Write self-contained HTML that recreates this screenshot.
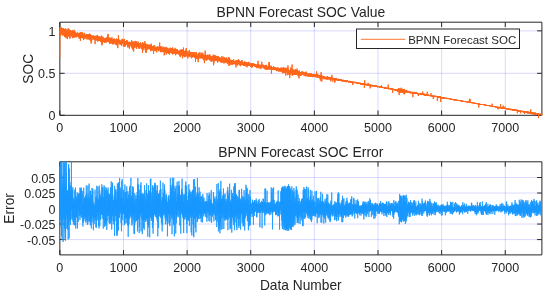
<!DOCTYPE html>
<html><head><meta charset="utf-8"><title>BPNN Forecast SOC</title>
<style>html,body{margin:0;padding:0;background:#fff;width:550px;height:296px;overflow:hidden}svg{display:block}</style>
</head><body>
<svg width="550" height="296" viewBox="0 0 550 296" font-family="'Liberation Sans', Arial, Helvetica, sans-serif" fill="#262626">
<rect width="550" height="296" fill="#fff"/>
<text x="300.8" y="16.8" text-anchor="middle" font-size="13.9">BPNN Forecast SOC Value</text>
<text x="300.8" y="156.8" text-anchor="middle" font-size="13.9">BPNN Forecast SOC Error</text>
<path d="M123.48 22.20V115.30M187.11 22.20V115.30M250.74 22.20V115.30M314.36 22.20V115.30M377.99 22.20V115.30M441.62 22.20V115.30M505.25 22.20V115.30" stroke="#0000ff" stroke-opacity="0.15" stroke-width="1.0" fill="none"/>
<path d="M59.85 73.30H541.90M59.85 30.85H541.90" stroke="#0000ff" stroke-opacity="0.15" stroke-width="1.0" fill="none"/>
<path d="M59.85 22.20H541.90V115.30H59.85ZM59.85 115.30v-4.8M59.85 22.20v4.8M123.48 115.30v-4.8M123.48 22.20v4.8M187.11 115.30v-4.8M187.11 22.20v4.8M250.74 115.30v-4.8M250.74 22.20v4.8M314.36 115.30v-4.8M314.36 22.20v4.8M377.99 115.30v-4.8M377.99 22.20v4.8M441.62 115.30v-4.8M441.62 22.20v4.8M505.25 115.30v-4.8M505.25 22.20v4.8M59.85 115.30h4.8M541.90 115.30h-4.8M59.85 73.30h4.8M541.90 73.30h-4.8M59.85 30.85h4.8M541.90 30.85h-4.8" stroke="#262626" stroke-width="1" fill="none"/>
<text x="59.85" y="131.70" text-anchor="middle" font-size="12.5">0</text>
<text x="123.48" y="131.70" text-anchor="middle" font-size="12.5">1000</text>
<text x="187.11" y="131.70" text-anchor="middle" font-size="12.5">2000</text>
<text x="250.74" y="131.70" text-anchor="middle" font-size="12.5">3000</text>
<text x="314.36" y="131.70" text-anchor="middle" font-size="12.5">4000</text>
<text x="377.99" y="131.70" text-anchor="middle" font-size="12.5">5000</text>
<text x="441.62" y="131.70" text-anchor="middle" font-size="12.5">6000</text>
<text x="505.25" y="131.70" text-anchor="middle" font-size="12.5">7000</text>
<text x="55.50" y="120.30" text-anchor="end" font-size="12.5">0</text>
<text x="55.50" y="78.30" text-anchor="end" font-size="12.5">0.5</text>
<text x="55.50" y="35.85" text-anchor="end" font-size="12.5">1</text>
<path d="M59.85 57.84l.06 -22.58 .07 -.32 .06 -4.32 .06 .54 .07 -.56 .06 2.74 .07 -1.54 .06 2.01 .06 -6.44 .07 8.49 .06 -4.12 .06 1.94 .07 -2.02 .06 -.59 .06 2.10 .07 .91 .06 -2.54 .07 .14 .06 2.09 .06 -3.85 .07 -1.58 .06 4.74 .06 -2.63 .07 -3.07 .06 2.74 .06 .87 .07 -1.78 .06 -.73 .07 3.79 .06 2.13 .06 -2.78 .07 -1.24 .06 2.79 .06 .83 .07 -2.50 .06 2.09 .06 1.24 .07 -3.06 .06 -1.48 .07 2.86 .06 -.23 .06 2.10 .07 -5.84 .06 1.54 .06 -.42 .07 -2.19 .06 4.57 .06 1.00 .07 -3.09 .06 5.21 .07 -1.37 .06 -.47 .06 -.54 .07 1.37 .06 -5.58 .06 4.76 .07 -.01 .06 -5.78 .06 5.17 .07 -1.44 .06 2.52 .06 -2.96 .07 1.04 .06 .89 .07 -2.96 .06 3.60 .06 -1.70 .07 1.46 .06 -2.45 .06 3.91 .07 -1.15 .06 -1.89 .06 1.97 .07 1.54 .06 1.29 .07 -8.14 .06 5.96 .06 -1.00 .07 -1.34 .06 -2.20 .06 5.49 .07 -6.08 .06 4.43 .06 1.78 .07 -6.99 .06 3.14 .07 -2.42 .06 3.76 .06 3.08 .07 1.23 .06 -9.15 .06 2.91 .07 3.09 .06 2.12 .06 -2.78 .07 -2.79 .06 2.52 .07 -.75 .06 -.44 .06 -1.26 .07 2.71 .06 -.18 .06 -.95 .07 -.30 .06 -2.54 .06 1.93 .07 4.06 .06 -3.33 .07 -2.98 .06 6.65 .06 -1.92 .07 3.78 .06 -4.87 .06 -1.24 .07 -2.35 .06 6.63 .06 2.81 .07 -7.90 .06 .42 .07 2.97 .06 -3.38 .06 1.34 .07 -.18 .06 1.30 .06 2.16 .07 -2.54 .06 2.14 .06 -3.16 .07 1.78 .06 -5.84 .07 1.65 .06 5.33 .06 -3.27 .07 2.78 .06 -.08 .06 1.86 .07 -1.20 .06 .50 .06 -2.66 .07 -1.38 .06 -.06 .07 .58 .06 -1.50 .06 1.39 .07 1.08 .06 .82 .06 -1.38 .07 -3.72 .06 4.37 .06 .71 .07 2.03 .06 -1.18 .07 -2.86 .06 -.17 .06 6.43 .07 -2.94 .06 2.54 .06 .71 .07 -6.91 .06 2.84 .06 .18 .07 .24 .06 -.03 .07 -.78 .06 -.06 .06 -3.91 .07 3.14 .06 -1.35 .06 2.06 .07 -1.38 .06 2.55 .06 .47 .07 -1.18 .06 .03 .06 -.51 .07 -1.25 .06 .68 .07 -.76 .06 2.06 .06 -.86 .07 1.33 .06 -4.42 .06 5.16 .07 -3.83 .06 .08 .06 1.26 .07 -.84 .06 1.99 .07 -1.99 .06 -1.14 .06 .53 .07 5.01 .06 -2.92 .06 -2.79 .07 2.73 .06 -3.61 .06 7.74 .07 -7.64 .06 4.63 .07 .16 .06 -4.58 .06 4.04 .07 1.62 .06 -1.21 .06 -.46 .07 1.59 .06 -1.80 .06 .40 .07 -1.04 .06 1.71 .07 -3.48 .06 3.83 .06 -2.82 .07 -1.24 .06 3.13 .06 2.81 .07 -1.55 .06 -3.07 .06 2.51 .07 -2.34 .06 .68 .07 .44 .06 -4.73 .06 4.95 .07 -2.35 .06 .66 .06 -1.44 .07 -.04 .06 1.10 .06 3.27 .07 1.52 .06 -3.05 .07 1.98 .06 -2.38 .06 -2.83 .07 3.57 .06 .51 .06 -1.46 .07 1.23 .06 .44 .06 -2.31 .07 -.94 .06 2.00 .07 .04 .06 -.21 .06 2.04 .07 1.09 .06 -3.17 .06 1.64 .07 .34 .06 -.33 .06 .46 .07 -1.97 .06 1.54 .07 1.75 .06 -1.64 .06 -1.91 .07 1.67 .06 .89 .06 -1.19 .07 -1.25 .06 2.85 .06 -3.76 .07 2.38 .06 -.69 .07 -1.58 .06 3.27 .06 -1.16 .07 -2.04 .06 2.40 .06 -1.39 .07 -1.97 .06 1.65 .06 1.30 .07 .51 .06 -.62 .07 -.16 .06 .59 .06 -.91 .07 1.89 .06 -1.38 .06 .21 .07 .34 .06 -2.15 .06 .48 .07 3.04 .06 -1.60 .07 -.83 .06 .86 .06 -1.11 .07 1.04 .06 -1.26 .06 1.28 .07 -2.50 .06 3.95 .06 -2.48 .07 -1.44 .06 1.85 .06 -.19 .07 .72 .06 -1.74 .07 2.10 .06 2.86 .06 -5.11 .07 2.20 .06 -.87 .06 .69 .07 -2.70 .06 .90 .06 2.20 .07 -.67 .06 2.28 .07 -3.16 .06 1.21 .06 3.16 .07 -4.42 .06 -.17 .06 1.19 .07 -.01 .06 1.22 .06 -.96 .07 -1.19 .06 6.55 .07 -2.11 .06 -1.66 .06 -5.10 .07 3.21 .06 -.99 .06 2.05 .07 -1.07 .06 2.87 .06 -1.35 .07 -.04 .06 -.95 .07 -.30 .06 .53 .06 1.31 .07 -1.02 .06 -1.19 .06 2.22 .07 -1.46 .06 -.36 .06 -.96 .07 .32 .06 -.09 .07 -2.52 .06 4.79 .06 -.60 .07 -1.05 .06 1.72 .06 -.81 .07 -.08 .06 -3.86 .06 3.06 .07 1.05 .06 1.48 .07 .32 .06 -.55 .06 -3.51 .07 -1.40 .06 3.78 .06 -.73 .07 1.28 .06 -1.46 .06 .48 .07 -2.33 .06 2.66 .07 -1.20 .06 1.09 .06 .16 .07 -.78 .06 .61 .06 -.44 .07 1.06 .06 3.03 .06 -4.79 .07 -.04 .06 3.18 .07 -2.50 .06 1.50 .06 -.80 .07 -1.29 .06 -.25 .06 1.20 .07 .20 .06 .49 .06 -2.55 .07 .93 .06 .69 .07 2.32 .06 -5.38 .06 3.82 .07 -1.32 .06 1.33 .06 -1.24 .07 1.17 .06 1.65 .06 -1.64 .07 .12 .06 -.07 .07 -1.52 .06 1.77 .06 -1.01 .07 -.81 .06 1.06 .06 -.24 .07 1.35 .06 -1.08 .06 -.65 .07 2.72 .06 -.63 .06 .40 .07 -.90 .06 -.97 .07 -.41 .06 .20 .06 1.69 .07 -1.13 .06 -2.17 .06 1.99 .07 -1.87 .06 2.17 .06 -1.86 .07 -.07 .06 1.90 .07 -.26 .06 -2.15 .06 3.30 .07 1.94 .06 -4.96 .06 4.52 .07 -3.42 .06 .28 .06 .44 .07 -1.72 .06 3.76 .07 -1.09 .06 -1.69 .06 .66 .07 -1.68 .06 1.60 .06 1.77 .07 -3.61 .06 1.76 .06 .80 .07 1.25 .06 .42 .07 -2.46 .06 -.38 .06 1.64 .07 -1.10 .06 .09 .06 1.91 .07 .85 .06 -1.94 .06 -.62 .07 1.06 .06 -3.36 .07 2.57 .06 -1.41 .06 4.73 .07 -2.27 .06 -.79 .06 -.44 .07 -3.15 .06 4.41 .06 1.27 .07 -3.22 .06 1.94 .07 .07 .06 -3.10 .06 3.41 .07 .59 .06 -1.54 .06 -.38 .07 1.17 .06 -3.18 .06 2.25 .07 1.33 .06 -3.14 .07 3.08 .06 -1.92 .06 -2.27 .07 2.72 .06 4.09 .06 -3.49 .07 -2.03 .06 3.06 .06 -2.45 .07 1.52 .06 -1.30 .07 7.10 .06 -4.62 .06 -1.33 .07 -.83 .06 -1.17 .06 3.33 .07 -.58 .06 3.33 .06 -3.98 .07 -1.74 .06 .03 .07 .27 .06 1.64 .06 -.07 .07 -1.42 .06 2.05 .06 .07 .07 -.83 .06 1.20 .06 -1.81 .07 .25 .06 .82 .07 -.69 .06 1.15 .06 -2.80 .07 3.69 .06 -3.02 .06 .86 .07 -1.66 .06 2.73 .06 .94 .07 -.27 .06 -.31 .06 -3.28 .07 1.08 .06 .45 .07 -.64 .06 2.84 .06 -1.28 .07 -.28 .06 .72 .06 -1.97 .07 .07 .06 .05 .06 1.91 .07 -.21 .06 .34 .07 .70 .06 -3.34 .06 1.10 .07 .99 .06 -2.05 .06 1.14 .07 2.14 .06 .13 .06 -.03 .07 -1.41 .06 -.34 .07 1.79 .06 -1.99 .06 .99 .07 1.37 .06 4.31 .06 -6.95 .07 .84 .06 .85 .06 -.15 .07 -.44 .06 .56 .07 -2.96 .06 1.03 .06 1.42 .07 -1.49 .06 -.56 .06 .19 .07 .41 .06 1.03 .06 -1.15 .07 1.75 .06 2.02 .07 -2.53 .06 1.97 .06 -1.35 .07 -1.93 .06 1.20 .06 -.99 .07 2.43 .06 -2.64 .06 3.43 .07 -1.02 .06 -3.58 .07 3.89 .06 1.07 .06 -3.22 .07 2.46 .06 -3.83 .06 2.84 .07 -2.63 .06 2.97 .06 -3.13 .07 -.97 .06 4.01 .07 2.63 .06 -3.98 .06 1.98 .07 -.98 .06 -.59 .06 1.31 .07 1.43 .06 -3.97 .06 2.50 .07 -.29 .06 -2.43 .07 4.21 .06 .47 .06 -4.00 .07 3.73 .06 -2.31 .06 -.29 .07 2.31 .06 -1.75 .06 .14 .07 1.66 .06 -.30 .07 -.54 .06 -3.16 .06 -.23 .07 3.75 .06 -2.83 .06 1.50 .07 -1.68 .06 1.24 .06 -1.51 .07 4.04 .06 -3.65 .07 1.25 .06 -.08 .06 1.94 .07 -3.63 .06 1.93 .06 -.23 .07 1.04 .06 -.07 .06 -1.29 .07 .99 .06 -.84 .07 1.18 .06 -.78 .06 -.76 .07 .88 .06 .56 .06 2.64 .07 -3.81 .06 1.12 .06 1.61 .07 -4.90 .06 .48 .06 .78 .07 1.50 .06 3.55 .07 -2.83 .06 1.15 .06 -1.98 .07 -3.09 .06 .21 .06 4.64 .07 -1.15 .06 -2.04 .06 8.06 .07 -8.38 .06 3.73 .07 .45 .06 -3.07 .06 -.47 .07 2.73 .06 -2.69 .06 2.73 .07 -2.84 .06 6.66 .06 -4.85 .07 -.72 .06 -.63 .07 1.58 .06 -2.95 .06 2.26 .07 -.16 .06 1.51 .06 -2.68 .07 4.14 .06 -2.80 .06 -1.14 .07 3.52 .06 .39 .07 -2.56 .06 -.97 .06 1.28 .07 -.97 .06 .53 .06 2.61 .07 -1.61 .06 -.33 .06 .29 .07 -.55 .06 1.26 .07 .07 .06 -1.73 .06 .67 .07 3.22 .06 -2.76 .06 -.83 .07 3.12 .06 -2.83 .06 -1.53 .07 2.48 .06 -2.18 .07 .57 .06 1.16 .06 -.62 .07 -.88 .06 .31 .06 -.05 .07 2.46 .06 -2.61 .06 .21 .07 3.65 .06 -3.60 .07 2.86 .06 -.23 .06 -2.04 .07 -1.75 .06 2.62 .06 .32 .07 .42 .06 -1.24 .06 1.59 .07 .27 .06 -3.40 .07 3.48 .06 -1.74 .06 -1.02 .07 .35 .06 3.08 .06 -1.24 .07 -3.86 .06 2.63 .06 -.30 .07 -.04 .06 -.46 .07 -1.31 .06 3.25 .06 -2.50 .07 .80 .06 -.31 .06 -.17 .07 2.07 .06 -.49 .06 -1.47 .07 -.37 .06 .68 .07 2.02 .06 -6.27 .06 5.26 .07 -.77 .06 .11 .06 .67 .07 -2.86 .06 -3.75 .06 5.24 .07 .32 .06 2.68 .06 -1.55 .07 -.24 .06 -.87 .07 -1.35 .06 2.45 .06 1.42 .07 -2.92 .06 3.18 .06 -3.47 .07 .56 .06 1.74 .06 -.69 .07 .97 .06 -1.99 .07 -.39 .06 -1.16 .06 .94 .07 .19 .06 -.48 .06 2.44 .07 -1.35 .06 -1.85 .06 6.27 .07 -4.63 .06 -.58 .07 3.51 .06 -.10 .06 -3.23 .07 -.44 .06 .67 .06 3.00 .07 -2.01 .06 -.69 .06 1.11 .07 1.74 .06 -3.64 .07 1.43 .06 -1.40 .06 5.02 .07 -.48 .06 -1.21 .06 -1.52 .07 1.13 .06 -3.90 .06 3.38 .07 -2.27 .06 .02 .07 .89 .06 .51 .06 1.33 .07 .19 .06 -.61 .06 -1.71 .07 2.32 .06 -1.13 .06 1.87 .07 -2.98 .06 -2.25 .07 2.90 .06 3.76 .06 -2.39 .07 -.93 .06 1.55 .06 -.53 .07 -.05 .06 -1.39 .06 .86 .07 .19 .06 -1.20 .07 -.68 .06 1.82 .06 1.21 .07 -.45 .06 -.21 .06 .02 .07 2.89 .06 -3.22 .06 1.14 .07 1.34 .06 -2.74 .07 .31 .06 1.14 .06 .95 .07 -1.98 .06 .08 .06 -.38 .07 -1.87 .06 3.38 .06 -1.98 .07 -2.12 .06 2.30 .07 -2.29 .06 1.06 .06 1.50 .07 -1.35 .06 2.91 .06 -3.69 .07 2.54 .06 .44 .06 1.34 .07 -.78 .06 -1.00 .07 -.21 .06 -.19 .06 1.77 .07 -2.62 .06 1.73 .06 -.89 .07 .51 .06 -.73 .06 3.54 .07 -4.10 .06 1.35 .06 .05 .07 .50 .06 -.22 .07 -.03 .06 .83 .06 -3.66 .07 2.25 .06 -1.83 .06 2.18 .07 -2.08 .06 .34 .06 1.34 .07 2.18 .06 -1.21 .07 -.40 .06 1.65 .06 -3.48 .07 -1.69 .06 2.49 .06 .23 .07 2.26 .06 1.36 .06 -5.16 .07 5.69 .06 -1.35 .07 -1.07 .06 -.69 .06 3.09 .07 -3.50 .06 -.82 .06 .93 .07 -2.25 .06 2.77 .06 -.86 .07 .67 .06 .06 .07 5.76 .06 -4.30 .06 -3.50 .07 2.88 .06 -3.73 .06 2.97 .07 -1.78 .06 1.31 .06 -1.04 .07 -2.30 .06 -3.32 .07 6.74 .06 .86 .06 -3.16 .07 -.99 .06 1.91 .06 1.02 .07 -.63 .06 -.26 .06 2.53 .07 .19 .06 -.33 .07 -2.55 .06 1.56 .06 -.40 .07 -1.87 .06 3.53 .06 -1.20 .07 -.86 .06 2.92 .06 -.99 .07 .15 .06 .54 .07 -.73 .06 -3.03 .06 1.36 .07 2.14 .06 -2.70 .06 1.24 .07 .57 .06 1.62 .06 -.21 .07 -.61 .06 -1.66 .07 1.71 .06 -.58 .06 -1.06 .07 2.36 .06 -1.32 .06 -1.92 .07 3.13 .06 -2.34 .06 1.33 .07 -3.27 .06 2.34 .07 -1.43 .06 -.03 .06 -1.45 .07 6.31 .06 -3.55 .06 .61 .07 1.37 .06 -1.91 .06 1.00 .07 -2.90 .06 2.43 .07 -.94 .06 1.44 .06 -.49 .07 -2.44 .06 -.72 .06 1.32 .07 2.75 .06 -.47 .06 -.03 .07 -3.78 .06 -.76 .07 2.96 .06 .47 .06 -.41 .07 1.51 .06 -.81 .06 -1.59 .07 .49 .06 1.62 .06 -.10 .07 -.22 .06 3.71 .06 -3.99 .07 .62 .06 -1.76 .07 1.02 .06 1.41 .06 .08 .07 -1.14 .06 .89 .06 -.53 .07 -3.06 .06 -.98 .06 7.65 .07 -2.34 .06 -1.40 .07 -2.66 .06 .75 .06 4.20 .07 -6.14 .06 3.48 .06 1.91 .07 -1.14 .06 .99 .06 -1.41 .07 4.05 .06 -5.46 .07 -.52 .06 2.63 .06 1.85 .07 -2.36 .06 1.78 .06 -2.52 .07 -1.03 .06 4.14 .06 .28 .07 -.04 .06 -3.15 .07 -1.13 .06 -.01 .06 1.52 .07 1.30 .06 -.11 .06 -3.09 .07 2.61 .06 -.27 .06 .13 .07 -.17 .06 -.28 .07 1.28 .06 -.73 .06 .17 .07 -1.45 .06 1.74 .06 -.81 .07 -3.18 .06 4.17 .06 -1.19 .07 1.91 .06 -1.72 .07 .11 .06 .51 .06 -.35 .07 -.68 .06 -2.14 .06 5.81 .07 -5.45 .06 1.99 .06 1.60 .07 -.43 .06 .31 .07 .33 .06 .80 .06 -1.53 .07 3.53 .06 -5.60 .06 1.99 .07 -.92 .06 -.29 .06 1.34 .07 1.88 .06 -3.45 .07 .01 .06 2.30 .06 -.27 .07 2.26 .06 -1.47 .06 -1.26 .07 -.88 .06 .88 .06 -.61 .07 -1.89 .06 2.20 .07 -.28 .06 -.08 .06 -.30 .07 5.55 .06 -3.74 .06 .40 .07 -2.45 .06 -.66 .06 1.19 .07 .86 .06 -.93 .07 .26 .06 1.84 .06 -1.04 .07 -2.04 .06 .90 .06 -.35 .07 1.34 .06 -2.13 .06 1.58 .07 1.40 .06 -1.05 .06 -1.49 .07 .49 .06 1.19 .07 .58 .06 .58 .06 -1.56 .07 -1.85 .06 4.37 .06 -1.78 .07 .18 .06 -.15 .06 -2.12 .07 1.15 .06 .93 .07 1.25 .06 -1.54 .06 -4.06 .07 3.60 .06 .96 .06 1.51 .07 -.92 .06 2.84 .06 -1.68 .07 -.12 .06 -.63 .07 -3.69 .06 3.56 .06 -.38 .07 -1.78 .06 1.78 .06 -.26 .07 -1.39 .06 .55 .06 -.21 .07 .80 .06 4.73 .07 -4.21 .06 -3.90 .06 2.61 .07 -2.22 .06 1.92 .06 1.60 .07 5.19 .06 -6.17 .06 .30 .07 2.40 .06 -4.24 .07 3.17 .06 5.60 .06 -7.73 .07 1.02 .06 -1.61 .06 1.69 .07 .85 .06 -3.05 .06 1.79 .07 -.47 .06 -2.47 .07 2.80 .06 -.96 .06 3.40 .07 -3.50 .06 4.10 .06 -3.54 .07 3.94 .06 -2.21 .06 -.13 .07 .57 .06 .17 .07 .80 .06 .53 .06 -3.28 .07 -1.43 .06 -1.97 .06 3.37 .07 1.83 .06 -.60 .06 -.40 .07 -.73 .06 -.45 .07 .58 .06 1.07 .06 -3.40 .07 3.96 .06 -3.45 .06 2.07 .07 -.74 .06 .43 .06 -1.07 .07 -.16 .06 1.47 .07 -1.34 .06 5.63 .06 -4.55 .07 -.37 .06 .18 .06 -.82 .07 -2.18 .06 3.50 .06 .90 .07 -2.86 .06 2.40 .07 -1.91 .06 1.87 .06 .64 .07 .21 .06 -.07 .06 -1.80 .07 2.52 .06 -2.09 .06 1.28 .07 .57 .06 -1.59 .06 -1.54 .07 3.02 .06 -2.73 .07 .37 .06 -.33 .06 3.09 .07 -1.58 .06 -3.29 .06 4.73 .07 2.13 .06 -.42 .06 -3.74 .07 1.04 .06 .69 .07 .62 .06 -1.35 .06 -1.77 .07 2.93 .06 -.21 .06 -3.07 .07 1.54 .06 1.02 .06 -.42 .07 .84 .06 .44 .07 -.39 .06 -1.03 .06 -1.94 .07 3.12 .06 1.25 .06 .92 .07 -3.17 .06 .01 .06 2.35 .07 0 .06 -1.72 .07 .60 .06 -2.32 .06 2.13 .07 -2.21 .06 1.08 .06 .05 .07 -.54 .06 -2.58 .06 2.04 .07 1.84 .06 -.61 .07 -.51 .06 1.31 .06 .42 .07 .26 .06 -2.60 .06 1.32 .07 -.55 .06 -.85 .06 -.97 .07 2.22 .06 -1.21 .07 4.78 .06 -3.54 .06 -.19 .07 -.26 .06 3.60 .06 -4.44 .07 1.25 .06 -.95 .06 1.03 .07 .15 .06 1.80 .07 -3.96 .06 2.21 .06 2.60 .07 -3.35 .06 .54 .06 7.26 .07 -10.87 .06 3.76 .06 2.03 .07 -2.58 .06 -2.17 .07 3.35 .06 -.29 .06 1.46 .07 -.13 .06 -1.85 .06 1.07 .07 -3.45 .06 4.60 .06 -1.45 .07 1.42 .06 -.02 .07 -2.12 .06 .23 .06 -1.13 .07 -1.87 .06 7.28 .06 -3.76 .07 -1.94 .06 2.84 .06 -.95 .07 .57 .06 -1.92 .07 -1.55 .06 4.01 .06 -.25 .07 -1.12 .06 -.48 .06 .24 .07 .23 .06 -.58 .06 -2.35 .07 4.41 .06 -6.58 .07 4.84 .06 .06 .06 .90 .07 -2.94 .06 4.45 .06 -.85 .07 .19 .06 .79 .06 -3.24 .07 7.05 .06 -5.24 .06 1.55 .07 -.22 .06 -2.66 .07 .71 .06 .60 .06 -3.27 .07 1.80 .06 .06 .06 7.11 .07 -7.11 .06 3.50 .06 -2.43 .07 -2.64 .06 6.13 .07 -5.00 .06 2.51 .06 1.72 .07 -3.51 .06 -1.08 .06 3.58 .07 -1.52 .06 -2.02 .06 .24 .07 1.09 .06 2.14 .07 -1.95 .06 1.49 .06 1.58 .07 -.60 .06 .28 .06 -.31 .07 -4.45 .06 4.45 .06 -1.39 .07 -.70 .06 -1.49 .07 -.78 .06 .76 .06 1.72 .07 -1.80 .06 .57 .06 .33 .07 2.02 .06 -1.50 .06 .25 .07 2.32 .06 -2.58 .07 1.46 .06 -2.59 .06 2.19 .07 -.32 .06 .10 .06 -1.00 .07 -.87 .06 1.16 .06 -.26 .07 2.37 .06 -.19 .07 -3.29 .06 2.87 .06 -1.72 .07 1.48 .06 -1.46 .06 -1.54 .07 3.91 .06 -.87 .06 -2.62 .07 -1.03 .06 2.13 .07 -1.00 .06 1.29 .06 1.55 .07 1.34 .06 -2.84 .06 2.72 .07 -.32 .06 -2.49 .06 -1.92 .07 3.96 .06 -.37 .07 2.74 .06 -1.44 .06 -1.00 .07 1.43 .06 -4.27 .06 1.95 .07 -.72 .06 3.17 .06 -1.83 .07 -4.79 .06 6.07 .07 -3.55 .06 2.65 .06 -1.95 .07 1.14 .06 .63 .06 -.68 .07 -1.79 .06 3.70 .06 -1.56 .07 -.63 .06 1.14 .07 -1.93 .06 3.80 .06 -2.59 .07 .23 .06 -.02 .06 -1.95 .07 -.40 .06 2.19 .06 .22 .07 1.56 .06 -1.38 .06 -2.40 .07 2.54 .06 .48 .07 .28 .06 -1.03 .06 -2.42 .07 3.73 .06 -2.94 .06 2.05 .07 -3.35 .06 3.67 .06 4.66 .07 -4.15 .06 1.08 .07 -.92 .06 -3.64 .06 .36 .07 .13 .06 2.40 .06 -.48 .07 -.28 .06 .24 .06 .43 .07 .13 .06 1.63 .07 -2.72 .06 .42 .06 -3.20 .07 .84 .06 .99 .06 -.76 .07 2.21 .06 1.29 .06 -2.30 .07 -.07 .06 -.03 .07 1.01 .06 -1.04 .06 1.53 .07 -.19 .06 .08 .06 .66 .07 -1.13 .06 .18 .06 2.53 .07 -2.80 .06 1.32 .07 -1.15 .06 -.78 .06 .01 .07 -.56 .06 1.31 .06 -.95 .07 .29 .06 2.57 .06 -2.10 .07 2.00 .06 -1.35 .07 .94 .06 -2.29 .06 1.20 .07 3.67 .06 -2.59 .06 .28 .07 -1.19 .06 .98 .06 -3.13 .07 .49 .06 2.01 .07 .62 .06 -1.91 .06 .36 .07 -.26 .06 .28 .06 -1.57 .07 -.35 .06 2.11 .06 -2.56 .07 1.19 .06 .50 .07 -.60 .06 2.02 .06 -1.06 .07 .58 .06 -1.44 .06 .43 .07 1.96 .06 -.22 .06 -1.28 .07 1.30 .06 -.27 .07 -.03 .06 2.24 .06 -3.09 .07 1.28 .06 .01 .06 -1.00 .07 -1.44 .06 2.89 .06 -.65 .07 -.33 .06 -.03 .07 .01 .06 -1.41 .06 1.85 .07 -3.25 .06 2.77 .06 -6.33 .07 5.84 .06 1.67 .06 -1.50 .07 -.34 .06 1.55 .06 -1.20 .07 -.21 .06 .03 .07 2.97 .06 -1.30 .06 -.28 .07 -2.58 .06 2.81 .06 -2.95 .07 2.76 .06 -2.47 .06 4.77 .07 -5.63 .06 4.52 .07 -.64 .06 -3.99 .06 2.39 .07 2.62 .06 -.46 .06 -4.33 .07 1.78 .06 -1.01 .06 .25 .07 .60 .06 3.86 .07 -2.64 .06 -.54 .06 -.16 .07 1.56 .06 .05 .06 -2.49 .07 3.72 .06 -3.95 .06 1.26 .07 1.14 .06 1.96 .07 -3.17 .06 .99 .06 1.58 .07 -1.04 .06 .79 .06 -.12 .07 -1.20 .06 .59 .06 .45 .07 -1.45 .06 2.53 .07 -5.54 .06 1.66 .06 3.67 .07 -1.56 .06 -1.65 .06 1.59 .07 1.11 .06 -2.53 .06 2.06 .07 -1.37 .06 .03 .07 .08 .06 1.84 .06 -3.45 .07 1.18 .06 1.61 .06 -2.91 .07 -.54 .06 8.11 .06 -5.64 .07 -.22 .06 .46 .07 -1.72 .06 5.48 .06 -5.47 .07 .86 .06 -1.52 .06 1.57 .07 3.01 .06 -2.32 .06 .91 .07 -1.66 .06 3.56 .07 -2.54 .06 -2.17 .06 3.13 .07 -1.75 .06 1.52 .06 -.71 .07 .20 .06 -.18 .06 -1.60 .07 -.92 .06 3.85 .07 -1.71 .06 .66 .06 -1.15 .07 -2.40 .06 1.17 .06 4.14 .07 -3.36 .06 5.69 .06 -6.72 .07 1.46 .06 .25 .07 .24 .06 .24 .06 -.85 .07 .10 .06 .88 .06 .53 .07 -.71 .06 2.92 .06 -2.36 .07 -.06 .06 -1.25 .07 2.61 .06 -3.16 .06 -.90 .07 1.00 .06 2.47 .06 -2.71 .07 3.77 .06 -2.02 .06 -2.29 .07 1.99 .06 3.12 .06 -4.07 .07 -.68 .06 2.82 .07 1.24 .06 -.44 .06 -2.06 .07 .80 .06 .23 .06 1.32 .07 1.51 .06 -3.47 .06 2.18 .07 -2.52 .06 1.45 .07 -2.34 .06 .27 .06 1.83 .07 -2.01 .06 2.76 .06 -2.20 .07 .98 .06 -.24 .06 -.38 .07 .73 .06 1.47 .07 2.31 .06 -5.78 .06 2.31 .07 -.73 .06 -1.12 .06 1.86 .07 -1.79 .06 1.25 .06 2.04 .07 -5.01 .06 3.50 .07 .32 .06 -2.15 .06 2.29 .07 -.25 .06 -1.07 .06 2.41 .07 -3.86 .06 3.01 .06 -1.34 .07 -1.25 .06 1.36 .07 -.25 .06 1.80 .06 -3.55 .07 2.02 .06 -.39 .06 3.13 .07 -4.13 .06 3.36 .06 -4.32 .07 3.24 .06 -.73 .07 .80 .06 -1.65 .06 -1.91 .07 .63 .06 4.40 .06 -1.68 .07 -1.64 .06 2.72 .06 -2.52 .07 .02 .06 -.72 .07 3.68 .06 1.22 .06 -4.49 .07 1.94 .06 1.07 .06 1.75 .07 -6.92 .06 3.91 .06 .78 .07 -3.25 .06 2.91 .07 -.31 .06 .81 .06 -1.99 .07 1.55 .06 -1.57 .06 1.88 .07 -.68 .06 -.81 .06 -1.59 .07 4.72 .06 -.82 .07 -.34 .06 -2.36 .06 .49 .07 3.11 .06 -1.41 .06 -2.43 .07 1.39 .06 .15 .06 -.51 .07 -1.13 .06 3.39 .07 -1.01 .06 -1.20 .06 -2.10 .07 1.53 .06 .91 .06 1.35 .07 -1.89 .06 2.28 .06 -1.47 .07 -1.35 .06 -2.55 .06 1.92 .07 -.48 .06 2.07 .07 .75 .06 1.64 .06 -2.14 .07 -1.74 .06 5.39 .06 -3.12 .07 -.87 .06 .02 .06 -1.66 .07 3.06 .06 -.39 .07 1.87 .06 -.73 .06 -.35 .07 .61 .06 -2.35 .06 -.23 .07 .61 .06 -1.81 .06 1.70 .07 -.28 .06 1.54 .07 -1.03 .06 -2.89 .06 2.98 .07 2.14 .06 -4.97 .06 1.66 .07 1.20 .06 -2.04 .06 1.20 .07 .94 .06 -2.09 .07 2.48 .06 .19 .06 -2.56 .07 2.00 .06 1.62 .06 -1.91 .07 .95 .06 .33 .06 -1.33 .07 1.87 .06 -.90 .07 -2.09 .06 2.33 .06 .53 .07 -.08 .06 -2.20 .06 1.70 .07 1.41 .06 -1.74 .06 1.48 .07 .19 .06 -2.04 .07 1.08 .06 -1.44 .06 2.09 .07 -1.76 .06 -.69 .06 .81 .07 -.06 .06 .71 .06 .14 .07 -2.48 .06 .80 .07 1.55 .06 .20 .06 -.59 .07 3.73 .06 -2.13 .06 -1.81 .07 1.24 .06 .95 .06 -1.47 .07 -3.21 .06 2.82 .07 -.06 .06 3.20 .06 -6.05 .07 5.18 .06 2.11 .06 -3.03 .07 -1.85 .06 .73 .06 1.47 .07 -1.59 .06 1.50 .07 -1.72 .06 -.49 .06 .30 .07 -.42 .06 .60 .06 2.27 .07 -3.85 .06 -.74 .06 2.52 .07 2.61 .06 -.96 .07 .43 .06 -.10 .06 -3.00 .07 1.30 .06 -4.00 .06 2.92 .07 1.86 .06 -3.28 .06 -.76 .07 1.17 .06 2.33 .06 1.46 .07 2.00 .06 -1.57 .07 -4.48 .06 7.60 .06 -5.03 .07 1.39 .06 -4.06 .06 1.68 .07 .13 .06 .75 .06 -.31 .07 1.07 .06 .84 .07 -1.49 .06 1.05 .06 1.91 .07 -4.58 .06 -.03 .06 -4.09 .07 8.54 .06 -2.56 .06 1.43 .07 -2.12 .06 1.87 .07 -2.33 .06 1.99 .06 -.41 .07 .02 .06 1.50 .06 -.45 .07 -2.52 .06 2.27 .06 -3.92 .07 4.11 .06 2.17 .07 -2.84 .06 -.02 .06 -.66 .07 1.18 .06 -1.94 .06 1.73 .07 -1.42 .06 -.22 .06 .85 .07 -.27 .06 -2.53 .07 5.81 .06 -2.93 .06 -2.78 .07 4.23 .06 -1.67 .06 .36 .07 .78 .06 -2.43 .06 -2.61 .07 3.84 .06 .54 .07 1.16 .06 -2.66 .06 .76 .07 1.02 .06 -6.37 .06 5.40 .07 .78 .06 -1.89 .06 3.93 .07 -3.79 .06 1.46 .07 -.54 .06 -.57 .06 1.90 .07 .73 .06 .69 .06 -1.32 .07 -1.55 .06 2.00 .06 -3.49 .07 2.28 .06 .72 .07 .08 .06 -2.60 .06 -.51 .07 4.80 .06 -3.29 .06 -1.71 .07 .62 .06 6.23 .06 -2.54 .07 -1.79 .06 1.84 .07 -1.47 .06 .38 .06 .78 .07 -2.05 .06 1.03 .06 -1.03 .07 -.37 .06 1.97 .06 -2.23 .07 1.37 .06 -1.31 .07 1.07 .06 -.65 .06 2.46 .07 -1.52 .06 0 .06 2.39 .07 -6.39 .06 2.21 .06 -2.19 .07 3.88 .06 .68 .07 .32 .06 -.56 .06 -1.72 .07 3.98 .06 -2.18 .06 -.85 .07 -1.29 .06 2.34 .06 -1.37 .07 .07 .06 1.00 .06 .03 .07 -1.57 .06 3.15 .07 -3.40 .06 -.17 .06 2.17 .07 -.27 .06 -.07 .06 -.72 .07 .69 .06 -.90 .06 -1.64 .07 3.62 .06 -2.63 .07 1.19 .06 1.46 .06 -1.06 .07 3.73 .06 -5.86 .06 1.00 .07 1.27 .06 1.93 .06 -2.42 .07 -1.77 .06 3.90 .07 -3.11 .06 1.10 .06 1.64 .07 -2.33 .06 .34 .06 1.43 .07 -1.04 .06 .75 .06 -1.85 .07 1.26 .06 -1.46 .07 -.69 .06 5.01 .06 -1.96 .07 .71 .06 -2.83 .06 1.43 .07 -.26 .06 -1.82 .06 2.98 .07 -1.91 .06 .80 .07 -1.98 .06 3.80 .06 -.34 .07 -.54 .06 -1.96 .06 .57 .07 2.67 .06 -2.25 .06 .83 .07 -.18 .06 -1.89 .07 4.00 .06 -5.28 .06 3.34 .07 -.46 .06 -2.29 .06 2.95 .07 .29 .06 -.69 .06 -1.32 .07 1.94 .06 1.01 .07 -1.33 .06 2.27 .06 -1.29 .07 -.12 .06 .94 .06 -3.08 .07 .22 .06 1.58 .06 .01 .07 1.51 .06 -.54 .07 -1.45 .06 .08 .06 -.73 .07 7.03 .06 -7.27 .06 2.05 .07 -2.06 .06 .19 .06 .79 .07 -1.00 .06 .44 .07 -2.93 .06 3.86 .06 -1.01 .07 .77 .06 .28 .06 -3.33 .07 6.42 .06 -3.35 .06 .05 .07 -2.93 .06 3.65 .07 -.29 .06 -1.14 .06 .94 .07 1.58 .06 -2.41 .06 -.83 .07 3.38 .06 -1.58 .06 -.65 .07 3.74 .06 -3.20 .06 -.49 .07 .67 .06 -.99 .07 .93 .06 -.08 .06 -1.20 .07 .60 .06 .86 .06 .12 .07 .31 .06 .31 .06 -.79 .07 5.93 .06 -6.86 .07 .19 .06 1.96 .06 -4.52 .07 3.53 .06 3.02 .06 -6.35 .07 5.04 .06 -4.89 .06 3.19 .07 1.89 .06 -.20 .07 -3.59 .06 -.59 .06 -.20 .07 3.24 .06 -1.66 .06 .60 .07 .39 .06 .23 .06 .20 .07 -.61 .06 -2.59 .07 4.60 .06 -6.00 .06 5.69 .07 -2.75 .06 .62 .06 -.48 .07 .24 .06 .53 .06 -.38 .07 -1.21 .06 2.93 .07 -2.14 .06 2.89 .06 -2.23 .07 -.81 .06 1.72 .06 .68 .07 -2.70 .06 .97 .06 2.57 .07 -3.61 .06 .23 .07 1.53 .06 -2.05 .06 -1.86 .07 1.20 .06 3.06 .06 .43 .07 -.08 .06 -.29 .06 -2.41 .07 2.86 .06 .72 .07 -2.75 .06 2.46 .06 -1.94 .07 .84 .06 .27 .06 -2.75 .07 4.41 .06 -3.44 .06 1.13 .07 -.57 .06 1.42 .07 -.02 .06 -.60 .06 2.08 .07 -1.67 .06 -1.00 .06 -3.17 .07 3.36 .06 0 .06 -.85 .07 .03 .06 2.17 .07 .68 .06 1.27 .06 -1.11 .07 -2.73 .06 1.44 .06 -2.39 .07 3.11 .06 -.54 .06 -1.42 .07 .76 .06 -.20 .07 -.56 .06 2.90 .06 1.70 .07 -2.41 .06 .36 .06 -1.32 .07 -.74 .06 3.77 .06 3.11 .07 -5.75 .06 -.75 .06 1.06 .07 -.93 .06 .96 .07 -2.74 .06 1.73 .06 2.19 .07 -3.54 .06 .55 .06 3.02 .07 -8.34 .06 7.91 .06 -4.86 .07 3.52 .06 -2.08 .07 -.16 .06 2.67 .06 1.15 .07 -3.94 .06 .58 .06 .78 .07 .69 .06 -1.76 .06 5.29 .07 -2.45 .06 -1.38 .07 -.23 .06 4.19 .06 -.11 .07 -4.00 .06 1.24 .06 1.35 .07 -3.59 .06 .89 .06 2.86 .07 -2.99 .06 .39 .07 -1.34 .06 .88 .06 2.13 .07 -2.21 .06 -.70 .06 1.01 .07 3.53 .06 -2.33 .06 -1.08 .07 1.06 .06 .44 .07 -.46 .06 -2.83 .06 3.11 .07 -.75 .06 1.56 .06 -3.21 .07 3.53 .06 -2.25 .06 -1.77 .07 4.47 .06 -2.70 .07 1.31 .06 -.77 .06 1.85 .07 .02 .06 .03 .06 -.58 .07 -3.40 .06 -.09 .06 2.77 .07 -1.68 .06 2.09 .07 -.43 .06 -2.31 .06 .57 .07 -.14 .06 .38 .06 1.00 .07 1.31 .06 .98 .06 -3.37 .07 .60 .06 3.11 .07 -.95 .06 -.96 .06 -3.76 .07 1.97 .06 1.71 .06 -1.08 .07 3.78 .06 -2.76 .06 .29 .07 -2.01 .06 .09 .07 .57 .06 .07 .06 .58 .07 .90 .06 -.19 .06 1.12 .07 -3.42 .06 2.29 .06 .06 .07 1.97 .06 -2.62 .07 .80 .06 3.36 .06 -3.19 .07 -.03 .06 -1.48 .06 .28 .07 .61 .06 .90 .06 -2.51 .07 2.97 .06 -1.76 .07 3.26 .06 -.63 .06 -2.70 .07 -.31 .06 4.50 .06 -2.65 .07 -.08 .06 -1.43 .06 .44 .07 1.37 .06 -.27 .06 -2.08 .07 3.02 .06 -1.35 .07 -1.82 .06 2.84 .06 -1.69 .07 1.40 .06 -1.92 .06 1.33 .07 -2.86 .06 2.90 .06 -2.73 .07 2.45 .06 -3.80 .07 3.49 .06 1.15 .06 -.33 .07 6.25 .06 -8.48 .06 3.82 .07 .07 .06 -4.04 .06 6.73 .07 -5.80 .06 .80 .07 .31 .06 -3.81 .06 4.42 .07 -1.21 .06 -1.09 .06 2.85 .07 -1.86 .06 2.15 .06 -.86 .07 -1.22 .06 2.16 .07 -.52 .06 -1.87 .06 -1.58 .07 1.54 .06 1.68 .06 -1.21 .07 2.88 .06 -2.15 .06 -.08 .07 .31 .06 -1.83 .07 1.10 .06 -.76 .06 -2.41 .07 .83 .06 3.61 .06 -1.68 .07 .47 .06 -1.93 .06 1.29 .07 1.97 .06 -.97 .07 -.87 .06 2.94 .06 -2.26 .07 -.40 .06 2.14 .06 -4.10 .07 3.27 .06 -2.36 .06 .48 .07 .16 .06 1.17 .07 -.02 .06 .29 .06 -.13 .07 1.71 .06 .42 .06 -1.38 .07 .08 .06 -1.60 .06 -1.02 .07 2.41 .06 -.78 .07 1.18 .06 -3.80 .06 6.14 .07 -5.33 .06 1.87 .06 1.37 .07 -3.36 .06 1.19 .06 -2.07 .07 .85 .06 -.71 .07 2.90 .06 .28 .06 -.85 .07 2.25 .06 .19 .06 -1.97 .07 -.29 .06 -.06 .06 -.24 .07 2.49 .06 -1.50 .07 -.79 .06 .16 .06 1.10 .07 -1.32 .06 1.02 .06 -.48 .07 1.97 .06 -.27 .06 -3.62 .07 1.78 .06 1.25 .06 -1.63 .07 1.79 .06 -.66 .07 .37 .06 -.91 .06 .53 .07 .32 .06 -2.80 .06 .79 .07 -.13 .06 3.81 .06 -1.93 .07 .11 .06 -.27 .07 -.96 .06 -.31 .06 2.25 .07 -1.70 .06 2.75 .06 -1.93 .07 -.13 .06 -.43 .06 .22 .07 .16 .06 2.09 .07 1.15 .06 -4.87 .06 1.98 .07 .65 .06 -2.24 .06 .39 .07 .25 .06 -2.71 .06 4.28 .07 -.96 .06 -.05 .07 .25 .06 .25 .06 2.88 .07 -2.96 .06 .92 .06 -1.87 .07 1.23 .06 -.92 .06 .24 .07 -1.04 .06 .14 .07 1.78 .06 .41 .06 -.39 .07 -1.56 .06 1.39 .06 -3.90 .07 4.79 .06 -1.35 .06 .44 .07 1.25 .06 -2.19 .07 1.93 .06 -1.93 .06 1.38 .07 -1.31 .06 1.00 .06 1.60 .07 -2.90 .06 .07 .06 .40 .07 .88 .06 3.01 .07 -4.20 .06 -2.01 .06 1.93 .07 -1.27 .06 1.43 .06 .80 .07 -1.33 .06 .39 .06 -1.62 .07 2.84 .06 -1.27 .07 2.53 .06 -.03 .06 -2.63 .07 .69 .06 .60 .06 .98 .07 -3.33 .06 2.21 .06 2.67 .07 -2.67 .06 .44 .07 -.29 .06 -1.63 .06 2.96 .07 -.93 .06 -.13 .06 .78 .07 .10 .06 -3.67 .06 3.27 .07 -1.44 .06 1.03 .07 -1.19 .06 -.20 .06 2.51 .07 -1.31 .06 -.36 .06 .01 .07 .51 .06 -.12 .06 -3.20 .07 2.06 .06 .88 .06 1.35 .07 .86 .06 -3.13 .07 3.94 .06 -2.50 .06 .55 .07 -1.38 .06 -.09 .06 2.80 .07 -2.24 .06 .17 .06 1.73 .07 .78 .06 -4.38 .07 1.80 .06 .26 .06 2.49 .07 .83 .06 -3.34 .06 .59 .07 .68 .06 .40 .06 -1.98 .07 1.61 .06 -2.10 .07 -2.55 .06 1.65 .06 2.18 .07 .78 .06 -4.11 .06 .63 .07 7.02 .06 -8.07 .06 4.29 .07 .66 .06 -4.91 .07 4.58 .06 -1.29 .06 2.19 .07 -1.52 .06 -.69 .06 .50 .07 1.12 .06 3.18 .06 -4.37 .07 -1.99 .06 2.61 .07 -.59 .06 2.45 .06 -2.49 .07 -.09 .06 -.71 .06 1.83 .07 -1.24 .06 -.66 .06 3.12 .07 .25 .06 -2.99 .07 -.76 .06 2.91 .06 -2.63 .07 4.29 .06 -3.33 .06 1.49 .07 -3.03 .06 1.71 .06 1.53 .07 -.86 .06 -1.31 .07 3.88 .06 -2.14 .06 -1.29 .07 -.49 .06 .46 .06 2.19 .07 -2.84 .06 1.09 .06 -1.13 .07 2.79 .06 -1.89 .07 1.39 .06 -.39 .06 -1.53 .07 1.73 .06 .34 .06 -2.79 .07 2.49 .06 2.20 .06 -3.52 .07 1.27 .06 -2.64 .07 2.42 .06 -1.39 .06 1.82 .07 -1.08 .06 -1.50 .06 3.06 .07 -1.75 .06 -1.06 .06 1.46 .07 -1.37 .06 1.83 .07 -.60 .06 -.40 .06 1.40 .07 -2.59 .06 3.02 .06 -3.97 .07 4.84 .06 -1.90 .06 -.58 .07 -.62 .06 1.73 .07 -.94 .06 -.01 .06 1.63 .07 -1.95 .06 .27 .06 .90 .07 .87 .06 -1.62 .06 .43 .07 -.15 .06 .95 .06 1.00 .07 -3.22 .06 1.08 .07 .12 .06 .87 .06 1.22 .07 -2.01 .06 .31 .06 1.24 .07 -3.16 .06 .65 .06 .43 .07 .60 .06 .33 .07 -.99 .06 3.04 .06 -3.27 .07 .69 .06 1.72 .06 -.40 .07 3.99 .06 -4.50 .06 .60 .07 -1.10 .06 .89 .07 -2.07 .06 1.32 .06 -2.27 .07 1.01 .06 -.32 .06 3.19 .07 -2.27 .06 1.02 .06 -1.61 .07 .96 .06 -.09 .07 -.75 .06 2.28 .06 -3.34 .07 3.05 .06 2.28 .06 -4.18 .07 1.14 .06 -2.10 .06 2.04 .07 -2.26 .06 3.14 .07 -1.48 .06 -1.79 .06 .74 .07 -.38 .06 1.73 .06 1.52 .07 -1.65 .06 -1.03 .06 .46 .07 1.27 .06 -3.38 .07 4.01 .06 -.23 .06 -3.79 .07 4.83 .06 -3.73 .06 1.89 .07 1.86 .06 -3.73 .06 -.27 .07 .98 .06 .05 .07 1.26 .06 -.50 .06 .05 .07 .03 .06 .40 .06 -.87 .07 1.56 .06 -.42 .06 -1.32 .07 3.73 .06 -4.04 .07 2.64 .06 -1.93 .06 1.46 .07 .22 .06 .46 .06 .74 .07 -2.93 .06 4.22 .06 -2.58 .07 -1.56 .06 -.69 .07 4.80 .06 -.89 .06 -2.13 .07 1.01 .06 .73 .06 -1.56 .07 -.65 .06 .51 .06 1.13 .07 -1.04 .06 -1.58 .07 2.54 .06 -3.15 .06 1.26 .07 2.54 .06 -1.26 .06 0 .07 -.15 .06 1.18 .06 -1.36 .07 -2.39 .06 2.79 .06 -3.48 .07 .61 .06 4.58 .07 -.67 .06 -1.88 .06 .50 .07 .21 .06 1.16 .06 -2.21 .07 -.13 .06 .33 .06 .97 .07 .16 .06 -.80 .07 1.44 .06 -2.20 .06 1.18 .07 -.75 .06 -.37 .06 2.76 .07 -1.89 .06 -.84 .06 1.30 .07 -1.27 .06 1.97 .07 .33 .06 .22 .06 -2.54 .07 1.13 .06 2.44 .06 -2.50 .07 1.81 .06 .32 .06 -3.51 .07 3.15 .06 -.54 .07 .16 .06 .99 .06 -1.48 .07 -.44 .06 .65 .06 -1.14 .07 1.02 .06 -2.99 .06 4.48 .07 -2.69 .06 1.29 .07 -.26 .06 -.24 .06 .02 .07 -.04 .06 -2.01 .06 1.30 .07 2.07 .06 -2.60 .06 -.03 .07 3.74 .06 -1.06 .07 .43 .06 -1.84 .06 .34 .07 .59 .06 -.23 .06 -.75 .07 -1.59 .06 .86 .06 -.89 .07 3.59 .06 -2.28 .07 .26 .06 .55 .06 -.30 .07 .60 .06 -1.32 .06 -1.02 .07 3.77 .06 -2.82 .06 .28 .07 -.35 .06 .29 .07 .66 .06 3.19 .06 -4.39 .07 1.53 .06 -1.08 .06 2.13 .07 -2.74 .06 1.51 .06 .70 .07 -2.32 .06 1.66 .07 .05 .06 -1.04 .06 .66 .07 1.35 .06 -.82 .06 -.72 .07 .24 .06 .73 .06 .92 .07 -.51 .06 -.07 .07 .93 .06 -3.41 .06 .14 .07 -.91 .06 3.41 .06 -3.40 .07 2.46 .06 .88 .06 -2.33 .07 .81 .06 .44 .06 1.09 .07 -2.42 .06 1.99 .07 .42 .06 -.59 .06 .03 .07 1.17 .06 -1.08 .06 -.25 .07 -.33 .06 1.06 .06 -.99 .07 1.01 .06 -.57 .07 1.10 .06 -2.02 .06 .92 .07 .30 .06 .08 .06 .77 .07 -.77 .06 .55 .06 1.12 .07 -1.16 .06 -1.99 .07 -.38 .06 2.22 .06 -1.09 .07 .71 .06 -.48 .06 1.57 .07 -.10 .06 -2.44 .06 1.49 .07 -.60 .06 -1.04 .07 2.06 .06 -.82 .06 .63 .07 2.14 .06 -1.19 .06 -.23 .07 -1.57 .06 -.80 .06 2.55 .07 -1.61 .06 .38 .07 -.43 .06 .51 .06 2.42 .07 -2.84 .06 .05 .06 .52 .07 .09 .06 -1.54 .06 -.59 .07 1.26 .06 .39 .07 -.59 .06 -.21 .06 .07 .07 .58 .06 .29 .06 -1.56 .07 1.14 .06 .95 .06 -.49 .07 -1.28 .06 1.05 .07 .36 .06 .83 .06 -2.47 .07 2.41 .06 -1.18 .06 .70 .07 .50 .06 -1.60 .06 .08 .07 .73 .06 .88 .07 -1.31 .06 -.89 .06 .76 .07 1.12 .06 .82 .06 -1.72 .07 .20 .06 .16 .06 .06 .07 -.83 .06 .53 .07 .69 .06 -.11 .06 -.07 .07 -1.05 .06 .48 .06 -.15 .07 1.82 .06 .43 .06 -1.14 .07 1.30 .06 -1.93 .07 .02 .06 -1.02 .06 1.58 .07 -.70 .06 .58 .06 .41 .07 -.73 .06 -.89 .06 1.11 .07 -.01 .06 .11 .07 .67 .06 -.89 .06 -.05 .07 2.06 .06 -.66 .06 -1.18 .07 -.85 .06 .51 .06 .86 .07 .48 .06 1.60 .06 -2.68 .07 .42 .06 -.51 .07 .46 .06 -.46 .06 -.69 .07 2.14 .06 -.89 .06 1.18 .07 -1.80 .06 .79 .06 .41 .07 -2.56 .06 .58 .07 2.11 .06 -5.90 .06 3.31 .07 1.12 .06 -.30 .06 .58 .07 2.07 .06 -2.13 .06 2.64 .07 -2.29 .06 -.48 .07 2.34 .06 -.61 .06 .44 .07 .59 .06 -.88 .06 .17 .07 -2.95 .06 .91 .06 1.29 .07 -.22 .06 .53 .07 -1.19 .06 1.61 .06 .93 .07 -1.44 .06 .27 .06 -.32 .07 .44 .06 -.71 .06 -.71 .07 .72 .06 -.08 .07 -1.63 .06 1.78 .06 -.20 .07 .20 .06 -.75 .06 1.04 .07 .16 .06 -1.33 .06 1.05 .07 .47 .06 -.03 .07 -1.66 .06 -.10 .06 1.06 .07 -1.06 .06 3.56 .06 -3.31 .07 .02 .06 1.45 .06 -1.11 .07 -1.87 .06 2.21 .07 -.83 .06 .47 .06 -1.09 .07 .72 .06 .74 .06 .10 .07 -4.64 .06 4.01 .06 -.13 .07 1.00 .06 -.28 .07 -1.09 .06 1.90 .06 -1.33 .07 1.09 .06 -1.29 .06 1.22 .07 -.41 .06 .18 .06 .46 .07 -.05 .06 -.27 .07 .01 .06 -1.41 .06 1.20 .07 -2.10 .06 -.04 .06 1.93 .07 .10 .06 1.72 .06 -.81 .07 .45 .06 -1.40 .07 .76 .06 .73 .06 -.62 .07 -.16 .06 -.23 .06 -1.00 .07 .03 .06 -.52 .06 1.84 .07 -.66 .06 -.39 .06 1.04 .07 -.91 .06 1.61 .07 .87 .06 -1.43 .06 -1.12 .07 -.78 .06 3.48 .06 -1.53 .07 -1.60 .06 2.24 .06 -2.70 .07 1.22 .06 .21 .07 -.11 .06 -.76 .06 3.51 .07 -2.75 .06 .78 .06 -.33 .07 -1.60 .06 1.05 .06 .76 .07 .72 .06 -1.25 .07 .72 .06 -.69 .06 .93 .07 -3.02 .06 3.05 .06 -1.19 .07 .05 .06 -1.89 .06 1.43 .07 1.67 .06 1.69 .07 -2.97 .06 .06 .06 1.15 .07 -.19 .06 -.86 .06 .43 .07 -.20 .06 1.00 .06 .19 .07 .96 .06 -.82 .07 -.23 .06 -.50 .06 .78 .07 -1.88 .06 3.11 .06 -1.84 .07 1.13 .06 -2.17 .06 1.82 .07 -.61 .06 -.57 .07 -.47 .06 -.20 .06 2.66 .07 -.56 .06 -1.08 .06 .09 .07 -.90 .06 -1.08 .06 .06 .07 1.17 .06 .46 .07 -.99 .06 1.95 .06 -.27 .07 -.33 .06 -5.71 .06 5.36 .07 .19 .06 -1.20 .06 -.90 .07 4.05 .06 -1.26 .07 -.98 .06 1.96 .06 -7.44 .07 6.33 .06 -.21 .06 .56 .07 .68 .06 -1.36 .06 -.28 .07 .81 .06 -3.03 .07 2.56 .06 -.47 .06 .39 .07 -.15 .06 .52 .06 -.22 .07 -.02 .06 -.19 .06 .59 .07 -.94 .06 1.48 .07 -2.61 .06 1.87 .06 .25 .07 -1.68 .06 .84 .06 1.73 .07 -1.42 .06 -.72 .06 -1.58 .07 2.80 .06 -.22 .06 5.19 .07 -3.26 .06 -2.01 .07 .15 .06 -.79 .06 .62 .07 .04 .06 .78 .06 -.18 .07 -1.28 .06 .29 .06 1.83 .07 -2.28 .06 1.68 .07 .87 .06 -.94 .06 -.38 .07 1.10 .06 -.98 .06 -.34 .07 -.18 .06 1.33 .06 -.43 .07 .84 .06 -1.83 .07 .04 .06 -.11 .06 .71 .07 -.94 .06 1.59 .06 -.56 .07 -1.28 .06 -1.47 .06 .67 .07 3.19 .06 -1.45 .07 .21 .06 -.54 .06 .81 .07 -2.25 .06 -.06 .06 .36 .07 1.67 .06 .63 .06 -.21 .07 -.58 .06 -1.11 .07 2.03 .06 -1.03 .06 .26 .07 -.04 .06 -.37 .06 -.24 .07 .14 .06 -.67 .06 1.51 .07 -.40 .06 1.16 .07 -2.73 .06 2.90 .06 -1.19 .07 -.08 .06 -.61 .06 0 .07 -.64 .06 2.32 .06 -1.06 .07 .91 .06 .12 .07 -1.27 .06 .26 .06 -.09 .07 1.33 .06 -.85 .06 .05 .07 .54 .06 -.76 .06 2.06 .07 -2.86 .06 2.12 .07 .16 .06 -2.45 .06 1.94 .07 -.55 .06 .58 .06 -1.98 .07 1.40 .06 -1.16 .06 .63 .07 1.70 .06 -1.49 .07 -2.02 .06 .83 .06 .26 .07 2.08 .06 -1.63 .06 -.82 .07 2.58 .06 -.82 .06 .10 .07 -1.09 .06 2.15 .07 -1.47 .06 -1.77 .06 .81 .07 .30 .06 .66 .06 .90 .07 -1.42 .06 .13 .06 2.70 .07 -2.02 .06 -.57 .07 .55 .06 -1.22 .06 1.72 .07 .42 .06 -1.47 .06 1.53 .07 -1.23 .06 .57 .06 -.98 .07 -.04 .06 -.66 .06 1.65 .07 -.47 .06 .04 .07 -.82 .06 -.03 .06 .53 .07 1.06 .06 -.15 .06 -.93 .07 .94 .06 1.41 .06 -1.56 .07 1.83 .06 -1.50 .07 .87 .06 -1.76 .06 1.63 .07 -2.24 .06 1.37 .06 -.54 .07 -1.57 .06 .62 .06 2.38 .07 -.60 .06 .78 .07 -1.04 .06 -2.55 .06 2.63 .07 -.79 .06 .06 .06 .06 .07 -.34 .06 -.21 .06 2.41 .07 -.85 .06 -1.25 .07 .27 .06 1.67 .06 -.69 .07 -.21 .06 -1.79 .06 1.01 .07 -.93 .06 -1.06 .06 3.80 .07 -1.67 .06 -.11 .07 -.79 .06 2.49 .06 2.01 .07 -2.21 .06 .55 .06 -3.34 .07 2.22 .06 .08 .06 2.09 .07 -2.40 .06 -1.59 .07 1.48 .06 -.61 .06 3.21 .07 -1.32 .06 -.54 .06 -.27 .07 1.14 .06 -2.25 .06 -.72 .07 -1.63 .06 5.23 .07 -1.15 .06 .24 .06 -1.01 .07 2.77 .06 -4.49 .06 3.73 .07 -3.47 .06 .67 .06 -1.29 .07 2.24 .06 -.64 .07 1.24 .06 -1.72 .06 -1.37 .07 3.35 .06 1.23 .06 -.93 .07 -1.33 .06 .79 .06 -3.56 .07 2.32 .06 2.56 .07 -1.18 .06 -2.23 .06 2.92 .07 -1.67 .06 1.48 .06 -3.63 .07 1.51 .06 1.46 .06 4.28 .07 -3.87 .06 -.95 .07 -.30 .06 1.14 .06 .68 .07 -4.03 .06 2.04 .06 .21 .07 .63 .06 1.46 .06 -3.96 .07 3.17 .06 -3.84 .06 1.67 .07 .41 .06 .44 .07 -.57 .06 .18 .06 .30 .07 .13 .06 -2.66 .06 .77 .07 1.64 .06 1.65 .06 .82 .07 2.59 .06 -4.09 .07 -1.50 .06 1.64 .06 .86 .07 -.90 .06 -2.02 .06 1.63 .07 .12 .06 -2.31 .06 .35 .07 -3.58 .06 1.88 .07 4.07 .06 -.72 .06 2.80 .07 -1.30 .06 -2.49 .06 3.61 .07 -3.07 .06 4.33 .06 -.56 .07 -2.92 .06 1.45 .07 -.98 .06 -1.83 .06 3.34 .07 -1.07 .06 .73 .06 .38 .07 .60 .06 -.63 .06 -1.89 .07 .31 .06 .57 .07 -.89 .06 -.19 .06 3.56 .07 3.14 .06 .47 .06 -8.02 .07 1.24 .06 -.65 .06 .09 .07 .18 .06 .29 .07 -.51 .06 3.78 .06 -1.89 .07 -2.38 .06 .35 .06 2.18 .07 -.32 .06 -1.94 .06 2.60 .07 -3.96 .06 1.63 .07 3.71 .06 -7.14 .06 3.91 .07 2.02 .06 -1.90 .06 -1.05 .07 -.18 .06 -1.99 .06 1.28 .07 2.36 .06 -1.06 .07 .94 .06 -.21 .06 .74 .07 -3.27 .06 2.29 .06 -.04 .07 .06 .06 -.96 .06 -5.83 .07 8.41 .06 .32 .07 2.63 .06 -2.75 .06 1.54 .07 -1.75 .06 -1.63 .06 1.49 .07 -2.79 .06 2.38 .06 -.58 .07 -1.58 .06 3.84 .07 -.16 .06 -1.09 .06 .60 .07 1.41 .06 -2.98 .06 -2.04 .07 .68 .06 2.79 .06 -.77 .07 -2.88 .06 4.74 .06 -1.85 .07 2.36 .06 -.80 .07 -2.62 .06 .90 .06 -1.38 .07 -.17 .06 .93 .06 1.35 .07 1.48 .06 -3.80 .06 2.70 .07 -1.10 .06 -.43 .07 2.29 .06 -2.49 .06 2.94 .07 -2.87 .06 -.98 .06 2.86 .07 -3.74 .06 .47 .06 1.70 .07 .33 .06 -.45 .07 -2.86 .06 1.09 .06 3.13 .07 .05 .06 -2.60 .06 2.17 .07 -.09 .06 1.38 .06 -2.94 .07 3.71 .06 -2.97 .07 2.97 .06 -.87 .06 -3.26 .07 1.20 .06 1.02 .06 1.24 .07 -4.04 .06 1.50 .06 1.91 .07 -.23 .06 -2.58 .07 .27 .06 2.26 .06 -2.45 .07 2.14 .06 1.17 .06 -1.52 .07 -4.29 .06 6.25 .06 -.05 .07 .44 .06 -.92 .07 -4.11 .06 5.00 .06 -1.71 .07 .95 .06 -1.73 .06 -.12 .07 .03 .06 2.82 .06 -2.02 .07 -.71 .06 -1.59 .07 2.61 .06 -.67 .06 .23 .07 1.20 .06 2.23 .06 -3.62 .07 .30 .06 -.16 .06 .87 .07 -.03 .06 -.75 .07 -1.32 .06 2.27 .06 .08 .07 -2.57 .06 6.79 .06 -5.87 .07 -2.26 .06 2.72 .06 1.24 .07 -2.06 .06 .05 .07 2.09 .06 -2.53 .06 .21 .07 .75 .06 1.10 .06 0 .07 -1.29 .06 .26 .06 .45 .07 -.51 .06 -.51 .07 -.24 .06 1.98 .06 -1.01 .07 2.97 .06 -2.02 .06 -1.50 .07 .84 .06 .38 .06 .07 .07 .07 .06 .02 .07 -.64 .06 .87 .06 1.69 .07 -2.86 .06 .08 .06 1.20 .07 .59 .06 -.45 .06 .44 .07 -1.36 .06 -.19 .06 .97 .07 .03 .06 1.10 .07 -.12 .06 -3.65 .06 2.83 .07 -1.56 .06 -1.54 .06 2.71 .07 -.60 .06 -.18 .06 -1.00 .07 .30 .06 .88 .07 -1.38 .06 1.51 .06 .25 .07 -.28 .06 .50 .06 -.38 .07 -1.17 .06 .15 .06 1.26 .07 .91 .06 -.87 .07 -.69 .06 .73 .06 -2.11 .07 .88 .06 .68 .06 .34 .07 -.27 .06 .07 .06 -.97 .07 .67 .06 .89 .07 -2.23 .06 .70 .06 .92 .07 1.97 .06 -.85 .06 .96 .07 -.23 .06 -1.90 .06 .42 .07 -1.17 .06 2.52 .07 -.47 .06 -.14 .06 .09 .07 -.20 .06 -.26 .06 .08 .07 1.01 .06 -2.12 .06 -.26 .07 1.13 .06 1.24 .07 -.97 .06 -.46 .06 1.11 .07 -.75 .06 -2.12 .06 .95 .07 -1.13 .06 1.99 .06 -.23 .07 .95 .06 1.78 .07 -2.85 .06 .65 .06 -.40 .07 -2.24 .06 1.86 .06 .06 .07 1.05 .06 -1.16 .06 -.46 .07 1.99 .06 -.68 .07 -.86 .06 .15 .06 .50 .07 1.18 .06 .65 .06 -2.86 .07 2.61 .06 -1.15 .06 .33 .07 .65 .06 -2.02 .07 1.92 .06 -2.25 .06 .89 .07 -.39 .06 2.66 .06 -.04 .07 -.91 .06 -.24 .06 -1.08 .07 2.38 .06 -.35 .07 -.51 .06 -1.04 .06 -.23 .07 .28 .06 1.49 .06 -2.36 .07 1.12 .06 1.59 .06 -.77 .07 .90 .06 -1.36 .06 .03 .07 .99 .06 -.74 .07 -.31 .06 -.87 .06 -.99 .07 3.08 .06 -1.95 .06 -.33 .07 1.68 .06 -1.80 .06 -.46 .07 .81 .06 .54 .07 .35 .06 .26 .06 .48 .07 -1.10 .06 .50 .06 -.47 .07 -.53 .06 1.08 .06 -.04 .07 1.54 .06 -1.27 .07 -1.31 .06 1.33 .06 -.85 .07 1.87 .06 -3.33 .06 1.07 .07 .01 .06 .81 .06 -.24 .07 -1.48 .06 -.26 .07 2.09 .06 1.31 .06 0 .07 -1.87 .06 .88 .06 -1.33 .07 -.57 .06 2.71 .06 -.55 .07 -1.00 .06 -.03 .07 1.31 .06 -.59 .06 -.65 .07 .63 .06 -.28 .06 -.39 .07 -.30 .06 1.66 .06 -1.39 .07 -.70 .06 3.01 .07 -.55 .06 -.72 .06 -.58 .07 .28 .06 -1.64 .06 1.44 .07 .31 .06 -.47 .06 .65 .07 -1.19 .06 .95 .07 -1.73 .06 1.55 .06 -.58 .07 -.70 .06 .94 .06 .42 .07 -.60 .06 1.52 .06 -1.60 .07 1.63 .06 -.20 .07 -1.31 .06 2.03 .06 -2.75 .07 1.88 .06 -.45 .06 .70 .07 -2.29 .06 .38 .06 .36 .07 .85 .06 .07 .07 -.05 .06 -.27 .06 -.43 .07 -.64 .06 .93 .06 .95 .07 .49 .06 -1.48 .06 1.56 .07 -2.37 .06 2.09 .07 -1.80 .06 1.30 .06 -1.15 .07 0 .06 .42 .06 1.91 .07 -2.00 .06 1.25 .06 -.44 .07 .15 .06 .02 .06 .32 .07 -1.74 .06 1.20 .07 .30 .06 -.88 .06 .91 .07 -1.30 .06 1.67 .06 -1.34 .07 -4.05 .06 5.48 .06 .28 .07 -1.54 .06 -.05 .07 1.54 .06 -3.33 .06 3.67 .07 -.03 .06 -2.19 .06 2.11 .07 -.76 .06 .10 .06 -2.56 .07 1.70 .06 .29 .07 -.19 .06 .03 .06 .11 .07 -2.09 .06 2.19 .06 -.44 .07 .56 .06 -.36 .06 .46 .07 .27 .06 1.37 .07 -2.35 .06 2.29 .06 -1.74 .07 -.58 .06 -.49 .06 2.10 .07 -2.14 .06 2.20 .06 -.50 .07 -.81 .06 -.08 .07 1.05 .06 -.29 .06 .53 .07 -.65 .06 -.44 .06 .94 .07 -1.52 .06 1.82 .06 -.69 .07 -1.03 .06 .10 .07 .62 .06 -1.30 .06 2.83 .07 -.36 .06 -1.79 .06 .87 .07 1.58 .06 -1.11 .06 2.14 .07 -4.35 .06 .47 .07 2.46 .06 2.96 .06 -5.10 .07 1.75 .06 -.91 .06 -.25 .07 .14 .06 .06 .06 1.84 .07 -2.23 .06 .47 .07 1.50 .06 -5.71 .06 3.75 .07 2.61 .06 -.81 .06 -2.19 .07 2.81 .06 -2.78 .06 1.84 .07 -1.53 .06 -.52 .07 2.23 .06 3.98 .06 -4.75 .07 .24 .06 -.23 .06 -.12 .07 -.67 .06 1.39 .06 -.45 .07 -.21 .06 -.26 .07 .25 .06 -1.01 .06 1.01 .07 -.55 .06 1.88 .06 -1.83 .07 .43 .06 .39 .06 .65 .07 -.26 .06 -.36 .06 1.76 .07 -1.76 .06 .29 .07 1.79 .06 -2.75 .06 1.50 .07 -.40 .06 -1.41 .06 .57 .07 1.18 .06 -1.82 .06 1.02 .07 .91 .06 -.92 .07 .41 .06 -.73 .06 .04 .07 .02 .06 .22 .06 .79 .07 -.43 .06 1.50 .06 -1.11 .07 -.20 .06 1.55 .07 -1.83 .06 -.53 .06 .76 .07 -.96 .06 1.26 .06 .66 .07 -.55 .06 -.79 .06 .21 .07 .49 .06 .55 .07 -1.20 .06 0 .06 1.16 .07 -.65 .06 .10 .06 .12 .07 -.94 .06 .48 .06 .92 .07 -.90 .06 -.02 .07 .38 .06 .08 .06 1.60 .07 -2.47 .06 .72 .06 1.40 .07 -1.46 .06 .27 .06 -1.35 .07 1.81 .06 -.07 .07 -.03 .06 -.72 .06 .41 .07 -.31 .06 .68 .06 -.61 .07 .59 .06 -1.53 .06 .74 .07 -1.57 .06 1.72 .07 .68 .06 -.73 .06 1.88 .07 -2.38 .06 .47 .06 -.40 .07 .31 .06 .04 .06 -.70 .07 .36 .06 2.13 .07 -1.60 .06 .83 .06 -1.52 .07 .82 .06 .47 .06 -.48 .07 -.23 .06 .24 .06 .16 .07 .57 .06 .26 .07 -1.73 .06 -.49 .06 1.29 .07 .15 .06 .49 .06 .25 .07 -1.17 .06 1.87 .06 -1.22 .07 -1.36 .06 1.86 .07 -.45 .06 .01 .06 -1.25 .07 .88 .06 .32 .06 -.20 .07 .57 .06 .39 .06 .19 .07 -.17 .06 -.92 .07 1.25 .06 -.96 .06 .41 .07 -.72 .06 -.74 .06 -.56 .07 1.62 .06 -.56 .06 3.36 .07 -2.31 .06 -1.57 .06 -.14 .07 1.33 .06 .08 .07 -.40 .06 -.15 .06 -.68 .07 .98 .06 -.41 .06 .77 .07 .34 .06 -.96 .06 .64 .07 -.14 .06 -4.00 .07 4.88 .06 -.54 .06 .04 .07 .06 .06 -.76 .06 .27 .07 .24 .06 .57 .06 .05 .07 .62 .06 -2.10 .07 .67 .06 -1.05 .06 .76 .07 -.68 .06 3.81 .06 -2.29 .07 -1.13 .06 .89 .06 .26 .07 .63 .06 -.55 .07 -.43 .06 -.12 .06 .45 .07 -.18 .06 -.47 .06 -.45 .07 1.41 .06 -1.08 .06 .29 .07 .66 .06 -.51 .07 .73 .06 -1.35 .06 1.15 .07 -1.25 .06 -.10 .06 .29 .07 .71 .06 -.46 .06 -.41 .07 1.55 .06 -1.28 .07 4.13 .06 -3.38 .06 -.42 .07 .50 .06 2.09 .06 -2.34 .07 .69 .06 -.96 .06 -.26 .07 .75 .06 -.67 .07 .80 .06 -.27 .06 -.21 .07 .63 .06 -.02 .06 -1.76 .07 1.29 .06 .27 .06 .22 .07 -.59 .06 -.34 .07 .75 .06 .33 .06 -1.57 .07 .34 .06 .53 .06 -1.09 .07 1.11 .06 .82 .06 -1.06 .07 .69 .06 -.57 .07 .76 .06 .13 .06 .38 .07 -.68 .06 .56 .06 -.35 .07 -.49 .06 1.11 .06 -1.15 .07 .44 .06 1.28 .07 -.87 .06 -.93 .06 .63 .07 -.46 .06 .24 .06 -.74 .07 .96 .06 -.96 .06 1.07 .07 .01 .06 .27 .06 .77 .07 -2.12 .06 .27 .07 .11 .06 .25 .06 .80 .07 -.65 .06 -.12 .06 -.29 .07 .28 .06 .12 .06 .19 .07 -.70 .06 .74 .07 .35 .06 -.10 .06 -.84 .07 1.11 .06 0 .06 -.26 .07 -.80 .06 -.11 .06 .81 .07 -.55 .06 -.16 .07 1.19 .06 .02 .06 -.13 .07 .36 .06 -.21 .06 -1.06 .07 1.21 .06 -.52 .06 .18 .07 .59 .06 -.57 .07 .59 .06 -.77 .06 -.21 .07 -.16 .06 .30 .06 -.77 .07 .83 .06 -.01 .06 -.20 .07 -.85 .06 .05 .07 1.46 .06 -.83 .06 1.18 .07 -1.04 .06 .55 .06 -.89 .07 .42 .06 .22 .06 .41 .07 .56 .06 -.35 .07 -1.19 .06 .74 .06 -.08 .07 -.22 .06 .61 .06 .50 .07 -.99 .06 .78 .06 .15 .07 -1.19 .06 1.39 .07 -.03 .06 -.66 .06 .69 .07 -.69 .06 .44 .06 -.23 .07 -.72 .06 .55 .06 -.19 .07 -.14 .06 -.31 .07 .19 .06 -.20 .06 1.13 .07 -1.45 .06 .97 .06 -.31 .07 -.29 .06 .94 .06 -.70 .07 .94 .06 -.63 .07 .25 .06 -.21 .06 .38 .07 .14 .06 -.63 .06 .21 .07 .83 .06 -1.06 .06 1.10 .07 -1.00 .06 -.06 .07 -.50 .06 .39 .06 -.39 .07 .54 .06 .58 .06 -.33 .07 -.23 .06 -.18 .06 .16 .07 -.33 .06 .09 .06 1.46 .07 -.76 .06 -.51 .07 .73 .06 .38 .06 -.95 .07 .25 .06 -.50 .06 -.14 .07 1.34 .06 .51 .06 -1.44 .07 -.38 .06 1.37 .07 -.15 .06 -.25 .06 .46 .07 -.80 .06 .28 .06 .25 .07 -.49 .06 .37 .06 -.31 .07 .32 .06 -.12 .07 -.95 .06 .94 .06 -.67 .07 .27 .06 -.35 .06 1.11 .07 -.49 .06 -.02 .06 .74 .07 -.23 .06 -.40 .07 -.82 .06 1.23 .06 -.40 .07 -.03 .06 .50 .06 -.60 .07 .26 .06 .44 .06 -.13 .07 -.52 .06 .93 .07 -.12 .06 .34 .06 -.85 .07 .13 .06 .38 .06 -.26 .07 -.12 .06 -.10 .06 -.08 .07 -.14 .06 .01 .07 .48 .06 -.30 .06 -.48 .07 .66 .06 .72 .06 -.13 .07 -1.47 .06 .52 .06 .73 .07 -.30 .06 .01 .07 -.08 .06 .10 .06 -.46 .07 .97 .06 -.96 .06 .40 .07 .75 .06 -.19 .06 -.46 .07 .01 .06 -.25 .07 .05 .06 .13 .06 .70 .07 -.76 .06 .44 .06 -.04 .07 0 .06 -.29 .06 .45 .07 -.24 .06 -.01 .07 -.24 .06 -.72 .06 1.27 .07 .02 .06 -.54 .06 .16 .07 .21 .06 -.54 .06 .75 .07 .01 .06 .07 .07 .04 .06 -1.21 .06 1.06 .07 -.41 .06 .69 .06 -.01 .07 -.10 .06 -.38 .06 1.13 .07 -1.09 .06 -.42 .07 .88 .06 -1.03 .06 3.34 .07 -2.25 .06 .14 .06 -.11 .07 -.26 .06 -.73 .06 .32 .07 .51 .06 -.32 .06 .26 .07 -.44 .06 -.04 .07 .48 .06 .20 .06 -.30 .07 -.41 .06 -.29 .06 1.60 .07 -1.35 .06 .13 .06 .07 .07 .70 .06 -.69 .07 .56 .06 -.09 .06 -.61 .07 .57 .06 -.58 .06 .46 .07 .40 .06 -.41 .06 -.27 .07 .22 .06 .11 .07 .23 .06 -1.11 .06 .20 .07 1.00 .06 -.25 .06 .07 .07 .10 .06 -.15 .06 -.12 .07 .25 .06 .25 .07 -.13 .06 -.12 .06 -.44 .07 .55 .06 -.58 .06 .21 .07 .36 .06 0 .06 .42 .07 -.07 .06 -.16 .07 -.33 .06 .14 .06 -.09 .07 .85 .06 -.53 .06 -.45 .07 -.08 .06 .90 .06 -.88 .07 .53 .06 -.07 .07 .39 .06 -.81 .06 .57 .07 -.09 .06 .26 .06 .24 .07 -.51 .06 -.13 .06 .47 .07 -.94 .06 .68 .07 -.48 .06 -.09 .06 -.14 .07 -.02 .06 1.05 .06 .03 .07 -.31 .06 .40 .06 -.41 .07 -.21 .06 -.23 .07 .78 .06 .03 .06 .20 .07 -.85 .06 .23 .06 -.44 .07 1.06 .06 -.17 .06 -.07 .07 -.21 .06 -.05 .07 -.08 .06 .62 .06 -.71 .07 .65 .06 -.24 .06 -.53 .07 -.17 .06 .29 .06 .32 .07 -.51 .06 .81 .07 .22 .06 -.24 .06 -.91 .07 -.26 .06 1.34 .06 .27 .07 -.77 .06 .39 .06 -.32 .07 -.14 .06 .69 .06 -.63 .07 .59 .06 .37 .07 -.75 .06 .84 .06 -1.31 .07 .93 .06 -.36 .06 1.04 .07 -1.01 .06 -.33 .06 1.01 .07 -1.29 .06 .82 .07 -.48 .06 .89 .06 -.60 .07 .41 .06 -.36 .06 -.43 .07 -.42 .06 1.63 .06 -.63 .07 -.55 .06 .35 .07 .55 .06 -1.01 .06 1.56 .07 -1.03 .06 -.04 .06 .69 .07 -.43 .06 -.48 .06 .79 .07 -.18 .06 .29 .07 -.83 .06 -.07 .06 .73 .07 -.43 .06 -.69 .06 .65 .07 .51 .06 -.54 .06 .83 .07 -.72 .06 .18 .07 -.62 .06 .35 .06 .26 .07 .32 .06 -.14 .06 .36 .07 -1.31 .06 .91 .06 -.06 .07 -.35 .06 .42 .07 -.28 .06 .49 .06 -.30 .07 3.70 .06 -3.91 .06 .89 .07 -.34 .06 .58 .06 -.77 .07 -3.89 .06 4.02 .07 -.23 .06 -.22 .06 .43 .07 -.02 .06 -.22 .06 .12 .07 -.23 .06 .46 .06 -.59 .07 1.24 .06 -.66 .07 .38 .06 -.86 .06 .64 .07 -.18 .06 .46 .06 -.04 .07 -1.00 .06 1.14 .06 -1.06 .07 1.15 .06 -.55 .07 -.44 .06 .77 .06 -.26 .07 -.40 .06 .11 .06 .50 .07 -.73 .06 .22 .06 1.10 .07 -1.04 .06 .46 .07 .05 .06 .21 .06 -.02 .07 -1.34 .06 .82 .06 .68 .07 -.78 .06 1.05 .06 -.62 .07 -.57 .06 .72 .06 .56 .07 -1.03 .06 .50 .07 -.56 .06 .13 .06 .29 .07 .17 .06 -2.26 .06 2.16 .07 .88 .06 -1.37 .06 -.30 .07 .97 .06 -.13 .07 -.64 .06 1.27 .06 -.95 .07 -.27 .06 .73 .06 .10 .07 .69 .06 -1.53 .06 .12 .07 .40 .06 -.05 .07 .15 .06 -.24 .06 -.32 .07 .45 .06 .47 .06 .04 .07 -.56 .06 .48 .06 -.04 .07 -.34 .06 .07 .07 .16 .06 .97 .06 -.90 .07 -.40 .06 3.42 .06 -3.27 .07 .68 .06 -1.29 .06 .43 .07 .77 .06 -.15 .07 -.14 .06 .28 .06 -.79 .07 .67 .06 -.58 .06 -.04 .07 .71 .06 -.50 .06 .18 .07 .40 .06 -.64 .07 .65 .06 .65 .06 -.94 .07 .46 .06 -.06 .06 -.78 .07 -.03 .06 .55 .06 -.82 .07 .85 .06 .10 .07 .09 .06 0 .06 .36 .07 -.64 .06 .67 .06 -.31 .07 .01 .06 -.25 .06 .44 .07 -.65 .06 .58 .07 .16 .06 -.68 .06 -.09 .07 .08 .06 .29 .06 .17 .07 .21 .06 .40 .06 -.10 .07 -.50 .06 -.25 .07 -.30 .06 .79 .06 -.11 .07 -.29 .06 .05 .06 .03 .07 -.90 .06 .95 .06 .16 .07 -.17 .06 -.34 .07 .43 .06 .18 .06 .51 .07 -.27 .06 -.17 .06 -.23 .07 -.48 .06 .34 .06 -.33 .07 .49 .06 .46 .07 0 .06 -.04 .06 -.33 .07 .38 .06 -.47 .06 -.62 .07 .80 .06 -.02 .06 -.67 .07 .47 .06 -.71 .06 .75 .07 .65 .06 -.69 .07 .75 .06 -.40 .06 -.35 .07 -.38 .06 .96 .06 -.02 .07 -.80 .06 .41 .06 .59 .07 -.68 .06 .43 .07 -.86 .06 .39 .06 .63 .07 -.70 .06 -.09 .06 .03 .07 .39 .06 -.44 .06 .56 .07 .26 .06 .38 .07 -.71 .06 .76 .06 -.38 .07 -.28 .06 .29 .06 .38 .07 0 .06 -.26 .06 -.31 .07 .36 .06 -.22 .07 -.01 .06 .05 .06 .58 .07 -1.10 .06 .42 .06 -.36 .07 .73 .06 .11 .06 .10 .07 -.62 .06 .16 .07 .27 .06 -.20 .06 .05 .07 -.02 .06 .03 .06 -.13 .07 .22 .06 -.69 .06 .39 .07 -.32 .06 .47 .07 -.23 .06 .48 .06 .27 .07 -.90 .06 .18 .06 .42 .07 .41 .06 -.23 .06 -.11 .07 -.17 .06 -.13 .07 .31 .06 .06 .06 -.12 .07 -.26 .06 -.36 .06 .29 .07 .18 .06 -.27 .06 .55 .07 -.63 .06 .42 .07 .25 .06 .18 .06 -.20 .07 .36 .06 -.64 .06 -.06 .07 .69 .06 -.70 .06 .27 .07 -.56 .06 1.05 .07 -.14 .06 -.52 .06 -.35 .07 -1.43 .06 2.18 .06 .34 .07 .26 .06 -.58 .06 -.15 .07 0 .06 -.01 .07 -.38 .06 .19 .06 .30 .07 -.55 .06 .13 .06 .93 .07 -.68 .06 .55 .06 .12 .07 -.39 .06 .31 .06 -.35 .07 -.24 .06 .28 .07 .08 .06 .03 .06 -.01 .07 -.16 .06 .54 .06 -.44 .07 -.07 .06 .50 .06 -.69 .07 .37 .06 .55 .07 -.50 .06 .50 .06 -.59 .07 -.08 .06 .13 .06 -.13 .07 .09 .06 -.02 .06 .46 .07 -.14 .06 -.21 .07 -.18 .06 1.17 .06 -.95 .07 .59 .06 -.92 .06 .17 .07 .72 .06 -.83 .06 .02 .07 .38 .06 -.23 .07 .17 .06 .17 .06 .27 .07 -.24 .06 .05 .06 .39 .07 .04 .06 -.63 .06 -.53 .07 .32 .06 .76 .07 -.55 .06 -.07 .06 .10 .07 .75 .06 -.54 .06 -.15 .07 -.10 .06 -.14 .06 1.30 .07 -.89 .06 .08 .07 -.16 .06 .51 .06 -.74 .07 -.32 .06 .50 .06 .34 .07 .71 .06 -.84 .06 -.27 .07 .24 .06 -.19 .07 .01 .06 .33 .06 .08 .07 -.33 .06 .65 .06 -.42 .07 .08 .06 -.21 .06 .33 .07 .02 .06 .11 .07 -.53 .06 .54 .06 -.43 .07 .26 .06 .24 .06 -4.10 .07 3.69 .06 -.23 .06 .47 .07 .40 .06 -.55 .07 1.01 .06 -1.55 .06 1.24 .07 -.11 .06 -.01 .06 -.70 .07 .81 .06 -.06 .06 .04 .07 -.52 .06 0 .07 .57 .06 -.33 .06 -.25 .07 -.16 .06 .41 .06 -.58 .07 .72 .06 -.15 .06 -.60 .07 .73 .06 .29 .06 -.34 .07 -.56 .06 .27 .07 .54 .06 -.77 .06 .35 .07 .56 .06 -.51 .06 -.09 .07 .51 .06 .30 .06 -.43 .07 -.61 .06 -.09 .07 .50 .06 -.55 .06 .63 .07 .38 .06 -1.24 .06 .86 .07 .20 .06 -.31 .06 .35 .07 .05 .06 .21 .07 .51 .06 -.75 .06 -.43 .07 -.04 .06 -.06 .06 .72 .07 -.13 .06 .06 .06 -.09 .07 .52 .06 -.17 .07 -.02 .06 -.60 .06 .14 .07 -.35 .06 .25 .06 .28 .07 -.47 .06 3.95 .06 -2.75 .07 -.79 .06 -.46 .07 .10 .06 .43 .06 .35 .07 -.33 .06 .36 .06 -.19 .07 -.51 .06 .79 .06 -.52 .07 .86 .06 -.89 .07 .17 .06 -.13 .06 .11 .07 .27 .06 -.22 .06 .51 .07 -.27 .06 .44 .06 -.54 .07 .45 .06 -.02 .07 -.48 .06 .95 .06 -.32 .07 -.34 .06 -.26 .06 .05 .07 -.02 .06 .18 .06 -.50 .07 .44 .06 -.23 .07 .84 .06 -.32 .06 .34 .07 .27 .06 -.68 .06 .57 .07 -.58 .06 .10 .06 -.56 .07 .38 .06 .50 .07 -.32 .06 -.31 .06 .15 .07 -.26 .06 .04 .06 -.29 .07 .99 .06 .02 .06 -.48 .07 -.52 .06 .49 .07 1.04 .06 -1.55 .06 .40 .07 .02 .06 .67 .06 -1.08 .07 .83 .06 -.59 .06 .27 .07 -.50 .06 1.04 .07 -.61 .06 -.05 .06 1.09 .07 -.47 .06 1.37 .06 -1.28 .07 -.22 .06 .04 .06 1.68 .07 -.81 .06 -1.13 .06 .47 .07 -.64 .06 .95 .07 -.92 .06 -.04 .06 .82 .07 .76 .06 -.40 .06 -.07 .07 -.57 .06 -2.02 .06 1.87 .07 -.02 .06 .63 .07 1.03 .06 -.82 .06 -2.10 .07 1.50 .06 -.21 .06 2.52 .07 -2.35 .06 4.82 .06 -5.53 .07 .52 .06 -1.49 .07 1.68 .06 -.14 .06 1.20 .07 -1.03 .06 -.44 .06 .45 .07 .14 .06 .86 .06 -1.71 .07 -1.15 .06 4.19 .07 -1.47 .06 -.64 .06 2.17 .07 -3.22 .06 .32 .06 .33 .07 .86 .06 -.86 .06 1.16 .07 -1.04 .06 1.55 .07 -.77 .06 -1.97 .06 1.53 .07 -1.03 .06 .95 .06 .14 .07 -2.93 .06 2.73 .06 -1.31 .07 1.65 .06 -1.21 .07 2.90 .06 -1.07 .06 .85 .07 -1.91 .06 -.62 .06 1.32 .07 -1.63 .06 .41 .06 .21 .07 .62 .06 -1.36 .07 -.53 .06 3.50 .06 -1.97 .07 .37 .06 .80 .06 -.14 .07 -1.10 .06 .22 .06 2.11 .07 -.34 .06 -.51 .07 .96 .06 -3.65 .06 2.10 .07 -.42 .06 -1.70 .06 2.37 .07 .34 .06 -.40 .06 -2.16 .07 1.69 .06 .46 .07 -.46 .06 .56 .06 .25 .07 1.00 .06 -1.26 .06 2.34 .07 -2.33 .06 .09 .06 2.87 .07 -3.24 .06 -.26 .07 1.72 .06 -3.69 .06 .41 .07 4.25 .06 -1.46 .06 -.21 .07 -.25 .06 -.01 .06 -1.35 .07 .74 .06 -.81 .06 2.44 .07 -.58 .06 -.43 .07 .16 .06 -.53 .06 -1.01 .07 2.84 .06 -1.04 .06 -.78 .07 .72 .06 .61 .06 -.10 .07 -.46 .06 .14 .07 -.87 .06 1.27 .06 -.33 .07 -.01 .06 -1.66 .06 1.42 .07 .01 .06 .08 .06 -2.16 .07 .48 .06 1.34 .07 -.71 .06 .78 .06 -.26 .07 .51 .06 -.72 .06 -.22 .07 .75 .06 -.35 .06 -.41 .07 -.36 .06 2.02 .07 -1.25 .06 .06 .06 -.78 .07 .45 .06 .40 .06 .24 .07 .22 .06 -.70 .06 .58 .07 .32 .06 -.75 .07 .21 .06 -.79 .06 .47 .07 -.25 .06 .95 .06 -.38 .07 .83 .06 -.64 .06 .29 .07 -.11 .06 -.14 .07 -.57 .06 1.26 .06 -.79 .07 -.79 .06 .59 .06 -.23 .07 1.06 .06 -.05 .06 .23 .07 .31 .06 -1.29 .07 -.55 .06 .44 .06 .63 .07 -1.30 .06 .86 .06 .67 .07 -.76 .06 .34 .06 -.35 .07 1.23 .06 .10 .07 -1.34 .06 .09 .06 .46 .07 .27 .06 -.11 .06 .12 .07 .17 .06 .11 .06 .33 .07 -.76 .06 -.29 .07 .20 .06 1.07 .06 -.63 .07 -.04 .06 .30 .06 -.04 .07 .48 .06 -1.38 .06 .47 .07 .26 .06 .04 .07 -.54 .06 -.55 .06 .62 .07 -.18 .06 .28 .06 .56 .07 -.18 .06 -.82 .06 .18 .07 .44 .06 .44 .06 -.53 .07 .13 .06 -.77 .07 .47 .06 -.13 .06 .46 .07 -.20 .06 -.27 .06 -.09 .07 .60 .06 4.47 .06 -4.03 .07 -.44 .06 -.18 .07 .54 .06 -.94 .06 .96 .07 -.72 .06 .66 .06 -.63 .07 -.11 .06 -.39 .06 .86 .07 .21 .06 -.84 .07 1.44 .06 -.80 .06 -.49 .07 1.40 .06 -1.05 .06 .85 .07 -1.75 .06 2.08 .06 -.87 .07 -.08 .06 .16 .07 -.65 .06 .94 .06 -.21 .07 -.04 .06 -.39 .06 -.25 .07 .69 .06 .21 .06 -.29 .07 -.14 .06 -.13 .07 .56 .06 .34 .06 -.70 .07 -.30 .06 1.44 .06 -1.73 .07 .81 .06 -.15 .06 .64 .07 -.63 .06 -.66 .07 .24 .06 .56 .06 -.05 .07 -.27 .06 .06 .06 -.43 .07 .04 .06 .39 .06 -.01 .07 .25 .06 -.45 .07 1.22 .06 -1.45 .06 1.17 .07 -.13 .06 .46 .06 -.07 .07 -1.17 .06 .74 .06 .19 .07 .09 .06 -.17 .07 -.47 .06 .83 .06 -.60 .07 -.15 .06 .30 .06 -.26 .07 -.09 .06 .36 .06 .99 .07 -.88 .06 -.10 .07 -.22 .06 .36 .06 -.65 .07 .73 .06 -.08 .06 2.31 .07 -2.20 .06 -.28 .06 .39 .07 -.05 .06 .02 .07 -.23 .06 .39 .06 -.45 .07 .65 .06 -.59 .06 .61 .07 -.43 .06 -.11 .06 -.41 .07 .71 .06 -.10 .07 -.13 .06 .17 .06 -.11 .07 -.44 .06 -.10 .06 .79 .07 -.18 .06 .58 .06 .22 .07 -.49 .06 -.07 .06 -.02 .07 -.19 .06 -.31 .07 -.79 .06 1.42 .06 -.07 .07 -.22 .06 .05 .06 .37 .07 -.01 .06 -.30 .06 -.18 .07 .37 .06 .10 .07 .61 .06 -1.32 .06 .61 .07 -.57 .06 .19 .06 1.20 .07 -1.16 .06 .13 .06 -.18 .07 .62 .06 -.53 .07 -.52 .06 .78 .06 .30 .07 -.35 .06 .09 .06 -.36 .07 -.09 .06 .41 .06 -.47 .07 .31 .06 -.23 .07 .33 .06 .45 .06 -.34 .07 .51 .06 -3.19 .06 2.67 .07 -.32 .06 .44 .06 -.53 .07 .83 .06 -.88 .07 -.01 .06 .24 .06 -.34 .07 .76 .06 -.36 .06 .15 .07 .46 .06 -1.18 .06 .84 .07 .26 .06 .30 .07 -.37 .06 -.33 .06 .69 .07 .01 .06 .55 .06 -.01 .07 -.99 .06 .68 .06 -.48 .07 -.50 .06 .73 .07 .27 .06 -1.53 .06 1.56 .07 -.90 .06 1.04 .06 -.57 .07 -.02 .06 .53 .06 -.72 .07 1.03 .06 -1.27 .07 .16 .06 -.19 .06 .69 .07 -.24 .06 .37 .06 .14 .07 -.12 .06 .13 .06 .02 .07 -.49 .06 -.26 .07 -.09 .06 .73 .06 -.52 .07 -.17 .06 .06 .06 .27 .07 .20 .06 -.19 .06 -.32 .07 .67 .06 -1.15 .07 .80 .06 .58 .06 -.31 .07 .39 .06 -.44 .06 .21 .07 -.21 .06 -.19 .06 .35 .07 .25 .06 -3.69 .06 2.97 .07 -.52 .06 .49 .07 -.14 .06 .35 .06 .08 .07 .53 .06 .12 .06 -.83 .07 .14 .06 .47 .06 -.51 .07 .11 .06 -.59 .07 1.08 .06 -.19 .06 -.49 .07 -.14 .06 .12 .06 .63 .07 -.37 .06 -.29 .06 .38 .07 .50 .06 .17 .07 .05 .06 -.49 .06 .07 .07 .03 .06 .16 .06 -.02 .07 -.62 .06 .11 .06 .15 .07 .46 .06 -.49 .07 -.09 .06 .74 .06 .19 .07 -.96 .06 .33 .06 .54 .07 -.63 .06 .55 .06 -.94 .07 .50 .06 .37 .07 .36 .06 -.22 .06 -1.03 .07 .04 .06 .28 .06 .70 .07 -.03 .06 .16 .06 -.15 .07 -.50 .06 .09 .07 -2.46 .06 2.97 .06 -.84 .07 .55 .06 .08 .06 .41 .07 -.79 .06 .48 .06 -.56 .07 .83 .06 -.55 .07 .04 .06 -.25 .06 .15 .07 -.01 .06 .03 .06 .72 .07 -.85 .06 .51 .06 .25 .07 -.79 .06 -.39 .07 1.06 .06 -.84 .06 .36 .07 .29 .06 .16 .06 -.21 .07 -.16 .06 .69 .06 -.30 .07 .69 .06 -1.12 .07 .34 .06 .03 .06 .24 .07 2.65 .06 -2.83 .06 .78 .07 -.83 .06 .25 .06 -.09 .07 -.31 .06 .55 .07 -1.03 .06 1.21 .06 -1.06 .07 .50 .06 .18 .06 -.23 .07 0 .06 .70 .06 .48 .07 -.52 .06 -.34 .06 -.30 .07 -.05 .06 .80 .07 -.12 .06 .18 .06 -.11 .07 .14 .06 -.75 .06 -.07 .07 -.08 .06 .40 .06 -.05 .07 .13 .06 -.51 .07 .56 .06 .26 .06 -.28 .07 -.98 .06 .96 .06 -.12 .07 .51 .06 -.41 .06 .32 .07 -.39 .06 .30 .07 .26 .06 -.48 .06 .24 .07 -.05 .06 .19 .06 -.27 .07 .24 .06 -.89 .06 .64 .07 .42 .06 -.05 .07 -.63 .06 .08 .06 .47 .07 0 .06 .05 .06 -.14 .07 .03 .06 .37 .06 -.76 .07 4.49 .06 -3.71 .07 -.68 .06 .58 .06 -.52 .07 -.16 .06 1.04 .06 -.61 .07 -.51 .06 .47 .06 .03 .07 -.01 .06 .16 .07 -.50 .06 .35 .06 .29 .07 .08 .06 -.20 .06 -.33 .07 -.44 .06 1.33 .06 -.98 .07 .27 .06 .19 .07 .18 .06 -.17 .06 -.30 .07 .31 .06 .82 .06 .18 .07 -1.03 .06 .34 .06 -.91 .07 .77 .06 .20 .07 -.38 .06 .82 .06 -.35 .07 -.08 .06 -1.16 .06 .71 .07 .52 .06 -.45 .06 -.47 .07 .46 .06 .81 .07 -.31 .06 .08 .06 -.24 .07 .55 .06 -1.53 .06 .48 .07 1.19 .06 3.83 .06 -4.44 .07 -.21 .06 -.54 .07 .53 .06 .12 .06 -.28 .07 .87 .06 -.12 .06 -.48 .07 .46 .06 -.34 .06 .12 .07 -.27 .06 1.12 .07 -1.47 .06 .51 .06 .45 .07 .01 .06 -.97 .06 .26 .07 .33 .06 -.25 .06 .06 .07 .16 .06 .05 .06 .47 .07 -1.02 .06 1.03 .07 -.46 .06 .31 .06 -.34 .07 1.00 .06 -1.51 .06 1.11 .07 -.59 .06 .09 .06 .62 .07 -.58 .06 .41 .07 .21 .06 -.73 .06 .96 .07 -.27 .06 -.52 .06 .17 .07 -.33 .06 .38 .06 .22 .07 .06 .06 -.27 .07 -.26 .06 -.03 .06 -.11 .07 .26 .06 .33 .06 -.42 .07 -.02 .06 -.13 .06 .60 .07 -.29 .06 -.47 .07 .98 .06 -.01 .06 -.35 .07 -.13 .06 .13 .06 -.31 .07 .70 .06 .14 .06 -.11 .07 -.27 .06 .01 .07 .11 .06 .43 .06 -.87 .07 .28 .06 -.22 .06 -.17 .07 .55 .06 .29 .06 -.76 .07 .73 .06 -.10 .07 -.06 .06 .32 .06 -.69 .07 .80 .06 -.67 .06 .32 .07 -.71 .06 .88 .06 -.32 .07 -.19 .06 -.15 .07 .44 .06 .39 .06 -.26 .07 -.29 .06 -.13 .06 -.09 .07 .26 .06 -.43 .06 .43 .07 .52 .06 -.39 .07 -.02 .06 -.14 .06 .46 .07 -.02 .06 .28 .06 -.71 .07 -.13 .06 .18 .06 -.20 .07 .41 .06 -.11 .07 -.14 .06 .29 .06 .36 .07 -.09 .06 -.44 .06 .24 .07 .10 .06 .13 .06 -.33 .07 -.30 .06 .55 .07 -.42 .06 .21 .06 .04 .07 .41 .06 -.45 .06 .22 .07 -.11 .06 -.10 .06 .48 .07 -.43 .06 .32 .06 -.06 .07 -.69 .06 .08 .07 -.25 .06 .91 .06 0 .07 -.24 .06 .01 .06 .07 .07 -.09 .06 .21 .06 .01 .07 -.27 .06 .77 .07 -.13 .06 -.45 .06 .85 .07 .10 .06 -.38 .06 0 .07 -.57 .06 .10 .06 -.39 .07 .38 .06 .46 .07 -.43 .06 -.40 .06 1.06 .07 .13 .06 -.14 .06 -.95 .07 .76 .06 -.52 .06 .23 .07 .28 .06 .27 .07 -.67 .06 .10 .06 -.28 .07 .42 .06 -.30 .06 .16 .07 .41 .06 -.24 .06 .06 .07 .06 .06 .17 .07 .20 .06 -.79 .06 -.13 .07 .68 .06 .06 .06 .23 .07 -.18 .06 .31 .06 -.37 .07 -.35 .06 .52 .07 -.57 .06 .07 .06 .35 .07 -.19 .06 .37 .06 -.39 .07 .69 .06 -.87 .06 .55 .07 -.35 .06 .59 .07 -.60 .06 .42 .06 -.98 .07 .54 .06 .74 .06 -.43 .07 -.02 .06 .25 .06 .48 .07 -1.06 .06 .32 .07 -.10 .06 .36 .06 -.41 .07 -.25 .06 .02 .06 .67 .07 -.12 .06 .20 .06 -.73 .07 .23 .06 .11 .07 .43 .06 -.11 .06 -.17 .07 -.24 .06 .37 .06 -.19 .07 .42 .06 .26 .06 -.47 .07 -.35 .06 1.04 .07 -.50 .06 -.02 .06 -.11 .07 .02 .06 -.01 .06 .06 .07 -.50 .06 .24 .06 .19 .07 .08 .06 .03 .06 .08 .07 -.65 .06 .26 .07 .10 .06 .25 .06 -.09 .07 .64 .06 -.67 .06 .05 .07 -.37 .06 .99 .06 -.49 .07 -.05 .06 -.14 .07 .22 .06 -.11 .06 .46 .07 -.57 .06 .12 .06 -.02 .07 .33 .06 -.06 .06 .19 .07 -.11 .06 .02 .07 -.14 .06 .26 .06 -.11 .07 -.03 .06 -.54 .06 .33 .07 -.05 .06 -.31 .06 .89 .07 .05 .06 -.09 .07 -.13 .06 .26 .06 -.87 .07 .84 .06 -.91 .06 .62 .07 0 .06 .12 .06 .05 .07 .02 .06 -.38 .07 .02 .06 -.03 .06 .27 .07 -.12 .06 -.33 .06 .71 .07 -.56 .06 .19 .06 -.06 .07 .01 .06 .37 .07 -.33 .06 -.19 .06 .22 .07 -.09 .06 -.13 .06 .68 .07 .07 .06 -.69 .06 .82 .07 .09 .06 -.86 .07 .50 .06 -.18 .06 .31 .07 -.88 .06 .84 .06 -.25 .07 .24 .06 .12 .06 -.85 .07 .62 .06 .02 .07 .17 .06 .16 .06 -.09 .07 -.39 .06 .40 .06 -.38 .07 .41 .06 -.23 .06 .01 .07 .09 .06 -.44 .07 .34 .06 -.21 .06 .56 .07 .10 .06 -.69 .06 -.20 .07 .65 .06 -.19 .06 -.09 .07 .84 .06 -.68 .07 -.15 .06 .21 .06 .15 .07 .34 .06 -.31 .06 -.39 .07 .21 .06 .60 .06 -.90 .07 .44 .06 .32 .07 -.21 .06 -.12 .06 -.15 .07 .27 .06 .10 .06 -.06 .07 .21 .06 -.19 .06 .28 .07 -.28 .06 .21 .06 -.30 .07 .52 .06 -.11 .07 -.13 .06 -.40 .06 .30 .07 -.65 .06 .54 .06 .14 .07 -.24 .06 .26 .06 .13 .07 .30 .06 -.43 .07 -.38 .06 -.18 .06 .55 .07 .27 .06 .06 .06 -.24 .07 -.17 .06 0 .06 .15 .07 .07 .06 .13 .07 -.10 .06 .46 .06 -.43 .07 .09 .06 .14 .06 -.01 .07 -.37 .06 -.22 .06 .09 .07 .40 .06 .07 .07 -.05 .06 .12 .06 .13 .07 -.48 .06 .77 .06 .01 .07 -.39 .06 -.20 .06 .11 .07 -.38 .06 .35 .07 -.19 .06 .18 .06 -.04 .07 .56 .06 -.66 .06 .28 .07 -.16 .06 .47 .06 -.11 .07 -.58 .06 .13 .07 .31 .06 -.20 .06 .26 .07 -.08 .06 -.25 .06 .19 .07 .19 .06 -.12 .06 .06 .07 .06 .06 -1.65 .07 1.90 .06 -.58 .06 .40 .07 -.21 .06 .22 .06 .11 .07 -.04 .06 .02 .06 -3.79 .07 3.78 .06 -.16 .07 .23 .06 .06 .06 -.01 .07 -.12 .06 .01 .06 -3.47 .07 3.25 .06 .14 .06 .28 .07 .06 .06 -.23 .07 -.27 .06 .37 .06 .12 .07 -.04 .06 -.31 .06 -.07 .07 .05 .06 -.03 .06 .47 .07 -.14 .06 .42 .07 -.10 .06 -.13 .06 -.37 .07 .31 .06 -.03 .06 -.41 .07 .04 .06 .13 .06 .46 .07 -.36 .06 -.21 .06 .34 .07 .13 .06 -.40 .07 .71 .06 -.58 .06 .41 .07 -.07 .06 -.31 .06 .15 .07 .04 .06 -.07 .06 .26 .07 -.15 .06 -.39 .07 .42 .06 -.27 .06 .22 .07 .12 .06 -.07 .06 .27 .07 -.24 .06 -.09 .06 .50 .07 -.19 .06 -.19 .07 .04 .06 -.08 .06 .12 .07 -.22 .06 .63 .06 -.11 .07 -.78 .06 .30 .06 .22 .07 -.13 .06 -.32 .07 .65 .06 -.42 .06 .44 .07 -.04 .06 .25 .06 -.54 .07 .63 .06 -.68 .06 .63 .07 -.09 .06 -.13 .07 -.34 .06 .63 .06 -.17 .07 -.56 .06 -.17 .06 .43 .07 -.04 .06 .37 .06 -.12 .07 .05 .06 -.18 .07 .35 .06 -.34 .06 -.20 .07 -.20 .06 .69 .06 -.25 .07 -.25 .06 .21 .06 .12 .07 .26 .06 -.64 .07 .41 .06 .28 .06 -.05 .07 .09 .06 .28 .06 -.65 .07 .07 .06 .40 .06 .14 .07 -.28 .06 -.14 .07 -.19 .06 .43 .06 -.05 .07 -.32 .06 .14 .06 -.10 .07 .38 .06 -.16 .06 .33 .07 .04 .06 -.23 .07 .21 .06 -.02 .06 .12 .07 -.45 .06 .27 .06 .30 .07 -.27 .06 -.24 .06 .17 .07 .49 .06 -.62 .07 -.04 .06 .37 .06 -.29 .07 -.27 .06 .01 .06 .38 .07 -.14 .06 3.70 .06 -3.67 .07 -.17 .06 .15 .06 -.10 .07 .58 .06 -.45 .07 .56 .06 -.22 .06 .36 .07 -.49 .06 .23 .06 -.68 .07 .39 .06 -.05 .06 .46 .07 -.29 .06 .20 .07 -.32 .06 -.12 .06 .29 .07 .35 .06 -.32 .06 .40 .07 -.44 .06 0 .06 .02 .07 .03 .06 -.09 .07 .12 .06 -.13 .06 -.04 .07 .62 .06 -.14 .06 -.27 .07 -.07 .06 -.22 .06 .53 .07 -.29 .06 .64 .07 -.87 .06 .51 .06 .22 .07 -.41 .06 .63 .06 -.24 .07 .01 .06 -.44 .06 .47 .07 .01 .06 -.20 .07 .41 .06 -.34 .06 -.62 .07 .64 .06 .36 .06 -.56 .07 .34 .06 -.33 .06 .17 .07 -.62 .06 .20 .07 .38 .06 -.06 .06 -.30 .07 .63 .06 -.07 .06 -.29 .07 -.28 .06 .65 .06 -.25 .07 .31 .06 .11 .07 -.35 .06 .04 .06 .25 .07 -.24 .06 -.41 .06 .64 .07 -.06 .06 -.21 .06 .28 .07 -.21 .06 0 .07 .31 .06 -.53 .06 -.05 .07 .37 .06 -.27 .06 .54 .07 -.38 .06 -.24 .06 .34 .07 -.44 .06 .90 .07 -.33 .06 .18 .06 -.03 .07 -.06 .06 -.30 .06 .46 .07 -.26 .06 -.10 .06 -.30 .07 .83 .06 -.36 .07 -.04 .06 -.36 .06 .72 .07 -.25 .06 .29 .06 -.25 .07 -.19 .06 .36 .06 -.52 .07 .02 .06 .38 .07 .21 .06 .10 .06 -.29 .07 .01 .06 .09 .06 -.09 .07 -.06 .06 .26 .06 -.24 .07 .08 .06 .36 .06 -.23 .07 -.17 .06 .31 .07 -.20 .06 .22 .06 -.37 .07 .03 .06 -.15 .06 .64 .07 .08 .06 -.04 .06 -.20 .07 -.02 .06 -.10 .07 .21 .06 -.18 .06 -.19 .07 .51 .06 -.01 .06 -.09 .07 -.13 .06 -.07 .06 .13 .07 .04 .06 -.34 .07 .19 .06 -.14 .06 .56 .07 -.61 .06 .05 .06 .09 .07 .27 .06 -.26 .06 .68 .07 -.24 .06 -.78 .07 .67 .06 .04 .06 -.39 .07 .31 .06 .05 .06 -.17 .07 .14 .06 .13 .06 -.21 .07 .13 .06 -.28 .07 .47 .06 -.31 .06 .48 .07 .23 .06 -.09 .06 -.53 .07 .24 .06 -.17 .06 .20 .07 -.32 .06 -.04 .07 .26 .06 -.18 .06 .53 .07 -.12 .06 -.09 .06 -.11 .07 .01 .06 .30 .06 -.22 .07 0 .06 .49 .07 -.44 .06 -.09 .06 .02 .07 .40 .06 -.45 .06 .02 .07 .42 .06 .03 .06 .07 .07 -.58 .06 .35 .07 -.25 .06 -2.39 .06 2.14 .07 .38 .06 .35 .06 -.22 .07 -.68 .06 .91 .06 -.16 .07 -.16 .06 .09 .07 -.08 .06 .41 .06 -.31 .07 -.41 .06 .21 .06 .68 .07 -.12 .06 -.08 .06 -.42 .07 .37 .06 .15 .07 -.24 .06 .18 .06 .12 .07 -.01 .06 -.15 .06 .01 .07 -.45 .06 .27 .06 .32 .07 .25 .06 -.41 .06 .26 .07 -.28 .06 -.26 .07 .40 .06 .01 .06 -.36 .07 .02 .06 .26 .06 -.14 .07 .29 .06 -.50 .06 .61 .07 -.39 .06 .29 .07 -.53 .06 .71 .06 -.19 .07 .54 .06 -1.04 .06 -.04 .07 .73 .06 .06 .06 -.75 .07 .67 .06 .12 .07 .15 .06 -.35 .06 -.47 .07 -.10 .06 1.16 .06 -.47 .07 .18 .06 -.37 .06 .04 .07 .02 .06 -.20 .07 .20 .06 -.23 .06 .21 .07 .45 .06 -.30 .06 -.19 .07 .71 .06 -.12 .06 -.35 .07 -.51 .06 .90 .07 .01 .06 -.54 .06 .60 .07 -.65 .06 .18 .06 -.05 .07 .20 .06 -.08 .06 .47 .07 -.51 .06 .24 .07 1.57 .06 -1.60 .06 -.31 .07 .24 .06 .44 .06 -.16 .07 -.58 .06 .24 .06 2.03 .07 -2.10 .06 .03 .07 -.16 .06 .51 .06 .15 .07 -.22 .06 -.18 .06 .21 .07 -.27 .06 .55 .06 .41 .07 -1.46 .06 .89 .07 -.09 .06 .05 .06 -.13 .07 -.36 .06 .44 .06 -.08 .07 .08 .06 .05 .06 -.13 .07 .86 .06 -1.07 .07 .27 .06 -.26 .06 .36 .07 .53 .06 -.48 .06 -.23 .07 -.14 .06 .59 .06 -.38 .07 .42 .06 -.39 .07 -3.25 .06 3.46 .06 -.47 .07 .89 .06 -.72 .06 .41 .07 .11 .06 .60 .06 -.57 .07 .12 .06 -.41 .06 .13 .07 .05 .06 .35 .07 -.64 .06 .45 .06 .67 .07 -1.08 .06 -.26 .06 .43 .07 .13 .06 .58 .06 -.36 .07 .22 .06 -.58 .07 .23 .06 .11 .06 -.35 .07 .37 .06 -.17 .06 .18 .07 -.51 .06 -.20 .06 1.11 .07 -.42 .06 -.03 .07 .83 .06 -.45 .06 -.17 .07 -.35 .06 -2.41 .06 2.73 .07 -.15 .06 .56 .06 -.21 .07 -.05 .06 -.44 .07 .06 .06 .60 .06 -.28 .07 -.24 .06 .29 .06 -.08 .07 -.14 .06 .09 .06 .32 .07 -.13 .06 -.38 .07 .05 .06 .35 .06 -.43 .07 .40 .06 -.07 .06 -.38 .07 -.35 .06 .52 .06 .29 .07 .01 .06 .43 .07 -2.36 .06 1.94 .06 .16 .07 -.26 .06 .73 .06 -.76 .07 -.08 .06 .13 .06 .58 .07 -.59 .06 -.05 .07 .46 .06 .21 .06 -.52 .07 .38 .06 -.44 .06 .70 .07 -.82 .06 .28 .06 -.05 .07 -.15 .06 .29 .07 .27 .06 -.50 .06 .94 .07 -.55 .06 .04 .06 -.37 .07 .25 .06 .34 .06 -.64 .07 .12 .06 -.04 .07 -.15 .06 .68 .06 -.49 .07 .86 .06 -.99 .06 .32 .07 .15 .06 -.35 .06 -.39 .07 .53 .06 .23 .07 -.31 .06 .43 .06 -.73 .07 .76 .06 .64 .06 -.38 .07 .02 .06 -.46 .06 -.02 .07 .56 .06 -.50 .07 .35 .06 -.56 .06 .49 .07 -.06 .06 -.83 .06 .75 .07 .25 .06 0 .06 -.04 .07 .33 .06 -.47 .06 -.24 .07 .61 .06 .45 .07 -.87 .06 .67 .06 -.59 .07 -.46 .06 .22 .06 .03 .07 .73 .06 -.37 .06 -.22 .07 .25 .06 .47 .07 -.52 .06 -.22 .06 .40 .07 -.42 .06 .50 .06 .18 .07 -.28 .06 -.21 .06 .21 .07 -.55 .06 1.10 .07 .31 .06 -.85 .06 -.76 .07 .52 .06 -.27 .06 -.15 .07 .65 .06 .01 .06 -.17 .07 .66 .06 -.39 .07 -.36 .06 .53 .06 -.62 .07 .35 .06 -.17 .06 .44 .07 -.21 .06 -.10 .06 .33 .07 .09 .06 -.08 .07 .34 .06 -.80 .06 .55 .07 .50 .06 -.62 .06 -.83 .07 1.22 .06 -.44 .06 .33 .07 -.13 .06 .15 .07 .24 .06 -.41 .06 .26 .07 -.78 .06 .16 .06 .31 .07 .66 .06 -.91 .06 .19 .07 .41 .06 -.45 .07 -.29 .06 -.25 .06 1.08 .07 -.73 .06 .58 .06 .08 .07 -.58 .06 .57 .06 -1.00 .07 .81 .06 -.36 .07 .51 .06 0 .06 0 .07 .19 .06 -.49 .06 -.30 .07 .09 .06 .89 .06 -.79 .07 .28 .06 .29 .07 -.19 .06 -.32 .06 -.44 .07 1.23 .06 -.60 .06 -.40 .07 .40 .06 .29 .06 -.80 .07 .85 .06 -.04 .07 .19 .06 -.16 .06 -.40 .07 -.24 .06 .58 .06 -.12 .07 .84 .06 -.72 .06 .29 .07 -.13 .06 -.72 .06 1.02 .07 -.48 .06 -.39 .07 .77 .06 .34 .06 -.54 .07 -.05 .06 -.14 .06 .10 .07 .64 .06 -.41 .06 .15 .07 .07 .06 -1.24 .07 1.10 .06 2.52 .06 -2.48 .07 -.69 .06 .30 .06 .61 .07 -.10 .06 .03 .06 -.65 .07 .60 .06 .50 .07 -.58 .06 .56 .06 -.19 .07 -.01 .06 -.61 .06 .02 .07 0 .06 .77 .06 .06 .07 -.95 .06 -.09 .07 .60 .06 .51 .06 -.43 .07 .17 .06 -.06 .06 .05 .07 -.28 .06 .27 .06 .09 .07 -.32 .06 .77 .07 -1.15 .06 .29 .06 -.18 .07 .82 .06 .02 .06 -.77 .07 .36 .06 -.21 .06 -.38 .07 .25 .06 .50 .07 .11 .06 -.55 .06 .33 .07 .36 .06 .25 .06 -.43 .07 -.49 .06 -.32 .06 2.83 .07 -2.26 .06 -.11 .07 -.03 .06 .07 .06 .32 .07 .23 .06 -.63 .06 1.17 .07 -.18 .06 -.71 .06 .25 .07 .54 .06 -1.05 .07 .14 .06 .02 .06 -.17 .07 .77 .06 -.40 .06 .15 .07 0 .06 -.11 .06 .77 .07 -.73 .06 -.29 .07 -.22 .06 .31 .06 .40 .07 0 .06 .06 .06 -.30 .07 .39 .06 .02 .06 -.72 .07 .72 .06 .02 .07 -.30 .06 .63 .06 -.46 .07 -.35 .06 .77 .06 .39 .07 -1.30 .06 .49 .06 .44 .07 -.11 .06 .20 .06 .14 .07 -1.39 .06 1.13 .07 -1.03 .06 .31 .06 -.05 .07 .72 .06 -.96 .06 .81 .07 -.72 .06 1.61 .06 -1.14 .07 .24 .06 -.52 .07 2.72 .06 -1.56 .06 -.48 .07 -.63 .06 .31 .06 .17 .07 .89 .06 -.85 .06 .27 .07 .30 .06 .62 .07 -.79 .06 -.78 .06 .04 .07 1.26 .06 -.59 .06 -1.07 .07 .67 .06 .03 .06 .07 .07 .47 .06 .02 .07 .33 .06 -1.51 .06 1.04 .07 -.22 .06 -.40 .06 .91 .07 -1.01 .06 -.02 .06 1.43 .07 -.56 .06 .21 .07 .25 .06 -1.22 .06 1.27 .07 -.59 .06 .21 .06 .14 .07 -.07 .06 -.47 .06 .19 .07 .09 .06 .44 .07 -1.55 .06 1.75 .06 -1.12 .07 1.51 .06 -.81 .06 .63 .07 -.95 .06 .96 .06 -.62 .07 .01 .06 .03 .07 -1.42 .06 .50 .06 -.06 .07 .84 .06 -.14 .06 .53 .07 -.22 .06 .44 .06 -.94 .07 .53 .06 -.41 .07 -.31 .06 -.29 .06 .83 .07 -.40 .06 .21 .06 -.21 .07 -.05 .06 1.79 .06 -1.21 .07 -.66 .06 .56 .07 .12 .06 -.73 .06 1.27 .07 -.98 .06 .73 .06 -.48 .07 -.17 .06 1.68 .06 -1.56 .07 -.45 .06 .52 .07 -.23 .06 1.06 .06 -.32 .07 -.81 .06 1.50 .06 -1.00 .07 -.53 .06 1.22 .06 -.21 .07 -.83 .06 -.05 .07 -2.95 .06 3.21 .06 .62 .07 -.12 .06 -.73 .06 .06 .07 .43 .06 .80 .06 -.97 .07 .63 .06 -.61 .06 .55 .07 -.50 .06 .52 .07 -.66 .06 .09 .06 1.36 .07 -.50 .06 -1.09 .06 1.24 .07 -.67 .06 .78 .06 -1.35 .07 .64 .06 -.16 .07 -.13 .06 -.22 .06 1.59 .07 -.98 .06 -.15 .06 -.66 .07 1.42 .06 .01 .06 -.64 .07 -.60 .06 .99 .07 -.27 .06 -.73 .06 1.81 .07 -.68 .06 -.86 .06 .10 .07 .82 .06 .22 .06 -.29 .07 -.02 .06 -.44 .07 1.25 .06 -1.18 .06 .27 .07 .09 .06 -.32 .06 .55 .07 .40 .06 -1.90 .06 1.03 .07 .76 .06 .09 .07 -.94 .06 .59 .06 -.24 .07 -.01 .06 -.38 .06 .84 .07 .11 .06 .21 .06 -.66 .07 -.05 .06 .51 .07 .68 .06 -1.34 .06 .08 .07 .95 .06 -1.46 .06 -.67 .07 1.77 .06 .22 .06 -.02 .07 -.15 .06 .06 .07 -.90 .06 .89 .06 -1.02 .07 -.28 .06 .69 .06 -.53 .07 .11 .06 .24 .06 .12 .07 .30 .06 -.58 .07 .22 .06 .24 .06 .17 .07 .17 .06 .16 .06 -.27 .07 .13 .06 .12 .06 -.34 .07 .12 .06 -.55 .07 .59 .06 .39 .06 -.82 .07 1.01 .06 -.91 .06 .81 .07 .32 .06 -.72 .06 -.31 .07 .44 .06 -.42 .07 -.24 .06 .99 .06 -1.48 .07 1.44 .06 -.85 .06 .88 .07 -.72 .06 1.20 .06 -1.17 .07 4.15 .06 -2.63 .06 -1.22 .07 -.07 .06 .07 .07 -.15 .06 .33 .06 -.53 .07 1.50 .06 -1.45 .06 .70 .07 .36 .06 -.78 .06 .56 .07 -.70 .06 -.22 .07 .11 .06 .97 .06 -.01 .07 -.98 .06 .98 .06 -.96 .07 .56 .06 .27 .06 -1.38 .07 1.37 .06 -.46 .07 -.59 .06 1.11 .06 -.19 .07 .04 .06 -.31 .06 -.19 .07 -.32 .06 .56 .06 -.40 .07 .32 .06 .44 .07 .21 .06 -.18 .06 -.06 .07 -.27 .06 .63 .06 .12 .07 -.83 .06 .04 .06 -.27 .07 .36 .06 -.06 .07 1.22 .06 -.29 .06 -1.36 .07 1.09" stroke="#ff661a" stroke-width="1.0" fill="none" stroke-linejoin="round"/>
<text transform="translate(32.5 68.75) rotate(-90)" text-anchor="middle" font-size="13.75">SOC</text>
<rect x="356.5" y="29.0" width="163.0" height="19.5" fill="#fff" stroke="#262626" stroke-width="1"/>
<path d="M360.8 39.3H405.4" stroke="#ff661a" stroke-width="0.9"/>
<text x="408.2" y="43.8" font-size="11.5">BPNN Forecast SOC</text>
<path d="M123.48 161.80V254.90M187.11 161.80V254.90M250.74 161.80V254.90M314.36 161.80V254.90M377.99 161.80V254.90M441.62 161.80V254.90M505.25 161.80V254.90" stroke="#0000ff" stroke-opacity="0.15" stroke-width="1.0" fill="none"/>
<path d="M59.85 239.58H541.90M59.85 224.06H541.90M59.85 208.55H541.90M59.85 193.04H541.90M59.85 177.53H541.90" stroke="#0000ff" stroke-opacity="0.15" stroke-width="1.0" fill="none"/>
<path d="M59.85 161.80H541.90V254.90H59.85ZM59.85 254.90v-4.8M59.85 161.80v4.8M123.48 254.90v-4.8M123.48 161.80v4.8M187.11 254.90v-4.8M187.11 161.80v4.8M250.74 254.90v-4.8M250.74 161.80v4.8M314.36 254.90v-4.8M314.36 161.80v4.8M377.99 254.90v-4.8M377.99 161.80v4.8M441.62 254.90v-4.8M441.62 161.80v4.8M505.25 254.90v-4.8M505.25 161.80v4.8M59.85 239.58h4.8M541.90 239.58h-4.8M59.85 224.06h4.8M541.90 224.06h-4.8M59.85 208.55h4.8M541.90 208.55h-4.8M59.85 193.04h4.8M541.90 193.04h-4.8M59.85 177.53h4.8M541.90 177.53h-4.8" stroke="#262626" stroke-width="1" fill="none"/>
<text x="59.85" y="272.00" text-anchor="middle" font-size="12.5">0</text>
<text x="123.48" y="272.00" text-anchor="middle" font-size="12.5">1000</text>
<text x="187.11" y="272.00" text-anchor="middle" font-size="12.5">2000</text>
<text x="250.74" y="272.00" text-anchor="middle" font-size="12.5">3000</text>
<text x="314.36" y="272.00" text-anchor="middle" font-size="12.5">4000</text>
<text x="377.99" y="272.00" text-anchor="middle" font-size="12.5">5000</text>
<text x="441.62" y="272.00" text-anchor="middle" font-size="12.5">6000</text>
<text x="505.25" y="272.00" text-anchor="middle" font-size="12.5">7000</text>
<text x="55.50" y="244.58" text-anchor="end" font-size="12.5">-0.05</text>
<text x="55.50" y="229.06" text-anchor="end" font-size="12.5">-0.025</text>
<text x="55.50" y="213.55" text-anchor="end" font-size="12.5">0</text>
<text x="55.50" y="198.04" text-anchor="end" font-size="12.5">0.025</text>
<text x="55.50" y="182.53" text-anchor="end" font-size="12.5">0.05</text>
<clipPath id="c2"><rect x="59.35" y="161.8" width="482.55" height="93.10"/></clipPath><path clip-path="url(#c2)" d="M59.85 84.45l.06 113.25 .07 7.80 .06 8.39 .06 -5.92 .07 7.29 .06 -14.28 .07 -17.36 .06 24.87 .06 1.74 .07 -15.04 .06 1.81 .06 3.41 .07 -35.49 .06 37.33 .06 -9.79 .07 27.57 .06 -11.98 .07 -48.58 .06 59.81 .06 7.44 .07 -21.65 .06 13.91 .06 -20.72 .07 1.55 .06 4.63 .06 31.33 .07 -26.59 .06 -6.58 .07 -2.17 .06 22.06 .06 -65.77 .07 58.37 .06 -2.28 .06 -25.03 .07 51.97 .06 -37.32 .06 -12.25 .07 19.63 .06 -6.30 .07 -2.96 .06 .63 .06 17.20 .07 -17.35 .06 -17.09 .06 38.72 .07 -32.04 .06 9.86 .06 10.13 .07 -35.12 .06 16.47 .07 50.00 .06 -40.85 .06 -6.65 .07 -41.01 .06 39.62 .06 9.94 .07 -9.71 .06 -10.19 .06 27.98 .07 -11.62 .06 8.81 .06 -7.79 .07 17.36 .06 -8.03 .07 -5.04 .06 -40.91 .06 23.24 .07 32.53 .06 -6.97 .06 -18.96 .07 34.71 .06 -20.10 .06 -4.80 .07 -17.77 .06 -28.18 .07 48.98 .06 .55 .06 -1.55 .07 -23.22 .06 25.56 .06 30.82 .07 -41.02 .06 6.20 .06 1.00 .07 11.97 .06 16.03 .07 -24.77 .06 -20.98 .06 6.70 .07 46.86 .06 -47.04 .06 13.13 .07 -51.99 .06 47.65 .06 -7.64 .07 24.34 .06 -21.25 .07 26.40 .06 4.50 .06 -22.44 .07 -44.09 .06 38.04 .06 -26.91 .07 39.80 .06 -2.68 .06 -10.72 .07 -3.70 .06 8.65 .07 .38 .06 -11.70 .06 2.36 .07 20.02 .06 -12.29 .06 -1.46 .07 14.02 .06 -16.90 .06 14.37 .07 -23.49 .06 10.01 .07 1.33 .06 8.73 .06 -6.05 .07 24.07 .06 -11.09 .06 -19.12 .07 31.87 .06 -38.03 .06 33.13 .07 -31.96 .06 20.45 .07 26.13 .06 -38.57 .06 21.25 .07 -35.47 .06 -2.44 .06 -19.98 .07 41.82 .06 -1.44 .06 -40.24 .07 24.28 .06 20.84 .07 -6.24 .06 9.42 .06 -2.12 .07 8.25 .06 19.48 .06 -33.69 .07 -14.16 .06 12.05 .06 -33.91 .07 38.22 .06 2.95 .07 -7.16 .06 4.83 .06 -.94 .07 13.58 .06 -7.19 .06 -30.95 .07 29.24 .06 4.82 .06 -17.48 .07 -13.41 .06 35.90 .07 -15.62 .06 5.32 .06 14.14 .07 -31.25 .06 9.50 .06 -1.18 .07 10.30 .06 -15.07 .06 12.41 .07 -4.94 .06 12.05 .06 1.34 .07 -31.79 .06 22.96 .07 -9.94 .06 4.06 .06 5.07 .07 .83 .06 -50.03 .06 47.48 .07 -1.78 .06 -2.01 .06 -13.77 .07 6.17 .06 3.72 .07 11.19 .06 9.48 .06 -26.63 .07 .05 .06 12.58 .06 -7.42 .07 -2.42 .06 -.31 .06 -.74 .07 14.69 .06 -20.37 .07 28.59 .06 -21.36 .06 3.90 .07 -3.56 .06 -9.55 .06 4.15 .07 25.21 .06 5.05 .06 -23.18 .07 16.87 .06 -9.00 .07 -7.40 .06 21.83 .06 3.91 .07 -20.16 .06 1.88 .06 2.43 .07 -2.38 .06 7.53 .06 5.47 .07 -11.29 .06 6.75 .07 5.63 .06 -18.01 .06 4.75 .07 -3.92 .06 11.70 .06 -2.78 .07 2.86 .06 -.94 .06 -9.07 .07 19.64 .06 .64 .07 -21.49 .06 -14.12 .06 28.64 .07 -19.11 .06 8.19 .06 -.63 .07 12.02 .06 -8.29 .06 -10.08 .07 6.92 .06 -1.37 .07 3.11 .06 -12.10 .06 -9.39 .07 37.49 .06 -12.63 .06 10.69 .07 5.29 .06 -17.34 .06 -15.61 .07 10.77 .06 10.22 .07 -1.94 .06 -17.35 .06 8.15 .07 .92 .06 .85 .06 -.77 .07 -6.43 .06 2.12 .06 2.82 .07 10.54 .06 -13.01 .07 10.01 .06 -14.89 .06 19.81 .07 -9.50 .06 -1.09 .06 11.03 .07 -25.52 .06 2.20 .06 16.11 .07 -10.35 .06 3.30 .07 24.95 .06 -23.88 .06 2.61 .07 -1.21 .06 9.72 .06 -6.77 .07 -.76 .06 -11.44 .06 7.15 .07 2.85 .06 -12.86 .07 17.46 .06 -1.39 .06 11.96 .07 -28.37 .06 5.07 .06 .40 .07 2.08 .06 4.68 .06 -.89 .07 3.92 .06 -.41 .06 -2.16 .07 -12.21 .06 8.01 .07 5.15 .06 4.36 .06 .47 .07 -18.75 .06 9.18 .06 3.68 .07 3.47 .06 6.39 .06 -8.73 .07 -7.88 .06 10.61 .07 -1.39 .06 -.05 .06 -2.77 .07 14.26 .06 -32.41 .06 26.23 .07 -14.57 .06 13.86 .06 -11.29 .07 -7.93 .06 -5.19 .07 23.00 .06 -6.65 .06 1.63 .07 8.30 .06 -12.18 .06 -13.02 .07 19.04 .06 -.46 .06 7.05 .07 -11.42 .06 13.11 .07 -1.17 .06 -19.99 .06 -8.46 .07 10.12 .06 -3.71 .06 10.60 .07 -2.47 .06 -11.72 .06 18.01 .07 3.32 .06 6.36 .07 -11.68 .06 -12.04 .06 4.35 .07 15.93 .06 -.73 .06 -2.94 .07 -6.67 .06 4.17 .06 -3.52 .07 -.69 .06 4.99 .07 -2.16 .06 -2.07 .06 2.43 .07 -4.92 .06 -11.45 .06 35.48 .07 -20.28 .06 14.59 .06 -17.37 .07 19.56 .06 -4.51 .07 -18.96 .06 1.24 .06 7.17 .07 13.07 .06 -11.21 .06 2.57 .07 -11.02 .06 -13.57 .06 17.09 .07 8.35 .06 3.27 .07 -9.33 .06 1.01 .06 8.16 .07 -10.62 .06 10.62 .06 -18.96 .07 .42 .06 -.19 .06 13.06 .07 -8.28 .06 5.41 .07 2.16 .06 -.42 .06 8.05 .07 1.20 .06 -18.75 .06 8.26 .07 -3.41 .06 -6.58 .06 22.91 .07 -7.95 .06 -8.04 .07 -1.82 .06 6.45 .06 -11.78 .07 6.86 .06 11.92 .06 -2.36 .07 -14.55 .06 2.86 .06 19.80 .07 -27.20 .06 6.28 .06 -6.24 .07 14.46 .06 -.73 .07 6.95 .06 -30.68 .06 22.72 .07 -14.77 .06 18.72 .06 -6.79 .07 15.37 .06 -10.79 .06 -11.45 .07 18.72 .06 -19.46 .07 6.15 .06 11.57 .06 -4.54 .07 -.36 .06 -3.43 .06 4.08 .07 13.68 .06 -15.62 .06 6.05 .07 2.20 .06 -10.40 .07 -7.80 .06 20.21 .06 -12.84 .07 17.73 .06 -38.75 .06 13.90 .07 11.49 .06 -16.89 .06 19.08 .07 -9.77 .06 5.14 .07 4.41 .06 -11.23 .06 6.22 .07 -6.35 .06 5.44 .06 8.70 .07 -8.24 .06 -1.29 .06 -7.59 .07 15.62 .06 -7.26 .07 14.09 .06 -37.53 .06 32.17 .07 6.07 .06 -14.64 .06 -9.75 .07 22.03 .06 -3.66 .06 -2.89 .07 3.24 .06 -12.64 .07 9.94 .06 -.72 .06 -10.93 .07 11.22 .06 -9.96 .06 11.77 .07 2.01 .06 5.22 .06 -30.96 .07 34.27 .06 -20.72 .07 2.30 .06 -1.60 .06 .92 .07 -15.57 .06 24.69 .06 4.34 .07 -4.56 .06 2.70 .06 -17.44 .07 -.61 .06 14.92 .07 3.60 .06 -8.68 .06 -14.62 .07 33.43 .06 -26.19 .06 13.42 .07 -17.73 .06 17.75 .06 -6.64 .07 10.23 .06 -4.44 .07 -19.79 .06 4.73 .06 10.24 .07 -22.06 .06 34.56 .06 -12.56 .07 -3.04 .06 .44 .06 .08 .07 8.62 .06 -8.85 .07 -.23 .06 -11.13 .06 -4.83 .07 16.79 .06 -19.29 .06 18.68 .07 4.55 .06 1.13 .06 -5.73 .07 8.25 .06 -13.82 .06 5.95 .07 -2.97 .06 25.63 .07 -17.44 .06 1.85 .06 -5.95 .07 2.61 .06 -6.56 .06 2.00 .07 11.37 .06 -11.97 .06 11.81 .07 -6.09 .06 -2.70 .07 14.92 .06 -18.15 .06 -.50 .07 2.59 .06 2.23 .06 -.42 .07 5.05 .06 -5.92 .06 2.37 .07 -5.40 .06 10.86 .07 -12.06 .06 .77 .06 2.38 .07 2.50 .06 -20.70 .06 30.96 .07 -17.80 .06 1.82 .06 -.34 .07 -.83 .06 8.68 .07 -3.30 .06 -7.51 .06 1.73 .07 1.88 .06 14.41 .06 -17.19 .07 -5.29 .06 30.42 .06 -22.58 .07 15.01 .06 -20.95 .07 9.13 .06 19.98 .06 -24.37 .07 15.66 .06 -1.64 .06 -5.54 .07 -15.98 .06 13.76 .06 -24.02 .07 6.28 .06 1.29 .07 14.21 .06 1.16 .06 8.54 .07 -4.74 .06 -9.38 .06 .24 .07 2.40 .06 -7.41 .06 14.80 .07 -6.00 .06 -6.60 .07 1.24 .06 -4.08 .06 5.64 .07 5.92 .06 -22.51 .06 28.32 .07 5.33 .06 -18.60 .06 5.33 .07 -3.04 .06 16.80 .07 -11.16 .06 1.96 .06 2.22 .07 11.65 .06 -16.09 .06 -10.32 .07 4.33 .06 8.22 .06 -4.91 .07 -6.46 .06 28.12 .07 -20.74 .06 -5.59 .06 -1.17 .07 -15.39 .06 11.60 .06 6.89 .07 .09 .06 -4.06 .06 11.11 .07 -4.18 .06 -7.93 .07 -8.81 .06 35.97 .06 -19.17 .07 -2.06 .06 -9.59 .06 11.50 .07 -12.56 .06 20.41 .06 -6.54 .07 .10 .06 -8.25 .07 -2.17 .06 21.40 .06 -4.98 .07 -10.48 .06 8.34 .06 7.23 .07 -21.45 .06 4.56 .06 .01 .07 8.11 .06 -12.60 .06 10.63 .07 -11.20 .06 16.83 .07 -.49 .06 -8.87 .06 7.60 .07 -11.54 .06 3.48 .06 9.91 .07 -8.34 .06 3.55 .06 -25.30 .07 27.66 .06 -1.62 .07 -13.83 .06 -8.60 .06 2.00 .07 16.22 .06 -1.30 .06 -11.02 .07 13.89 .06 7.14 .06 -9.16 .07 -2.80 .06 10.72 .07 -26.40 .06 31.49 .06 -17.61 .07 11.93 .06 -5.17 .06 -2.96 .07 -3.41 .06 7.99 .06 -6.98 .07 26.06 .06 -18.85 .07 5.55 .06 -18.06 .06 9.71 .07 5.96 .06 -3.24 .06 -1.09 .07 -7.73 .06 19.23 .06 -4.67 .07 -5.52 .06 -24.38 .07 13.20 .06 8.94 .06 -6.90 .07 -11.27 .06 19.20 .06 1.11 .07 16.95 .06 -24.16 .06 -1.49 .07 9.89 .06 -20.38 .07 1.80 .06 9.58 .06 -.99 .07 22.71 .06 -36.86 .06 21.50 .07 -5.26 .06 -2.08 .06 8.58 .07 11.30 .06 -17.24 .07 9.29 .06 -3.45 .06 2.30 .07 -2.20 .06 16.48 .06 -29.54 .07 8.08 .06 -7.19 .06 -7.28 .07 16.40 .06 15.29 .07 -7.61 .06 2.62 .06 -5.91 .07 -4.87 .06 17.44 .06 -19.64 .07 -16.06 .06 16.44 .06 3.41 .07 22.34 .06 -22.65 .07 3.91 .06 .61 .06 8.96 .07 -13.84 .06 -15.71 .06 -1.13 .07 5.52 .06 5.16 .06 11.58 .07 -17.76 .06 12.56 .07 .11 .06 1.86 .06 -3.21 .07 4.41 .06 -2.94 .06 8.38 .07 -5.95 .06 -22.24 .06 19.69 .07 1.42 .06 -6.46 .06 -1.47 .07 15.26 .06 -7.60 .07 -9.42 .06 5.43 .06 1.24 .07 -12.00 .06 18.70 .06 -6.37 .07 5.04 .06 -16.84 .06 28.84 .07 -10.74 .06 -1.18 .07 -9.99 .06 .48 .06 -6.61 .07 24.87 .06 -19.47 .06 8.75 .07 3.11 .06 -10.09 .06 12.23 .07 9.69 .06 -14.30 .07 9.44 .06 -7.11 .06 -8.54 .07 .49 .06 -10.67 .06 14.96 .07 11.17 .06 -6.51 .06 1.37 .07 -27.02 .06 15.67 .07 9.05 .06 11.16 .06 -22.40 .07 6.77 .06 -3.92 .06 2.10 .07 -4.40 .06 4.97 .06 -10.04 .07 6.80 .06 -21.77 .07 21.90 .06 15.63 .06 -10.82 .07 .79 .06 -3.91 .06 13.12 .07 11.49 .06 -23.75 .06 11.03 .07 4.16 .06 -11.96 .07 -1.60 .06 5.27 .06 -6.79 .07 -20.30 .06 16.45 .06 10.69 .07 -30.15 .06 15.88 .06 -13.34 .07 29.98 .06 -4.55 .07 3.14 .06 -13.60 .06 16.19 .07 -5.56 .06 -3.81 .06 7.95 .07 -.18 .06 -4.04 .06 13.61 .07 -5.48 .06 -8.65 .07 -4.70 .06 2.79 .06 13.31 .07 -10.98 .06 -10.57 .06 2.03 .07 5.32 .06 6.77 .06 -12.72 .07 10.14 .06 4.94 .07 -3.07 .06 -18.85 .06 10.28 .07 -7.86 .06 13.72 .06 -11.87 .07 12.90 .06 24.23 .06 -50.09 .07 14.39 .06 10.63 .07 -3.49 .06 -3.44 .06 -7.41 .07 14.23 .06 10.49 .06 -12.24 .07 -2.47 .06 -.79 .06 -10.10 .07 8.37 .06 -4.16 .06 16.03 .07 -16.49 .06 -10.28 .07 11.08 .06 4.35 .06 .83 .07 -13.67 .06 22.72 .06 -6.83 .07 -4.78 .06 -2.38 .06 9.89 .07 -6.23 .06 4.89 .07 -3.33 .06 2.11 .06 8.45 .07 -9.37 .06 -7.52 .06 15.43 .07 20.78 .06 -34.43 .06 14.51 .07 16.70 .06 -16.78 .07 -18.36 .06 38.25 .06 -45.68 .07 18.75 .06 -25.10 .06 22.26 .07 .15 .06 -12.09 .06 23.98 .07 -19.86 .06 9.24 .07 -12.19 .06 10.21 .06 7.19 .07 -7.94 .06 -3.84 .06 -16.71 .07 18.79 .06 8.44 .06 13.48 .07 -25.37 .06 31.39 .07 -48.20 .06 23.77 .06 -8.09 .07 12.48 .06 2.08 .06 -4.33 .07 -11.51 .06 21.53 .06 -21.55 .07 15.30 .06 -28.83 .07 12.96 .06 11.34 .06 10.05 .07 -7.86 .06 -10.78 .06 -2.18 .07 -18.79 .06 25.35 .06 -2.57 .07 11.35 .06 -8.35 .07 3.23 .06 4.22 .06 -.37 .07 -4.67 .06 .31 .06 4.97 .07 -1.16 .06 -12.86 .06 7.51 .07 -5.60 .06 -2.65 .07 5.12 .06 -14.05 .06 25.86 .07 -13.64 .06 9.41 .06 -18.16 .07 1.30 .06 30.52 .06 -8.23 .07 -13.64 .06 -1.05 .07 .45 .06 6.74 .06 24.04 .07 -30.08 .06 6.10 .06 -9.23 .07 27.44 .06 -24.15 .06 -20.18 .07 17.47 .06 9.91 .07 5.51 .06 -10.54 .06 -24.55 .07 35.29 .06 5.46 .06 -12.86 .07 -4.37 .06 -4.39 .06 9.72 .07 -9.93 .06 8.60 .07 .93 .06 -5.57 .06 -4.04 .07 11.68 .06 -.82 .06 -.69 .07 -2.03 .06 8.20 .06 -16.09 .07 11.92 .06 -7.20 .06 10.74 .07 -9.87 .06 -.28 .07 6.78 .06 -20.37 .06 13.76 .07 -11.72 .06 6.82 .06 13.52 .07 -2.33 .06 -6.83 .06 3.13 .07 .10 .06 2.80 .07 12.69 .06 -13.20 .06 16.61 .07 -21.59 .06 9.15 .06 -.09 .07 -4.13 .06 -4.10 .06 14.21 .07 -34.18 .06 31.13 .07 8.13 .06 -8.96 .06 -21.32 .07 22.07 .06 -14.24 .06 16.86 .07 -13.92 .06 5.15 .06 -2.16 .07 -5.24 .06 -9.90 .07 13.02 .06 .58 .06 9.15 .07 -12.97 .06 6.91 .06 -8.98 .07 7.29 .06 -14.87 .06 31.03 .07 -14.05 .06 -9.82 .07 10.27 .06 3.68 .06 -4.39 .07 9.28 .06 -12.48 .06 -19.34 .07 10.79 .06 18.78 .06 -1.97 .07 -3.90 .06 -11.74 .07 15.21 .06 -1.09 .06 -13.12 .07 .17 .06 10.31 .06 6.20 .07 3.59 .06 -7.08 .06 12.75 .07 -24.81 .06 11.48 .07 -9.25 .06 -11.55 .06 5.79 .07 19.35 .06 -16.82 .06 -2.40 .07 39.72 .06 -22.15 .06 -7.02 .07 12.42 .06 -25.57 .07 32.26 .06 -10.81 .06 -6.97 .07 -.35 .06 -3.27 .06 -.88 .07 4.04 .06 -11.24 .06 27.26 .07 -17.80 .06 5.94 .07 -7.04 .06 -.74 .06 9.43 .07 -2.26 .06 -11.93 .06 3.69 .07 8.57 .06 -22.63 .06 -2.24 .07 31.37 .06 -14.67 .07 -18.36 .06 14.35 .06 4.68 .07 3.57 .06 2.77 .06 -2.73 .07 2.81 .06 -10.78 .06 9.51 .07 .36 .06 6.33 .06 -9.59 .07 7.02 .06 -5.93 .07 -10.16 .06 5.62 .06 -25.66 .07 25.74 .06 2.47 .06 1.55 .07 1.50 .06 -8.87 .06 15.32 .07 -20.16 .06 10.87 .07 6.50 .06 -2.16 .06 1.57 .07 -6.96 .06 7.29 .06 -15.45 .07 15.98 .06 12.39 .06 -12.81 .07 10.62 .06 -16.36 .07 -9.13 .06 3.42 .06 16.49 .07 -4.78 .06 -21.11 .06 12.13 .07 2.61 .06 -8.74 .06 -11.60 .07 9.61 .06 9.61 .07 -1.79 .06 -2.18 .06 10.22 .07 3.70 .06 -9.23 .06 8.31 .07 -7.36 .06 -1.31 .06 -18.64 .07 26.51 .06 -6.06 .07 .35 .06 -4.99 .06 -5.06 .07 12.76 .06 2.75 .06 6.80 .07 -5.93 .06 19.43 .06 -27.50 .07 8.81 .06 -5.34 .07 -3.35 .06 -3.92 .06 31.61 .07 -25.35 .06 13.01 .06 -5.53 .07 -22.99 .06 31.59 .06 -15.36 .07 -4.62 .06 4.93 .07 3.60 .06 -6.20 .06 -.47 .07 .64 .06 14.90 .06 -14.36 .07 5.87 .06 -2.55 .06 -6.42 .07 -3.44 .06 -2.12 .07 11.56 .06 -11.79 .06 -2.07 .07 .31 .06 -2.10 .06 12.74 .07 .23 .06 -8.29 .06 18.18 .07 -13.07 .06 6.14 .07 -1.34 .06 11.38 .06 -7.06 .07 -7.21 .06 -7.54 .06 -.84 .07 8.87 .06 .91 .06 5.32 .07 -10.23 .06 5.39 .07 -7.08 .06 -9.50 .06 14.80 .07 12.14 .06 -5.27 .06 4.95 .07 12.60 .06 -35.51 .06 8.94 .07 14.48 .06 -34.61 .06 11.56 .07 -18.20 .06 34.25 .07 -2.81 .06 -5.15 .06 -2.95 .07 -4.49 .06 -.25 .06 .23 .07 -1.47 .06 5.81 .06 18.16 .07 -11.60 .06 -3.68 .07 -19.69 .06 14.74 .06 10.53 .07 4.69 .06 -19.64 .06 6.45 .07 3.70 .06 -5.86 .06 34.05 .07 -29.20 .06 23.19 .07 -14.77 .06 -1.81 .06 4.37 .07 -9.80 .06 -8.23 .06 13.89 .07 5.39 .06 -26.20 .06 20.54 .07 6.47 .06 -12.18 .07 -1.56 .06 9.37 .06 -12.39 .07 10.58 .06 3.61 .06 -9.12 .07 -4.90 .06 11.63 .06 -7.99 .07 3.51 .06 -22.29 .07 27.38 .06 -17.32 .06 -12.87 .07 25.38 .06 23.64 .06 -32.09 .07 -3.09 .06 7.77 .06 7.69 .07 -.52 .06 -8.67 .07 -.59 .06 -6.76 .06 8.11 .07 -5.31 .06 -3.78 .06 11.18 .07 13.66 .06 -2.53 .06 2.13 .07 -25.06 .06 20.18 .07 -17.20 .06 5.34 .06 32.28 .07 -35.73 .06 9.15 .06 .80 .07 -2.36 .06 -.74 .06 5.84 .07 -4.12 .06 -13.58 .07 27.39 .06 -16.22 .06 9.64 .07 -9.05 .06 -5.40 .06 7.42 .07 -6.86 .06 19.53 .06 -22.29 .07 14.14 .06 -10.14 .07 3.64 .06 22.88 .06 -15.12 .07 -8.07 .06 -11.03 .06 10.47 .07 .25 .06 13.81 .06 -23.51 .07 35.10 .06 .05 .07 -21.51 .06 11.57 .06 -20.68 .07 -14.19 .06 15.56 .06 -4.51 .07 5.96 .06 12.62 .06 -19.19 .07 21.25 .06 -8.46 .07 -4.05 .06 -4.99 .06 3.86 .07 .24 .06 9.49 .06 4.36 .07 -11.16 .06 6.38 .06 4.93 .07 -.34 .06 -6.41 .06 11.25 .07 -4.17 .06 2.37 .07 -15.01 .06 -1.86 .06 -13.21 .07 28.95 .06 -6.76 .06 -13.15 .07 9.33 .06 .91 .06 -16.81 .07 16.90 .06 6.75 .07 1.33 .06 -34.21 .06 20.82 .07 13.84 .06 -3.19 .06 -12.55 .07 -.35 .06 10.08 .06 -10.45 .07 .42 .06 19.44 .07 -12.15 .06 -6.00 .06 8.16 .07 12.92 .06 -15.32 .06 -8.54 .07 -6.83 .06 31.12 .06 11.88 .07 -20.66 .06 -17.20 .07 -2.29 .06 2.08 .06 6.87 .07 10.82 .06 -14.75 .06 11.07 .07 14.91 .06 -42.26 .06 15.61 .07 -9.16 .06 22.52 .07 -19.63 .06 -1.01 .06 .30 .07 12.99 .06 9.75 .06 -8.46 .07 16.71 .06 -4.13 .06 -14.80 .07 8.93 .06 -6.82 .07 -.45 .06 -16.82 .06 5.22 .07 11.07 .06 -10.34 .06 40.56 .07 -27.81 .06 -10.29 .06 17.75 .07 -7.94 .06 8.59 .07 -11.86 .06 -12.49 .06 19.66 .07 -8.06 .06 9.25 .06 -34.92 .07 37.71 .06 -22.17 .06 -7.48 .07 15.49 .06 9.88 .07 -11.71 .06 -22.24 .06 21.44 .07 4.21 .06 .09 .06 -2.70 .07 9.78 .06 -1.44 .06 10.85 .07 -10.54 .06 8.08 .07 -10.53 .06 6.70 .06 -8.73 .07 -2.90 .06 15.44 .06 -5.00 .07 1.07 .06 -13.92 .06 -7.91 .07 7.05 .06 9.89 .07 -14.95 .06 24.54 .06 -24.82 .07 17.75 .06 16.01 .06 -42.82 .07 8.41 .06 21.50 .06 -9.89 .07 3.15 .06 -2.60 .06 13.05 .07 -6.60 .06 -9.46 .07 27.38 .06 3.45 .06 -27.64 .07 -18.68 .06 25.23 .06 -8.03 .07 17.91 .06 -5.46 .06 -21.25 .07 18.70 .06 -12.13 .07 4.88 .06 8.08 .06 -5.73 .07 1.37 .06 -.22 .06 -10.21 .07 .83 .06 10.12 .06 -25.92 .07 18.85 .06 3.14 .07 -9.28 .06 -12.93 .06 14.45 .07 7.22 .06 1.13 .06 5.64 .07 -30.93 .06 32.13 .06 -5.00 .07 .26 .06 -26.79 .07 26.56 .06 -1.66 .06 8.40 .07 -23.55 .06 9.36 .06 -10.54 .07 8.16 .06 -5.70 .06 14.29 .07 -7.94 .06 -15.48 .07 31.44 .06 -19.73 .06 -4.29 .07 10.50 .06 -2.83 .06 -4.23 .07 16.03 .06 -8.94 .06 10.73 .07 -1.62 .06 -.49 .07 -3.99 .06 -2.43 .06 -2.58 .07 15.73 .06 -28.58 .06 6.93 .07 3.62 .06 9.12 .06 -2.26 .07 -5.36 .06 1.15 .07 17.60 .06 -20.38 .06 -15.12 .07 36.91 .06 -23.93 .06 5.27 .07 4.05 .06 -12.50 .06 41.19 .07 -31.00 .06 -10.97 .07 14.00 .06 1.86 .06 -4.49 .07 4.72 .06 -16.80 .06 20.70 .07 -15.02 .06 17.94 .06 -16.22 .07 6.53 .06 20.47 .07 -21.30 .06 8.95 .06 -5.25 .07 -16.74 .06 22.42 .06 -.48 .07 -21.11 .06 11.18 .06 -12.03 .07 10.28 .06 10.17 .07 -6.88 .06 -10.94 .06 2.44 .07 7.93 .06 -.40 .06 1.36 .07 3.93 .06 -21.18 .06 16.24 .07 9.60 .06 -5.52 .06 -10.15 .07 .72 .06 6.57 .07 4.48 .06 -5.84 .06 -25.86 .07 37.04 .06 -17.72 .06 10.78 .07 -7.20 .06 -7.12 .06 4.80 .07 5.30 .06 -17.77 .07 12.32 .06 8.62 .06 -9.17 .07 2.74 .06 10.66 .06 -7.84 .07 2.01 .06 15.19 .06 -15.13 .07 .94 .06 1.30 .07 10.18 .06 -10.88 .06 -2.66 .07 -1.19 .06 10.43 .06 -14.90 .07 15.57 .06 -8.36 .06 22.84 .07 -18.89 .06 -1.53 .07 -13.35 .06 12.28 .06 -.73 .07 -4.37 .06 -6.97 .06 27.40 .07 -11.58 .06 1.50 .06 .65 .07 -1.94 .06 -31.21 .07 21.48 .06 10.01 .06 -8.50 .07 -2.34 .06 9.50 .06 -7.23 .07 -12.65 .06 11.04 .06 8.06 .07 -4.81 .06 7.14 .07 -9.95 .06 -4.96 .06 14.09 .07 -5.11 .06 -11.07 .06 13.48 .07 -5.74 .06 10.15 .06 -1.72 .07 -2.56 .06 -22.12 .07 21.18 .06 -25.50 .06 26.76 .07 -3.26 .06 -6.72 .06 3.82 .07 -15.30 .06 15.10 .06 -10.10 .07 9.58 .06 -2.69 .07 16.78 .06 -10.78 .06 -.48 .07 1.43 .06 15.63 .06 -24.83 .07 10.38 .06 .41 .06 -1.49 .07 -.22 .06 -5.20 .07 13.73 .06 -2.78 .06 -10.00 .07 1.19 .06 4.27 .06 1.62 .07 2.13 .06 -6.35 .06 -10.14 .07 18.32 .06 -21.13 .07 5.56 .06 10.61 .06 -10.11 .07 18.40 .06 2.18 .06 -3.62 .07 -7.20 .06 -.69 .06 1.55 .07 -5.02 .06 18.27 .07 -21.51 .06 15.66 .06 -6.21 .07 24.26 .06 -20.20 .06 1.75 .07 -2.98 .06 -8.13 .06 -4.93 .07 .21 .06 12.75 .06 -1.66 .07 1.06 .06 -11.21 .07 20.34 .06 -26.79 .06 14.09 .07 2.44 .06 -9.18 .06 -5.66 .07 5.64 .06 -5.81 .06 7.51 .07 -8.95 .06 -.13 .07 10.99 .06 -12.58 .06 10.42 .07 .64 .06 8.24 .06 -5.17 .07 -8.72 .06 17.09 .06 -16.04 .07 2.46 .06 .58 .07 20.30 .06 -17.19 .06 -6.14 .07 11.53 .06 -6.97 .06 20.17 .07 -24.92 .06 10.90 .06 -12.53 .07 22.17 .06 -20.71 .07 7.59 .06 -8.53 .06 -21.93 .07 33.58 .06 -23.37 .06 25.10 .07 -1.01 .06 -3.51 .06 6.09 .07 -18.07 .06 -4.37 .07 19.84 .06 -27.45 .06 12.13 .07 .52 .06 2.34 .06 -2.73 .07 16.52 .06 -5.71 .06 9.93 .07 .28 .06 -19.59 .07 13.49 .06 -24.09 .06 18.00 .07 5.84 .06 -11.74 .06 -8.19 .07 42.24 .06 -17.61 .06 -12.96 .07 -8.20 .06 15.25 .07 -33.05 .06 20.73 .06 7.16 .07 10.14 .06 -5.90 .06 3.06 .07 -8.58 .06 1.52 .06 -8.49 .07 3.60 .06 18.55 .07 -35.64 .06 15.56 .06 3.60 .07 -4.68 .06 12.88 .06 3.27 .07 -15.34 .06 16.28 .06 8.92 .07 -25.97 .06 -20.47 .07 31.32 .06 8.91 .06 -.59 .07 -1.38 .06 -6.49 .06 -23.63 .07 39.43 .06 -24.88 .06 15.78 .07 -.95 .06 20.94 .07 -29.02 .06 11.92 .06 -27.57 .07 22.05 .06 -9.03 .06 .39 .07 -9.88 .06 15.22 .06 -11.93 .07 14.27 .06 -15.20 .06 15.37 .07 -3.27 .06 -18.40 .07 12.87 .06 1.68 .06 -17.37 .07 15.32 .06 9.60 .06 -12.64 .07 32.82 .06 -36.03 .06 -.63 .07 14.50 .06 .44 .07 -6.55 .06 -19.52 .06 28.92 .07 -12.59 .06 21.26 .06 -13.11 .07 -.23 .06 -1.07 .06 -4.72 .07 12.50 .06 -14.80 .07 6.27 .06 3.82 .06 5.84 .07 -1.50 .06 -12.57 .06 10.79 .07 -8.37 .06 -24.44 .06 16.55 .07 -4.30 .06 15.12 .07 6.42 .06 -17.14 .06 5.79 .07 -6.63 .06 9.06 .06 -9.65 .07 2.85 .06 1.06 .06 1.73 .07 .86 .06 1.34 .07 .06 .06 -6.22 .06 12.23 .07 -25.19 .06 21.88 .06 -8.88 .07 8.75 .06 1.28 .06 -18.55 .07 19.06 .06 7.87 .07 -4.58 .06 -31.52 .06 8.17 .07 15.86 .06 -5.93 .06 15.76 .07 -11.02 .06 -2.59 .06 -9.20 .07 20.32 .06 -26.79 .07 18.67 .06 10.77 .06 -8.15 .07 1.98 .06 16.77 .06 -23.78 .07 .47 .06 7.97 .06 7.31 .07 -22.92 .06 9.88 .07 -6.11 .06 -3.20 .06 15.70 .07 -10.84 .06 8.57 .06 -1.45 .07 .18 .06 -.68 .06 26.98 .07 -28.00 .06 2.26 .07 1.00 .06 -5.03 .06 10.05 .07 -3.19 .06 -3.66 .06 4.18 .07 -3.64 .06 4.00 .06 -21.25 .07 5.49 .06 7.14 .07 4.09 .06 -18.24 .06 15.18 .07 3.33 .06 -3.16 .06 -.03 .07 -8.97 .06 -16.54 .06 10.94 .07 24.22 .06 -12.80 .06 13.78 .07 -22.90 .06 17.44 .07 -2.21 .06 -7.98 .06 -2.69 .07 19.23 .06 -6.22 .06 8.52 .07 -12.45 .06 1.94 .06 2.01 .07 2.73 .06 -2.43 .07 2.93 .06 -10.36 .06 -8.01 .07 27.99 .06 -14.74 .06 2.45 .07 -7.39 .06 30.36 .06 -25.17 .07 7.25 .06 -14.10 .07 4.85 .06 2.12 .06 -4.32 .07 5.01 .06 10.61 .06 -17.45 .07 2.50 .06 3.59 .06 -9.25 .07 -1.89 .06 18.75 .07 -2.52 .06 -18.90 .06 1.04 .07 17.51 .06 3.59 .06 -4.41 .07 -1.13 .06 8.81 .06 -13.10 .07 10.64 .06 -.57 .07 -31.06 .06 26.78 .06 -4.96 .07 -5.69 .06 -1.49 .06 9.33 .07 -3.09 .06 -24.74 .06 10.92 .07 8.91 .06 14.22 .07 -8.98 .06 -5.76 .06 1.90 .07 -10.95 .06 3.71 .06 15.50 .07 -3.65 .06 9.67 .06 -12.41 .07 .79 .06 -19.85 .07 20.29 .06 17.76 .06 -11.52 .07 21.03 .06 -16.30 .06 -3.15 .07 -4.07 .06 -5.73 .06 4.11 .07 5.87 .06 -13.60 .07 10.76 .06 -.32 .06 7.13 .07 -4.81 .06 -11.65 .06 18.39 .07 -12.53 .06 -6.40 .06 8.87 .07 -4.99 .06 10.99 .07 -19.67 .06 1.70 .06 7.01 .07 16.13 .06 -5.75 .06 -16.38 .07 -5.97 .06 11.48 .06 -7.71 .07 15.03 .06 -3.39 .07 -23.90 .06 18.94 .06 15.81 .07 -20.00 .06 -3.09 .06 20.01 .07 1.68 .06 -13.82 .06 8.14 .07 13.90 .06 -25.75 .07 5.29 .06 5.12 .06 -20.97 .07 15.98 .06 7.23 .06 -6.92 .07 9.24 .06 -2.25 .06 -9.30 .07 7.62 .06 -.84 .06 -17.16 .07 6.55 .06 .46 .07 2.22 .06 .36 .06 -7.87 .07 11.95 .06 -15.18 .06 22.72 .07 -5.64 .06 9.10 .06 -8.38 .07 -6.98 .06 -7.55 .07 17.12 .06 20.37 .06 -22.83 .07 3.06 .06 3.65 .06 -10.11 .07 14.50 .06 -14.91 .06 .73 .07 5.49 .06 2.86 .07 20.59 .06 -43.91 .06 25.99 .07 -23.45 .06 7.74 .06 7.80 .07 6.42 .06 -17.79 .06 -5.56 .07 21.54 .06 -5.14 .07 -10.92 .06 5.79 .06 -13.45 .07 20.78 .06 -9.00 .06 14.50 .07 -27.06 .06 22.85 .06 11.95 .07 -16.83 .06 .11 .07 -16.62 .06 18.23 .06 -2.64 .07 -4.90 .06 -22.38 .06 56.00 .07 -37.22 .06 4.21 .06 6.58 .07 28.20 .06 -30.82 .07 7.63 .06 -17.21 .06 21.01 .07 -20.67 .06 1.76 .06 8.46 .07 5.43 .06 -4.35 .06 -5.65 .07 -2.19 .06 -21.70 .07 19.69 .06 12.52 .06 -6.40 .07 14.57 .06 -18.84 .06 4.93 .07 4.60 .06 -12.74 .06 3.79 .07 26.59 .06 -21.32 .07 12.07 .06 -20.37 .06 -11.48 .07 24.29 .06 -4.79 .06 2.63 .07 -4.86 .06 -2.38 .06 -5.18 .07 18.36 .06 17.74 .07 -18.19 .06 -9.76 .06 -7.12 .07 3.60 .06 13.34 .06 -1.92 .07 -1.93 .06 -3.32 .06 -9.67 .07 19.69 .06 -14.20 .07 -1.15 .06 .41 .06 .75 .07 -8.50 .06 8.32 .06 -2.98 .07 2.37 .06 -9.92 .06 29.80 .07 -25.68 .06 12.45 .06 -30.84 .07 36.56 .06 7.26 .07 -12.00 .06 2.46 .06 -9.53 .07 15.87 .06 -23.43 .06 9.35 .07 4.20 .06 3.71 .06 .60 .07 2.69 .06 -4.63 .07 -4.29 .06 1.44 .06 9.50 .07 -8.79 .06 4.74 .06 -7.91 .07 -12.63 .06 9.27 .06 6.92 .07 9.52 .06 -1.58 .07 1.88 .06 -31.85 .06 25.24 .07 -5.77 .06 4.75 .06 -4.89 .07 -8.84 .06 14.12 .06 -2.31 .07 3.08 .06 -11.01 .07 12.39 .06 .65 .06 1.58 .07 .08 .06 -11.79 .06 -12.92 .07 22.01 .06 -11.84 .06 4.29 .07 8.08 .06 -4.89 .07 -.25 .06 2.65 .06 -14.98 .07 21.82 .06 -12.87 .06 .32 .07 5.03 .06 -3.95 .06 -3.86 .07 3.91 .06 -1.38 .07 -1.46 .06 14.38 .06 3.46 .07 -26.20 .06 6.85 .06 -.18 .07 12.78 .06 -6.81 .06 3.66 .07 -1.18 .06 -8.20 .07 9.34 .06 -3.55 .06 9.38 .07 -9.23 .06 -1.32 .06 4.20 .07 .08 .06 -13.75 .06 16.33 .07 -.84 .06 -1.27 .07 10.22 .06 -25.57 .06 9.33 .07 5.53 .06 -1.52 .06 -16.15 .07 18.69 .06 -12.46 .06 .19 .07 7.10 .06 -3.04 .07 -.54 .06 -4.25 .06 13.75 .07 -11.78 .06 8.21 .06 2.07 .07 -4.59 .06 1.67 .06 4.08 .07 3.21 .06 -3.45 .07 -12.63 .06 -2.69 .06 6.92 .07 -2.83 .06 8.99 .06 -2.32 .07 -1.90 .06 7.19 .06 -.48 .07 -5.73 .06 2.20 .06 3.92 .07 -7.65 .06 3.43 .07 -6.78 .06 5.42 .06 1.55 .07 -2.25 .06 1.58 .06 2.61 .07 -1.40 .06 -6.07 .06 .54 .07 -3.37 .06 15.71 .07 -6.86 .06 .12 .06 -3.10 .07 3.29 .06 .33 .06 -6.84 .07 3.19 .06 7.09 .06 -13.19 .07 1.78 .06 8.29 .07 -7.41 .06 8.26 .06 -9.82 .07 7.09 .06 3.08 .06 -2.26 .07 2.07 .06 -5.05 .06 .09 .07 .73 .06 3.13 .07 10.77 .06 -14.20 .06 10.49 .07 -24.78 .06 8.82 .06 4.51 .07 3.50 .06 -1.10 .06 -.25 .07 2.20 .06 .18 .07 1.79 .06 -11.14 .06 6.35 .07 -5.12 .06 6.36 .06 -1.70 .07 1.28 .06 -3.34 .06 -1.92 .07 3.10 .06 4.81 .07 .56 .06 -12.86 .06 10.23 .07 .05 .06 -9.26 .06 1.99 .07 2.92 .06 4.93 .06 -14.52 .07 25.39 .06 -15.87 .07 3.79 .06 6.56 .06 -.42 .07 -22.31 .06 13.20 .06 3.34 .07 4.91 .06 1.42 .06 -5.87 .07 5.95 .06 -12.42 .07 -1.34 .06 -7.63 .06 9.08 .07 7.76 .06 1.47 .06 9.11 .07 -10.57 .06 -2.21 .06 -6.03 .07 1.87 .06 .13 .07 1.97 .06 -2.36 .06 -4.15 .07 13.26 .06 -3.21 .06 4.91 .07 -15.86 .06 1.70 .06 2.87 .07 10.29 .06 -7.23 .07 2.15 .06 -1.67 .06 -17.38 .07 15.07 .06 4.82 .06 -6.59 .07 3.24 .06 2.82 .06 13.39 .07 -12.62 .06 -6.61 .07 5.72 .06 -2.99 .06 3.63 .07 5.76 .06 -12.61 .06 10.36 .07 -9.16 .06 1.36 .06 10.95 .07 -3.75 .06 -2.27 .06 1.62 .07 1.90 .06 -10.13 .07 5.16 .06 -3.29 .06 4.30 .07 -3.88 .06 5.57 .06 -3.82 .07 -3.21 .06 2.83 .06 2.65 .07 3.32 .06 -6.61 .07 -15.05 .06 17.29 .06 2.70 .07 -6.92 .06 -10.23 .06 14.68 .07 -3.37 .06 -.21 .06 15.53 .07 -14.19 .06 4.38 .07 -11.03 .06 8.64 .06 2.76 .07 -2.95 .06 -2.03 .06 3.83 .07 -2.67 .06 6.86 .06 -5.95 .07 -5.28 .06 -6.30 .07 6.66 .06 2.30 .06 -4.81 .07 .86 .06 -3.46 .06 3.02 .07 6.46 .06 -2.06 .06 .43 .07 -.70 .06 .55 .07 5.62 .06 7.69 .06 -8.24 .07 8.03 .06 -12.37 .06 .38 .07 10.22 .06 -14.42 .06 -1.14 .07 4.77 .06 -9.94 .07 -1.40 .06 19.70 .06 -14.49 .07 3.84 .06 .12 .06 -3.47 .07 11.08 .06 -.82 .06 1.64 .07 13.42 .06 -18.39 .07 -24.56 .06 31.28 .06 -11.54 .07 4.64 .06 -3.29 .06 16.62 .07 -8.05 .06 -1.66 .06 -4.37 .07 4.67 .06 -11.54 .07 7.56 .06 -.58 .06 .02 .07 -5.45 .06 9.29 .06 -12.68 .07 5.25 .06 2.46 .06 .90 .07 -3.86 .06 -3.99 .07 -16.70 .06 21.86 .06 26.51 .07 -24.44 .06 -9.14 .06 10.31 .07 16.53 .06 -27.53 .06 9.92 .07 10.32 .06 -7.85 .07 5.53 .06 -24.07 .06 12.92 .07 16.67 .06 -17.06 .06 7.63 .07 -18.68 .06 23.95 .06 9.64 .07 -18.66 .06 21.23 .06 -17.34 .07 13.91 .06 -20.71 .07 28.77 .06 -9.93 .06 -24.85 .07 14.04 .06 -23.54 .06 15.43 .07 5.03 .06 -10.43 .06 4.68 .07 9.02 .06 -10.51 .07 9.85 .06 10.31 .06 -30.82 .07 19.21 .06 2.09 .06 -31.99 .07 39.66 .06 9.52 .06 -18.07 .07 .16 .06 -4.77 .07 -8.48 .06 12.88 .06 -7.80 .07 -.87 .06 13.59 .06 -10.58 .07 9.44 .06 -16.18 .06 4.91 .07 3.54 .06 10.94 .07 -11.75 .06 7.13 .06 -11.89 .07 26.93 .06 -14.68 .06 -14.02 .07 1.65 .06 10.61 .06 -14.16 .07 11.78 .06 .08 .07 -3.49 .06 7.07 .06 -2.51 .07 -2.27 .06 -13.63 .06 .24 .07 14.19 .06 -15.08 .06 13.34 .07 -3.42 .06 -4.06 .07 4.77 .06 -17.12 .06 17.52 .07 11.62 .06 -20.19 .06 13.85 .07 -.87 .06 18.52 .06 -29.04 .07 1.47 .06 .15 .07 -1.44 .06 -5.75 .06 14.01 .07 -7.93 .06 13.56 .06 -3.15 .07 -11.37 .06 5.36 .06 13.92 .07 -13.68 .06 4.39 .07 5.13 .06 -10.10 .06 6.76 .07 9.41 .06 -3.71 .06 -23.23 .07 26.49 .06 -14.02 .06 -3.12 .07 -.24 .06 15.04 .07 -7.29 .06 -3.73 .06 -5.32 .07 11.66 .06 4.18 .06 -17.47 .07 -.83 .06 5.93 .06 7.90 .07 -8.19 .06 2.40 .07 -5.88 .06 16.84 .06 -11.02 .07 2.22 .06 7.67 .06 -10.69 .07 1.46 .06 3.59 .06 -6.51 .07 14.64 .06 -11.01 .06 -3.91 .07 1.19 .06 -6.39 .07 18.37 .06 2.47 .06 -14.09 .07 -1.74 .06 -13.43 .06 12.13 .07 12.02 .06 -13.55 .06 13.32 .07 5.16 .06 -32.95 .07 18.34 .06 -3.14 .06 28.01 .07 -36.86 .06 12.33 .06 -7.53 .07 18.11 .06 2.94 .06 -22.74 .07 -.39 .06 7.78 .07 2.30 .06 .48 .06 6.89 .07 -17.96 .06 7.09 .06 1.24 .07 1.05 .06 -5.42 .06 4.38 .07 -1.94 .06 15.44 .07 -13.54 .06 -13.53 .06 21.82 .07 -3.14 .06 -8.24 .06 -.52 .07 2.68 .06 -19.19 .06 20.18 .07 13.60 .06 -2.90 .07 -11.07 .06 6.81 .06 -8.92 .07 27.92 .06 -27.66 .06 .44 .07 13.05 .06 -2.03 .06 3.39 .07 11.21 .06 -10.98 .07 -3.49 .06 -3.64 .06 6.39 .07 3.38 .06 -.47 .06 9.30 .07 -20.76 .06 -7.79 .06 -.12 .07 11.12 .06 -8.08 .07 16.81 .06 -29.57 .06 8.66 .07 11.14 .06 7.44 .06 -12.10 .07 17.55 .06 -8.52 .06 18.63 .07 -25.27 .06 4.36 .07 -11.07 .06 15.23 .06 -10.11 .07 5.95 .06 2.63 .06 -9.90 .07 10.95 .06 -21.69 .06 18.59 .07 -19.15 .06 22.89 .07 -12.57 .06 13.29 .06 1.00 .07 -10.99 .06 -3.76 .06 14.16 .07 -17.78 .06 14.29 .06 -6.68 .07 -1.77 .06 -1.52 .07 16.97 .06 -24.17 .06 7.48 .07 6.93 .06 4.17 .06 9.95 .07 -7.67 .06 -31.00 .06 23.92 .07 5.40 .06 -4.15 .07 -14.28 .06 12.94 .06 1.73 .07 -13.21 .06 6.07 .06 2.85 .07 22.49 .06 -46.74 .06 32.54 .07 -4.71 .06 -22.82 .06 17.11 .07 -1.34 .06 2.25 .07 .02 .06 8.38 .06 7.83 .07 -35.41 .06 27.21 .06 -2.06 .07 -29.22 .06 33.26 .06 -.91 .07 -6.90 .06 -1.47 .07 5.27 .06 -7.88 .06 4.90 .07 5.46 .06 -7.24 .06 -12.57 .07 17.46 .06 -12.57 .06 -1.44 .07 -.83 .06 15.84 .07 -19.37 .06 33.10 .06 -17.61 .07 -.16 .06 -5.68 .06 3.76 .07 1.56 .06 -9.97 .06 13.69 .07 17.24 .06 -27.58 .07 .61 .06 -2.67 .06 14.79 .07 -14.70 .06 4.09 .06 -8.74 .07 20.55 .06 -10.01 .06 3.38 .07 8.96 .06 -5.97 .07 -12.57 .06 10.89 .06 1.73 .07 -10.86 .06 -.82 .06 .01 .07 12.13 .06 -4.99 .06 -7.44 .07 11.52 .06 .63 .07 -10.76 .06 -5.01 .06 18.52 .07 9.87 .06 -7.83 .06 -2.99 .07 10.46 .06 -21.57 .06 24.33 .07 -15.35 .06 -5.83 .07 -17.02 .06 18.39 .06 4.06 .07 -22.13 .06 12.17 .06 11.28 .07 1.10 .06 -3.81 .06 8.24 .07 -6.24 .06 .05 .07 -11.07 .06 8.94 .06 2.49 .07 3.75 .06 -1.12 .06 -7.58 .07 1.02 .06 -9.21 .06 12.03 .07 -11.52 .06 5.47 .07 23.42 .06 -7.95 .06 -4.91 .07 -13.86 .06 -4.48 .06 8.13 .07 -3.80 .06 7.99 .06 -.25 .07 1.99 .06 -11.17 .07 4.31 .06 3.94 .06 .64 .07 -6.04 .06 1.59 .06 7.89 .07 -24.82 .06 17.39 .06 1.68 .07 -10.01 .06 3.09 .06 7.59 .07 -4.26 .06 10.96 .07 -2.93 .06 11.06 .06 -23.76 .07 21.29 .06 -17.61 .06 10.32 .07 1.01 .06 -5.35 .06 -3.15 .07 -2.36 .06 -7.91 .07 9.64 .06 -3.57 .06 10.10 .07 -8.95 .06 23.45 .06 -15.42 .07 -2.51 .06 -.23 .06 -1.72 .07 -1.44 .06 6.21 .07 1.59 .06 -10.16 .06 16.68 .07 -7.36 .06 -14.82 .06 28.35 .07 -13.02 .06 -9.42 .06 15.95 .07 -28.99 .06 35.40 .07 -27.48 .06 -.82 .06 4.37 .07 7.77 .06 -3.95 .06 8.56 .07 -11.64 .06 28.06 .06 -20.67 .07 -8.67 .06 14.41 .07 -5.12 .06 -3.61 .06 10.28 .07 -17.11 .06 5.62 .06 12.67 .07 -10.02 .06 4.97 .06 -.80 .07 -5.01 .06 5.36 .07 -11.42 .06 11.39 .06 -11.51 .07 7.00 .06 -6.14 .06 -17.38 .07 26.67 .06 4.42 .06 -11.82 .07 -2.45 .06 -8.07 .07 5.66 .06 7.10 .06 3.15 .07 -21.80 .06 20.55 .06 -10.18 .07 3.55 .06 12.15 .06 -1.02 .07 -14.02 .06 7.23 .07 3.68 .06 -9.68 .06 10.75 .07 -22.23 .06 22.73 .06 10.24 .07 -19.29 .06 14.15 .06 -4.37 .07 1.20 .06 -10.04 .07 5.43 .06 -.58 .06 11.57 .07 -10.86 .06 9.48 .06 -12.18 .07 -.40 .06 2.62 .06 -14.07 .07 10.35 .06 25.91 .07 -23.28 .06 2.29 .06 18.42 .07 -27.26 .06 16.40 .06 -16.08 .07 3.69 .06 20.87 .06 -20.54 .07 11.65 .06 -.57 .06 -20.07 .07 10.50 .06 10.93 .07 -11.51 .06 4.57 .06 9.34 .07 2.67 .06 -4.41 .06 8.14 .07 -17.77 .06 1.20 .06 -3.17 .07 -1.84 .06 -14.32 .07 19.56 .06 2.95 .06 2.20 .07 -3.86 .06 13.88 .06 -15.46 .07 6.28 .06 -5.18 .06 -12.94 .07 15.78 .06 3.11 .07 -9.85 .06 -1.55 .06 .68 .07 7.56 .06 -10.00 .06 8.31 .07 1.53 .06 -2.43 .06 -2.25 .07 -3.58 .06 .43 .07 2.76 .06 -3.95 .06 3.53 .07 -3.25 .06 9.10 .06 .56 .07 -9.02 .06 8.12 .06 -4.08 .07 -.75 .06 1.41 .07 -.13 .06 -6.64 .06 14.11 .07 -12.28 .06 -5.08 .06 8.17 .07 .16 .06 -2.68 .06 -3.97 .07 10.86 .06 -4.60 .07 .99 .06 -2.68 .06 1.44 .07 -1.80 .06 3.89 .06 -1.70 .07 2.59 .06 -.02 .06 -1.88 .07 16.32 .06 -12.61 .07 -9.87 .06 6.14 .06 4.49 .07 -8.94 .06 6.65 .06 -4.52 .07 1.89 .06 -.96 .06 .28 .07 2.69 .06 -2.22 .07 -7.17 .06 15.37 .06 -8.29 .07 -1.33 .06 5.36 .06 1.14 .07 -12.70 .06 9.11 .06 -8.82 .07 5.55 .06 1.66 .07 -1.44 .06 -.58 .06 -1.96 .07 2.68 .06 1.05 .06 -.11 .07 -4.24 .06 1.93 .06 6.55 .07 -1.32 .06 -3.48 .07 3.43 .06 -.89 .06 2.09 .07 -2.50 .06 -2.47 .06 -2.05 .07 3.55 .06 -7.44 .06 7.74 .07 -9.63 .06 5.75 .07 1.82 .06 3.59 .06 7.56 .07 -8.80 .06 -1.20 .06 -6.28 .07 11.89 .06 -11.83 .06 7.76 .07 -3.51 .06 11.75 .06 -9.64 .07 1.74 .06 -3.70 .07 2.13 .06 4.44 .06 -7.52 .07 .91 .06 .35 .06 -1.48 .07 -.33 .06 4.04 .06 4.81 .07 .09 .06 -9.84 .07 2.30 .06 2.19 .06 1.93 .07 -1.67 .06 .02 .06 1.30 .07 1.31 .06 -10.31 .06 6.97 .07 3.00 .06 2.51 .07 -2.08 .06 -5.20 .06 -.14 .07 3.52 .06 -.98 .06 1.29 .07 2.89 .06 -8.68 .06 3.35 .07 -7.57 .06 11.63 .07 -2.23 .06 -3.67 .06 4.06 .07 4.11 .06 -1.58 .06 -3.77 .07 -.88 .06 1.58 .06 -3.95 .07 22.99 .06 -20.54 .07 1.06 .06 1.01 .06 -2.89 .07 -1.33 .06 3.09 .06 -1.40 .07 2.79 .06 3.91 .06 -1.48 .07 -6.36 .06 1.15 .07 -4.11 .06 5.52 .06 -2.91 .07 -1.65 .06 1.18 .06 5.77 .07 -1.53 .06 -1.13 .06 4.02 .07 -5.26 .06 -1.98 .07 5.42 .06 -8.83 .06 8.15 .07 -.32 .06 .13 .06 1.69 .07 -4.05 .06 1.43 .06 -5.91 .07 3.79 .06 22.44 .07 -19.45 .06 4.29 .06 -4.77 .07 2.74 .06 -6.49 .06 3.54 .07 -6.11 .06 3.35 .06 -.36 .07 2.18 .06 .08 .07 -1.60 .06 -.97 .06 5.88 .07 -4.33 .06 -7.59 .06 9.68 .07 .60 .06 1.57 .06 2.72 .07 -9.49 .06 4.06 .07 -.86 .06 -5.56 .06 -2.39 .07 12.23 .06 -7.00 .06 1.55 .07 .81 .06 -.29 .06 1.81 .07 -5.81 .06 3.51 .06 .97 .07 -3.25 .06 1.26 .07 1.57 .06 .48 .06 -5.14 .07 4.49 .06 2.15 .06 17.19 .07 -16.27 .06 2.54 .06 -23.08 .07 18.37 .06 8.31 .07 -7.45 .06 -2.27 .06 1.74 .07 4.04 .06 -8.01 .06 7.08 .07 1.91 .06 -.53 .06 -23.15 .07 15.72 .06 -.65 .07 3.44 .06 5.05 .06 -1.93 .07 .86 .06 -2.59 .06 5.75 .07 -6.79 .06 -1.92 .06 2.86 .07 -2.19 .06 5.03 .07 1.86 .06 -2.94 .06 -6.46 .07 .46 .06 5.35 .06 -5.98 .07 5.51 .06 -6.61 .06 3.70 .07 -15.54 .06 14.41 .07 5.66 .06 .58 .06 1.85 .07 -6.15 .06 1.12 .06 .09 .07 1.19 .06 -6.65 .06 6.70 .07 1.08 .06 -7.09 .07 -.63 .06 3.90 .06 7.48 .07 -4.10 .06 -4.37 .06 2.15 .07 -5.53 .06 10.51 .06 -7.36 .07 4.70 .06 -7.02 .07 5.03 .06 -3.98 .06 6.04 .07 2.74 .06 -1.07 .06 -1.82 .07 1.51 .06 -8.01 .06 -.50 .07 3.84 .06 4.70 .07 -3.29 .06 2.04 .06 -7.70 .07 4.09 .06 -.62 .06 3.20 .07 5.80 .06 -4.47 .06 1.25 .07 -5.35 .06 .98 .07 3.23 .06 -1.48 .06 -7.04 .07 9.09 .06 -.15 .06 -2.48 .07 1.70 .06 -.98 .06 -3.45 .07 -4.32 .06 12.63 .07 -6.33 .06 -.22 .06 .45 .07 .37 .06 .55 .06 -4.83 .07 5.28 .06 -1.21 .06 -20.95 .07 20.10 .06 1.00 .06 -4.21 .07 3.63 .06 -.66 .07 .81 .06 -16.13 .06 18.94 .07 .79 .06 -4.47 .06 3.26 .07 1.25 .06 -4.68 .06 -1.03 .07 8.23 .06 -12.42 .07 -13.34 .06 19.80 .06 -4.22 .07 25.31 .06 -19.30 .06 -10.07 .07 11.77 .06 -3.52 .06 -3.40 .07 6.90 .06 -3.48 .07 -1.76 .06 -7.25 .06 11.85 .07 -3.04 .06 -2.54 .06 2.08 .07 4.62 .06 -5.80 .06 1.08 .07 -20.12 .06 16.44 .07 .42 .06 2.18 .06 .35 .07 5.07 .06 -3.47 .06 -1.27 .07 2.23 .06 -1.79 .06 3.32 .07 -8.49 .06 -2.23 .07 9.15 .06 -2.84 .06 2.28 .07 -5.39 .06 2.98 .06 1.29 .07 1.08 .06 -1.25 .06 4.05 .07 -6.03 .06 5.00 .07 -4.50 .06 1.46 .06 -3.47 .07 4.00 .06 -3.74 .06 7.00 .07 -5.51 .06 3.00 .06 -1.51 .07 .44 .06 -3.11 .07 10.64 .06 -8.43 .06 6.54 .07 -9.72 .06 11.44 .06 -3.49 .07 2.41 .06 -11.92 .06 10.54 .07 -5.05 .06 2.34 .07 4.55 .06 -5.27 .06 -3.60 .07 3.05 .06 -4.05 .06 4.69 .07 -1.33 .06 1.41 .06 -2.62 .07 -5.59 .06 5.53 .07 .60 .06 2.93 .06 .49 .07 -7.99 .06 9.27 .06 -.71 .07 -2.94 .06 1.18 .06 -8.57 .07 15.56 .06 -9.82 .07 -1.27 .06 6.60 .06 -1.71 .07 -3.88 .06 -15.97 .06 20.84 .07 2.37 .06 -9.18 .06 -1.98 .07 6.69 .06 6.76 .07 -13.20 .06 5.94 .06 -4.76 .07 4.21 .06 1.19 .06 .28 .07 -6.93 .06 .14 .06 12.85 .07 -4.32 .06 -9.77 .06 7.72 .07 3.58 .06 -4.92 .07 .41 .06 21.34 .06 -20.00 .07 -.61 .06 .52 .06 -2.84 .07 4.12 .06 -1.88 .06 -.52 .07 -5.22 .06 3.36 .07 1.73 .06 -2.32 .06 .47 .07 -2.46 .06 2.10 .06 -4.64 .07 1.62 .06 4.99 .06 1.34 .07 -18.04 .06 14.69 .07 2.20 .06 4.97 .06 1.45 .07 -8.09 .06 -1.82 .06 -.31 .07 9.57 .06 -11.05 .06 7.85 .07 -23.15 .06 18.12 .07 7.07 .06 -1.07 .06 -21.24 .07 23.73 .06 6.30 .06 -15.39 .07 2.67 .06 -6.43 .06 4.15 .07 7.92 .06 12.79 .07 -14.51 .06 -8.65 .06 25.86 .07 -42.28 .06 4.10 .06 17.20 .07 3.38 .06 14.74 .06 -33.54 .07 19.36 .06 -.16 .07 -25.22 .06 3.88 .06 22.14 .07 -21.10 .06 -4.58 .06 16.12 .07 -15.39 .06 24.36 .06 5.53 .07 -16.10 .06 21.22 .07 -32.50 .06 .22 .06 39.21 .07 .06 .06 -38.74 .06 28.56 .07 -10.63 .06 -4.08 .06 13.30 .07 11.57 .06 -.69 .07 -30.36 .06 -9.76 .06 37.11 .07 -2.37 .06 -24.99 .06 -9.88 .07 36.39 .06 -8.36 .06 -30.90 .07 5.31 .06 35.49 .07 -40.29 .06 20.89 .06 -4.68 .07 3.88 .06 11.79 .06 9.99 .07 -17.25 .06 19.31 .06 -19.30 .07 1.57 .06 2.45 .07 -23.31 .06 17.36 .06 -1.64 .07 10.19 .06 -27.77 .06 35.24 .07 -7.15 .06 -26.25 .06 -3.26 .07 39.12 .06 -20.75 .06 -11.81 .07 -3.04 .06 37.87 .07 -38.95 .06 23.07 .06 -18.72 .07 31.43 .06 -24.89 .06 -15.02 .07 21.93 .06 22.21 .06 -23.41 .07 -19.28 .06 2.52 .07 38.66 .06 -1.24 .06 -12.38 .07 -4.74 .06 6.33 .06 -31.29 .07 42.09 .06 -17.53 .06 -24.25 .07 1.52 .06 38.55 .07 -17.68 .06 -12.17 .06 33.83 .07 -40.68 .06 17.92 .06 4.40 .07 -27.67 .06 43.42 .06 -39.61 .07 -.13 .06 16.98 .07 -.27 .06 25.82 .06 -23.32 .07 14.63 .06 -35.77 .06 25.33 .07 -.22 .06 -25.09 .06 39.70 .07 -.06 .06 -16.87 .07 -19.12 .06 18.31 .06 -.69 .07 11.58 .06 -32.30 .06 29.86 .07 -16.43 .06 28.00 .06 -16.35 .07 13.83 .06 -36.90 .07 11.99 .06 13.75 .06 14.34 .07 -3.09 .06 -36.80 .06 11.18 .07 -10.35 .06 31.21 .06 6.07 .07 -36.51 .06 19.89 .07 .59 .06 15.48 .06 -6.20 .07 9.59 .06 -21.44 .06 21.04 .07 -1.68 .06 -23.97 .06 11.34 .07 -15.44 .06 29.99 .07 -2.11 .06 -23.68 .06 -1.00 .07 -11.56 .06 -4.88 .06 24.49 .07 -3.18 .06 3.20 .06 9.19 .07 -7.15 .06 -9.77 .07 -6.01 .06 16.27 .06 2.13 .07 -25.46 .06 35.98 .06 -33.08 .07 15.14 .06 6.79 .06 -13.47 .07 -4.91 .06 21.94 .07 8.59 .06 -16.65 .06 -12.04 .07 12.71 .06 8.12 .06 -14.12 .07 -2.87 .06 -7.91 .06 2.54 .07 6.96 .06 6.29 .06 14.50 .07 -14.12 .06 3.60 .07 -26.14 .06 37.61 .06 -18.25 .07 1.39 .06 -17.32 .06 12.07 .07 8.26 .06 -6.96 .06 11.90 .07 -4.14 .06 8.37 .07 -21.87 .06 5.58 .06 11.68 .07 -7.36 .06 -6.65 .06 3.00 .07 .74 .06 8.13 .06 10.35 .07 -16.59 .06 -5.39 .07 11.42 .06 1.90 .06 -14.75 .07 13.48 .06 -13.03 .06 5.41 .07 -4.12 .06 -5.58 .06 6.83 .07 -.55 .06 10.91 .07 -1.44 .06 -8.61 .06 -14.50 .07 9.72 .06 -5.90 .06 -7.40 .07 20.93 .06 -5.12 .06 6.29 .07 .52 .06 6.25 .07 -12.93 .06 13.06 .06 -25.98 .07 28.16 .06 -15.87 .06 -11.20 .07 12.81 .06 15.28 .06 4.44 .07 -21.80 .06 12.42 .07 -5.46 .06 3.40 .06 11.40 .07 -16.30 .06 -.76 .06 9.55 .07 -10.42 .06 8.47 .06 1.28 .07 -6.24 .06 4.24 .07 -18.30 .06 23.65 .06 -14.08 .07 -1.53 .06 18.17 .06 -1.53 .07 -14.01 .06 6.36 .06 -5.26 .07 -4.59 .06 9.18 .07 4.19 .06 8.34 .06 -16.03 .07 6.84 .06 -7.49 .06 .50 .07 9.71 .06 -18.66 .06 3.85 .07 1.42 .06 12.14 .07 -4.64 .06 .83 .06 -.79 .07 4.21 .06 -9.26 .06 1.22 .07 -.80 .06 5.15 .06 -10.60 .07 6.50 .06 16.43 .07 -11.55 .06 -3.43 .06 -6.02 .07 7.45 .06 -.30 .06 2.43 .07 -7.81 .06 6.54 .06 .91 .07 .82 .06 -7.63 .07 6.40 .06 6.70 .06 -13.48 .07 7.76 .06 -6.20 .06 -.10 .07 -4.86 .06 .94 .06 9.47 .07 -2.39 .06 6.58 .06 -17.36 .07 7.23 .06 -5.57 .07 10.01 .06 10.10 .06 -20.90 .07 8.40 .06 -.24 .06 .46 .07 -3.44 .06 .65 .06 12.37 .07 -15.59 .06 9.41 .07 -.36 .06 -12.77 .06 4.70 .07 22.80 .06 -6.66 .06 -11.73 .07 -2.19 .06 3.60 .06 6.76 .07 10.43 .06 -10.38 .07 -8.53 .06 -17.53 .06 12.84 .07 10.18 .06 -5.60 .06 -1.85 .07 6.17 .06 -2.10 .06 -13.14 .07 11.09 .06 -3.91 .07 7.61 .06 -23.96 .06 31.34 .07 -9.75 .06 -7.02 .06 -5.22 .07 5.20 .06 2.94 .06 -14.04 .07 21.45 .06 -2.53 .07 -4.45 .06 8.05 .06 -9.88 .07 -14.27 .06 29.85 .06 -4.41 .07 3.75 .06 -1.68 .06 -14.38 .07 7.65 .06 -2.40 .07 -5.39 .06 -.57 .06 10.10 .07 -10.50 .06 5.41 .06 2.18 .07 -2.51 .06 10.68 .06 -27.61 .07 20.08 .06 -4.10 .07 5.60 .06 -1.39 .06 -6.26 .07 -2.52 .06 3.68 .06 -2.86 .07 9.53 .06 -.55 .06 -23.68 .07 23.64 .06 1.18 .07 -12.29 .06 10.54 .06 4.35 .07 -8.26 .06 -7.66 .06 9.97 .07 -6.53 .06 9.47 .06 .31 .07 1.12 .06 -3.10 .07 -11.22 .06 16.96 .06 -15.82 .07 14.98 .06 -4.39 .06 -6.05 .07 1.17 .06 1.97 .06 10.91 .07 -11.37 .06 7.82 .07 -27.11 .06 22.54 .06 -2.26 .07 -18.34 .06 22.10 .06 4.57 .07 -12.80 .06 7.01 .06 -4.65 .07 7.02 .06 -1.03 .06 -10.06 .07 12.70 .06 4.66 .07 -12.40 .06 8.69 .06 -3.94 .07 -7.58 .06 9.70 .06 -9.52 .07 8.75 .06 -12.17 .06 .93 .07 10.06 .06 -1.45 .07 3.46 .06 -5.77 .06 -5.31 .07 14.52 .06 -13.22 .06 12.52 .07 -2.59 .06 5.18 .06 -21.72 .07 11.41 .06 -18.23 .07 22.33 .06 -9.71 .06 17.65 .07 -11.86 .06 -12.13 .06 14.41 .07 -2.23 .06 -3.64 .06 8.25 .07 -4.64 .06 -5.21 .07 4.26 .06 -.98 .06 4.00 .07 -3.69 .06 1.44 .06 -7.75 .07 4.05 .06 5.36 .06 12.20 .07 -17.51 .06 -.22 .07 9.25 .06 5.98 .06 -28.87 .07 12.70 .06 11.00 .06 -3.34 .07 -3.76 .06 -5.53 .06 6.85 .07 .45 .06 2.47 .07 -12.00 .06 3.11 .06 6.39 .07 7.16 .06 -3.33 .06 -7.54 .07 7.16 .06 -8.87 .06 2.91 .07 .38 .06 -1.98 .07 .85 .06 7.43 .06 -2.90 .07 -14.61 .06 19.44 .06 -4.02 .07 -8.43 .06 6.70 .06 3.57 .07 2.80 .06 -10.17 .07 -2.64 .06 -2.08 .06 7.36 .07 -5.40 .06 11.30 .06 -6.52 .07 4.57 .06 -4.60 .06 -3.09 .07 -1.70 .06 11.01 .07 -12.03 .06 9.27 .06 2.91 .07 -4.53 .06 6.79 .06 -7.71 .07 -1.49 .06 2.55 .06 -18.37 .07 18.96 .06 -1.65 .07 7.44 .06 -7.64 .06 4.58 .07 -2.07 .06 -1.81 .06 -1.45 .07 9.29 .06 -.44 .06 -6.36 .07 -3.90 .06 .58 .06 -2.64 .07 -2.01 .06 4.00 .07 2.55 .06 4.97 .06 -.44 .07 -2.35 .06 -3.58 .06 -16.39 .07 17.67 .06 .76 .06 -3.77 .07 2.03 .06 -.42 .07 -.05 .06 4.06 .06 2.28 .07 -7.18 .06 .36 .06 2.98 .07 13.65 .06 -25.26 .06 14.09 .07 -2.51 .06 -2.22 .07 6.51 .06 -5.83 .06 -7.64 .07 3.95 .06 1.37 .06 .19 .07 2.17 .06 -3.78 .06 4.98 .07 1.19 .06 -2.35 .07 -3.59 .06 2.57 .06 -1.53 .07 12.05 .06 -14.37 .06 -5.12 .07 4.49 .06 7.38 .06 2.37 .07 -5.03 .06 5.65 .07 -7.65 .06 5.58 .06 -6.63 .07 -1.79 .06 15.15 .06 -10.38 .07 4.43 .06 3.17 .06 -3.54 .07 -1.77 .06 -5.59 .07 11.40 .06 -11.48 .06 -4.31 .07 6.34 .06 .23 .06 2.49 .07 5.18 .06 -7.62 .06 .67 .07 -1.55 .06 -8.19 .07 8.21 .06 1.34 .06 -5.06 .07 12.95 .06 -.90 .06 -3.42 .07 1.25 .06 -6.01 .06 -13.65 .07 8.99 .06 21.78 .07 -17.46 .06 5.15 .06 -4.47 .07 -.86 .06 8.36 .06 -6.30 .07 -1.59 .06 2.18 .06 -6.03 .07 1.59 .06 9.07 .07 10.44 .06 -10.39 .06 -6.30 .07 6.44 .06 -7.97 .06 2.38 .07 -2.59 .06 4.97 .06 5.83 .07 -14.33 .06 8.62 .07 -6.89 .06 4.21 .06 -12.82 .07 6.60 .06 6.62 .06 -4.71 .07 12.82 .06 -10.47 .06 4.94 .07 -.47 .06 -.64 .06 -1.50 .07 -5.82 .06 15.60 .07 -8.44 .06 3.38 .06 -8.36 .07 7.06 .06 -3.91 .06 3.80 .07 -4.74 .06 -1.54 .06 19.55 .07 -15.26 .06 6.53 .07 -7.67 .06 -2.44 .06 6.26 .07 -7.43 .06 14.17 .06 -.99 .07 -2.05 .06 -4.01 .06 -2.23 .07 .43 .06 -.05 .07 -3.51 .06 5.30 .06 3.51 .07 -.08 .06 -14.89 .06 19.80 .07 -9.65 .06 -7.24 .06 4.32 .07 5.82 .06 -3.69 .07 -3.82 .06 -1.52 .06 9.34 .07 9.59 .06 .54 .06 -19.01 .07 -1.27 .06 7.68 .06 4.90 .07 -8.17 .06 -6.12 .07 4.83 .06 2.02 .06 -9.61 .07 15.24 .06 -8.61 .06 6.53 .07 -2.75 .06 -.18 .06 -6.30 .07 10.84 .06 -1.77 .07 4.68 .06 -21.32 .06 16.30 .07 -3.90 .06 6.62 .06 -3.16 .07 -6.19 .06 5.37 .06 -3.54 .07 .43 .06 3.90 .07 5.34 .06 -11.26 .06 3.61 .07 -3.60 .06 -9.56 .06 21.22 .07 2.16 .06 -5.59 .06 -8.49 .07 2.11 .06 2.65 .07 -.73 .06 -2.78 .06 4.69 .07 -3.08 .06 1.13 .06 10.28 .07 -7.96 .06 -7.70 .06 7.75 .07 -1.12 .06 2.05 .07 -.54 .06 -7.10 .06 6.14 .07 3.33 .06 6.97 .06 -8.95 .07 6.15 .06 -.63 .06 -11.56 .07 .38 .06 11.59 .07 -12.22 .06 1.73 .06 5.49 .07 -6.70 .06 10.41 .06 -1.86 .07 8.21 .06 -8.62 .06 -8.77 .07 9.75 .06 -.80 .07 -.88 .06 -5.06 .06 2.36 .07 11.52 .06 -9.88 .06 2.54 .07 -3.46 .06 -2.37 .06 4.27 .07 -5.33 .06 -6.77 .06 10.57 .07 -2.75 .06 -5.76 .07 8.82 .06 .88 .06 1.09 .07 -6.57 .06 -.51 .06 2.93 .07 -.84 .06 -5.41 .06 -10.50 .07 22.28 .06 -6.12 .07 -.50 .06 -2.70 .06 4.15 .07 1.87 .06 -.82 .06 5.81 .07 -7.71 .06 2.52 .06 -4.68 .07 6.57 .06 -2.59 .07 2.39 .06 .39 .06 -7.76 .07 5.12 .06 -3.99 .06 6.87 .07 -5.34 .06 7.85 .06 -5.31 .07 .11 .06 -4.77 .07 1.77 .06 1.56 .06 -4.44 .07 2.84 .06 -1.52 .06 -1.00 .07 3.66 .06 1.00 .06 -2.73 .07 3.27 .06 -3.53 .07 -3.16 .06 1.12 .06 5.42 .07 3.96 .06 -5.39 .06 .31 .07 -5.40 .06 16.31 .06 -10.54 .07 -4.14 .06 5.32 .07 -1.40 .06 -8.20 .06 .98 .07 3.77 .06 1.58 .06 5.42 .07 -6.69 .06 13.31 .06 -11.83 .07 3.24 .06 -2.22 .07 .75 .06 -2.18 .06 -4.87 .07 4.67 .06 8.83 .06 -3.01 .07 2.69 .06 -3.46 .06 -5.92 .07 .70 .06 4.37 .07 -3.79 .06 4.48 .06 2.90 .07 -.06 .06 -2.40 .06 -9.96 .07 12.07 .06 -11.29 .06 17.89 .07 -11.66 .06 10.58 .07 -8.70 .06 -2.57 .06 -2.98 .07 2.84 .06 -4.32 .06 -.82 .07 3.68 .06 .07 .06 1.70 .07 -1.78 .06 6.38 .07 -6.64 .06 .88 .06 4.66 .07 -13.16 .06 13.64 .06 -.45 .07 -18.63 .06 23.29 .06 -5.00 .07 3.20 .06 -2.43 .06 -3.64 .07 -1.97 .06 -15.08 .07 12.96 .06 15.20 .06 -14.25 .07 4.61 .06 -6.91 .06 6.99 .07 .55 .06 -9.34 .06 -8.77 .07 14.48 .06 -2.32 .07 -.55 .06 9.77 .06 -5.53 .07 4.73 .06 -5.67 .06 3.46 .07 -8.85 .06 3.66 .06 5.80 .07 -3.46 .06 5.20 .07 -5.46 .06 -2.20 .06 1.24 .07 9.55 .06 -6.95 .06 -3.67 .07 .88 .06 -3.72 .06 10.66 .07 -7.89 .06 5.12 .07 -3.68 .06 -.92 .06 -1.22 .07 5.50 .06 -3.32 .06 5.90 .07 1.05 .06 -8.56 .06 2.66 .07 6.81 .06 -3.35 .07 -3.78 .06 -6.69 .06 2.22 .07 1.08 .06 11.24 .06 -7.34 .07 -2.50 .06 .36 .06 -.10 .07 2.83 .06 12.31 .07 -19.75 .06 6.83 .06 3.86 .07 -13.20 .06 11.34 .06 -7.61 .07 -3.10 .06 12.41 .06 -5.37 .07 -11.80 .06 10.83 .07 .84 .06 -7.07 .06 21.86 .07 -13.36 .06 -4.93 .06 6.08 .07 .40 .06 -11.32 .06 13.30 .07 -1.44 .06 -2.32 .07 4.79 .06 4.57 .06 -13.75 .07 7.99 .06 -1.05 .06 -.74 .07 2.65 .06 .40 .06 -5.36 .07 -9.72 .06 7.22 .07 -.05 .06 9.75 .06 -6.40 .07 4.96 .06 -8.36 .06 4.26 .07 -1.13 .06 .53 .06 2.08 .07 3.90 .06 -8.77 .07 8.15 .06 -.87 .06 -3.65 .07 1.67 .06 -3.96 .06 -3.03 .07 3.09 .06 .21 .06 .70 .07 -3.32 .06 10.73 .06 -8.77 .07 5.12 .06 1.16 .07 -4.85 .06 1.52 .06 -3.75 .07 -1.98 .06 13.12 .06 -8.62 .07 -7.70 .06 4.15 .06 -2.16 .07 5.05 .06 5.71 .07 -1.17 .06 -6.78 .06 -.90 .07 6.18 .06 -1.69 .06 -1.92 .07 7.23 .06 -5.04 .06 -7.01 .07 -5.20 .06 11.34 .07 -6.80 .06 8.25 .06 .97 .07 4.92 .06 -11.01 .06 4.56 .07 -9.23 .06 6.83 .06 .48 .07 6.68 .06 -11.04 .07 6.19 .06 -.67 .06 6.69 .07 -10.24 .06 -.18 .06 5.15 .07 -2.25 .06 -.97 .06 -1.84 .07 2.77 .06 -5.22 .07 6.34 .06 1.17 .06 -.45 .07 6.68 .06 -5.58 .06 -5.86 .07 2.40 .06 3.49 .06 -3.77 .07 7.64 .06 -5.59 .07 -2.62 .06 -.56 .06 4.76 .07 -5.45 .06 -3.09 .06 7.41 .07 -3.77 .06 7.42 .06 1.31 .07 -8.31 .06 1.83 .07 -.50 .06 2.52 .06 -.93 .07 -3.57 .06 -2.92 .06 6.24 .07 4.63 .06 -9.44 .06 2.16 .07 -.25 .06 1.61 .07 -6.91 .06 -1.89 .06 7.73 .07 7.64 .06 -4.12 .06 .35 .07 -2.12 .06 -1.22 .06 3.54 .07 -8.00 .06 9.02 .07 -1.98 .06 -2.22 .06 4.80 .07 -5.88 .06 -.20 .06 2.99 .07 -11.73 .06 10.52 .06 -12.06 .07 15.43 .06 2.30 .07 -3.37 .06 -1.00 .06 .44 .07 -3.96 .06 10.19 .06 -4.04 .07 2.23 .06 -10.23 .06 6.16 .07 -.16 .06 1.89 .07 -6.46 .06 4.23 .06 -2.04 .07 7.28 .06 -10.35 .06 2.51 .07 -.51 .06 -2.21 .06 4.62 .07 -.09 .06 -2.86 .06 .94 .07 2.17 .06 -.93 .07 1.77 .06 -3.94 .06 -.71 .07 3.00 .06 -6.05 .06 -4.87 .07 11.69 .06 -10.24 .06 10.85 .07 3.81 .06 -9.68 .07 2.74 .06 5.63 .06 -6.37 .07 5.81 .06 1.03 .06 -3.84 .07 1.06 .06 1.99 .06 -2.36 .07 8.54 .06 -9.92 .07 .27 .06 -2.49 .06 3.88 .07 2.84 .06 -.04 .06 -3.47 .07 -5.77 .06 2.23 .06 4.82 .07 -5.12 .06 6.79 .07 -7.03 .06 4.52 .06 -3.72 .07 .47 .06 2.91 .06 -1.96 .07 4.51 .06 -3.21 .06 -3.74 .07 -5.04 .06 6.27 .07 1.99 .06 3.56 .06 -6.71 .07 8.79 .06 -2.76 .06 -3.76 .07 5.06 .06 -8.88 .06 1.44 .07 5.38 .06 -.04 .07 2.47 .06 .26 .06 -5.96 .07 -.59 .06 .88 .06 .28 .07 2.67 .06 -2.98 .06 5.93 .07 -14.08 .06 4.55 .07 14.25 .06 -7.98 .06 -.42 .07 -5.54 .06 -1.33 .06 10.63 .07 -3.46 .06 -2.14 .06 -3.19 .07 6.66 .06 -4.79 .07 3.05 .06 -8.67 .06 6.30 .07 1.83 .06 .65 .06 -4.50 .07 1.22 .06 5.70 .06 -4.21 .07 5.04 .06 -1.89 .07 1.75 .06 .10 .06 -2.07 .07 .95 .06 -4.88 .06 -.88 .07 3.36 .06 2.85 .06 -6.23 .07 9.16 .06 -.30 .07 -8.61 .06 .23 .06 -1.03 .07 3.85 .06 3.39 .06 -2.44 .07 -3.48 .06 4.32 .06 -.21 .07 2.24 .06 -.74 .06 -6.51 .07 1.26 .06 5.24 .07 -.27 .06 -1.67 .06 -3.60 .07 5.56 .06 -3.24 .06 6.40 .07 -2.87 .06 -5.44 .06 -1.55 .07 6.66 .06 -1.24 .07 -5.09 .06 3.85 .06 .49 .07 -3.44 .06 1.05 .06 -2.97 .07 1.03 .06 4.44 .06 -1.48 .07 -.19 .06 4.20 .07 -1.24 .06 -6.31 .06 8.29 .07 -8.36 .06 2.30 .06 1.37 .07 -2.19 .06 .20 .06 -2.38 .07 5.21 .06 -.55 .07 .05 .06 -6.89 .06 3.03 .07 6.06 .06 -1.91 .06 1.20 .07 -2.33 .06 -.65 .06 -6.73 .07 13.33 .06 -9.24 .07 1.92 .06 3.68 .06 -1.79 .07 1.12 .06 -1.76 .06 -3.10 .07 14.03 .06 -15.02 .06 5.45 .07 -6.07 .06 3.53 .07 -2.66 .06 2.16 .06 -1.68 .07 3.33 .06 2.87 .06 -4.87 .07 -.12 .06 -4.50 .06 13.28 .07 -5.85 .06 -4.07 .07 7.49 .06 -3.32 .06 -7.59 .07 2.27 .06 7.42 .06 -7.46 .07 .79 .06 1.31 .06 1.28 .07 .46 .06 3.59 .07 -1.15 .06 -4.04 .06 1.92 .07 -5.53 .06 7.06 .06 6.68 .07 -6.68 .06 -1.98 .06 -.34 .07 1.02 .06 2.87 .07 -7.49 .06 6.98 .06 -4.45 .07 3.23 .06 2.94 .06 -8.44 .07 12.68 .06 -5.36 .06 -4.15 .07 2.55 .06 -3.58 .07 2.74 .06 1.14 .06 -8.44 .07 7.69 .06 -.20 .06 2.98 .07 -1.08 .06 -4.51 .06 .27 .07 1.82 .06 2.26 .06 -4.48 .07 7.72 .06 -4.40 .07 -.29 .06 1.91 .06 -3.22 .07 2.65 .06 .43 .06 -8.41 .07 3.42 .06 -1.48 .06 3.70 .07 -2.95 .06 .60 .07 -1.40 .06 -3.73 .06 8.37 .07 -1.57 .06 1.00 .06 8.19 .07 -3.85 .06 -4.57 .06 -1.99 .07 3.91 .06 -5.53 .07 -.48 .06 5.48 .06 -5.93 .07 -1.06 .06 4.15 .06 4.66 .07 -7.90 .06 5.26 .06 -10.67 .07 9.76 .06 2.11 .07 -5.19 .06 .95 .06 -1.43 .07 2.06 .06 4.43 .06 -2.04 .07 -3.34 .06 4.13 .06 -9.70 .07 9.17 .06 1.11 .07 -5.60 .06 1.30 .06 2.50 .07 .65 .06 -2.12 .06 -1.32 .07 .24 .06 3.43 .06 -2.36 .07 -1.33 .06 .25 .07 10.86 .06 -5.52 .06 -.37 .07 -1.76 .06 -1.32 .06 -2.39 .07 .98 .06 2.40 .06 -.48 .07 -5.61 .06 7.66 .07 -2.96 .06 -4.07 .06 3.93 .07 7.71 .06 -7.80 .06 2.46 .07 -.89 .06 -3.75 .06 1.88 .07 2.36 .06 -3.73 .07 1.48 .06 1.06 .06 -.63 .07 .15 .06 1.92 .06 .38 .07 -1.56 .06 3.16 .06 .98 .07 -8.26 .06 4.97 .07 -.69 .06 .36 .06 -.52 .07 .01 .06 -.14 .06 2.81 .07 7.87 .06 -8.24 .06 -5.57 .07 9.53 .06 -2.76 .07 -6.63 .06 3.68 .06 1.69 .07 -3.38 .06 4.58 .06 -3.62 .07 7.40 .06 -5.69 .06 .64 .07 -3.84 .06 -1.09 .07 5.59 .06 -7.95 .06 7.10 .07 4.72 .06 2.96 .06 -14.56 .07 5.25 .06 1.81 .06 .32 .07 1.11 .06 -7.88 .06 4.63 .07 -6.05 .06 6.42 .07 6.94 .06 -10.30 .06 3.91 .07 -.43 .06 -5.82 .06 5.91 .07 -4.60 .06 3.77 .06 2.41 .07 -4.07 .06 3.58 .07 -5.90 .06 .86 .06 2.90 .07 -1.77 .06 .15 .06 2.71 .07 -3.78 .06 3.62 .06 -2.72 .07 5.06 .06 -3.40 .07 -1.01 .06 3.88 .06 -1.20 .07 .37 .06 -4.07 .06 4.67 .07 -3.74 .06 -3.50 .06 3.76 .07 6.35 .06 -5.60 .07 -2.96 .06 4.28 .06 -4.50 .07 1.58 .06 .64 .06 2.20 .07 .81 .06 -.83 .06 -1.03 .07 -1.49 .06 .33 .07 2.33 .06 -1.18 .06 -1.04 .07 6.49 .06 -2.77 .06 .10 .07 -1.92 .06 .23 .06 -.06 .07 1.98 .06 -4.98 .07 1.27 .06 6.20 .06 -5.35 .07 3.68 .06 -9.13 .06 6.96 .07 -.20 .06 -1.54 .06 .91 .07 -.45 .06 -5.18 .07 4.26 .06 -1.97 .06 -.94 .07 6.78 .06 -8.60 .06 3.23 .07 -.86 .06 5.87 .06 -5.42 .07 1.30 .06 3.07 .07 -9.10 .06 5.53 .06 2.60 .07 -1.40 .06 -2.31 .06 -.71 .07 1.77 .06 -2.05 .06 -.81 .07 8.72 .06 -2.42 .07 1.47 .06 -3.35 .06 -4.34 .07 2.55 .06 5.48 .06 -2.43 .07 -4.26 .06 5.03 .06 -1.40 .07 -1.30 .06 6.86 .07 -8.39 .06 1.41 .06 -.73 .07 4.99 .06 -.68 .06 -.55 .07 -2.73 .06 .58 .06 -.19 .07 -5.37 .06 1.57 .06 6.54 .07 -.22 .06 -7.64 .07 6.56 .06 -5.47 .06 -.71 .07 6.91 .06 -.89 .06 -1.13 .07 3.05 .06 .37 .06 -1.86 .07 -4.05 .06 4.20 .07 -.78 .06 .84 .06 2.90 .07 -9.19 .06 12.34 .06 -5.44 .07 -3.92 .06 6.31 .06 -6.46 .07 -2.09 .06 6.82 .07 -3.45 .06 4.26 .06 -5.22 .07 1.35 .06 -.41 .06 -3.71 .07 2.89 .06 -2.83 .06 2.30 .07 5.92 .06 -4.72 .07 -.73 .06 6.24 .06 -8.97 .07 4.09 .06 -.97 .06 4.08 .07 -3.13 .06 -.73 .06 2.02 .07 -1.31 .06 7.10 .07 -11.24 .06 7.99 .06 3.45 .07 -3.94 .06 -.41 .06 -4.45 .07 4.71 .06 -3.87 .06 4.02 .07 -10.22 .06 5.36 .07 -4.55 .06 9.58 .06 -5.41 .07 5.23 .06 -4.95 .06 -.32 .07 10.68 .06 -4.83 .06 .10 .07 1.09 .06 -2.49 .07 .74 .06 1.56 .06 -4.98 .07 -1.44 .06 6.00 .06 -2.44 .07 -1.82 .06 .77 .06 1.52 .07 -4.88 .06 -.12 .07 .55 .06 2.86 .06 -7.08 .07 .79 .06 6.92 .06 -.91 .07 -4.22 .06 6.41 .06 -3.86 .07 1.14 .06 2.41 .07 -1.52 .06 4.33 .06 -3.32 .07 4.69 .06 -13.80 .06 2.50 .07 .90 .06 2.99 .06 -2.25 .07 -.88 .06 .83 .07 .31 .06 5.91 .06 -4.33 .07 3.11 .06 2.09 .06 -.13 .07 -5.06 .06 -2.02 .06 7.82 .07 -10.05 .06 .89 .06 5.97 .07 .27 .06 -1.26 .07 -3.40 .06 4.40 .06 2.34 .07 -4.68 .06 7.78 .06 -7.12 .07 -3.29 .06 2.76 .06 -1.53 .07 .92 .06 -.75 .07 1.88 .06 3.15 .06 -1.96 .07 -.48 .06 -4.30 .06 -1.19 .07 3.89 .06 3.79 .06 -.08 .07 -1.74 .06 -5.09 .07 3.40 .06 1.26 .06 2.29 .07 -5.32 .06 1.92 .06 1.09 .07 -.49 .06 -5.11 .06 5.96 .07 -5.97 .06 1.44 .07 3.84 .06 -2.68 .06 3.25 .07 2.27 .06 -1.81 .06 2.07 .07 -4.58 .06 1.60 .06 -1.78 .07 -.84 .06 11.06 .07 -9.40 .06 6.82 .06 -6.35 .07 3.37 .06 -3.17 .06 -4.07 .07 9.92 .06 -6.13 .06 .87 .07 5.86 .06 -8.20 .07 12.19 .06 -8.46 .06 .69 .07 -10.72 .06 9.66 .06 4.54 .07 -2.81 .06 -1.82 .06 .06 .07 -.99 .06 3.13 .07 -5.13 .06 3.31 .06 2.83 .07 -1.76 .06 -1.39 .06 -3.98 .07 1.18 .06 2.65 .06 -1.15 .07 -.63 .06 -5.89 .07 8.57 .06 -3.50 .06 -.83 .07 5.42 .06 -3.69 .06 .08 .07 2.05 .06 -3.35 .06 -1.49 .07 -.33 .06 4.27 .07 -1.23 .06 -6.97 .06 11.14 .07 -4.28 .06 -2.15 .06 2.39 .07 -1.64 .06 1.56 .06 -1.87 .07 -1.71 .06 4.85 .07 -1.35 .06 .82 .06 1.12 .07 -1.24 .06 3.59 .06 -6.05 .07 -3.09 .06 -.01 .06 1.38 .07 7.23 .06 -8.01 .07 7.21 .06 -2.14 .06 -6.13 .07 9.42 .06 -6.17 .06 1.80 .07 1.40 .06 2.34 .06 -4.19 .07 2.86 .06 -4.87 .06 -.58 .07 8.40 .06 -2.82 .07 -.57 .06 3.03 .06 -.05 .07 -4.37 .06 1.15 .06 5.91 .07 -4.45 .06 -4.55 .06 7.74 .07 -1.14 .06 -12.01 .07 1.10 .06 14.92 .06 -1.18 .07 -9.22 .06 8.74 .06 -5.23 .07 1.22 .06 -6.06 .06 19.10 .07 -1.69 .06 -6.03 .07 -14.75 .06 7.81 .06 10.61 .07 -26.29 .06 1.41 .06 14.90 .07 .58 .06 -5.25 .06 -5.27 .07 20.91 .06 -16.29 .07 3.97 .06 2.27 .06 3.65 .07 6.55 .06 -24.04 .06 12.90 .07 -14.08 .06 25.00 .06 -18.52 .07 16.69 .06 -14.56 .07 7.84 .06 1.49 .06 -18.46 .07 4.67 .06 2.62 .06 10.54 .07 8.66 .06 -13.64 .06 3.23 .07 -14.47 .06 21.30 .07 2.36 .06 -10.65 .06 12.09 .07 -14.60 .06 -3.77 .06 -7.73 .07 14.31 .06 1.09 .06 6.56 .07 -10.92 .06 -3.11 .07 5.70 .06 -7.02 .06 5.58 .07 11.86 .06 -13.18 .06 6.19 .07 -1.78 .06 4.40 .06 1.25 .07 -9.96 .06 -3.22 .07 -6.02 .06 .04 .06 11.92 .07 5.18 .06 -12.52 .06 -7.59 .07 17.36 .06 -16.45 .06 8.91 .07 16.51 .06 -17.83 .07 4.14 .06 3.60 .06 .18 .07 -14.78 .06 24.68 .06 -25.21 .07 20.30 .06 -3.37 .06 -10.65 .07 14.43 .06 -3.33 .07 7.39 .06 -24.96 .06 -.06 .07 9.58 .06 1.63 .06 4.35 .07 -.13 .06 -6.92 .06 9.06 .07 -13.24 .06 11.74 .06 -16.46 .07 4.24 .06 -2.38 .07 22.33 .06 -8.26 .06 12.53 .07 -3.07 .06 -3.10 .06 -16.58 .07 17.98 .06 2.14 .06 -14.83 .07 -.80 .06 2.17 .07 9.01 .06 -14.34 .06 15.87 .07 3.23 .06 -8.00 .06 6.28 .07 -23.65 .06 -1.44 .06 10.51 .07 -.65 .06 13.28 .07 -3.16 .06 -4.23 .06 .99 .07 -4.47 .06 10.61 .06 -19.43 .07 7.04 .06 4.00 .06 4.95 .07 -5.69 .06 2.06 .07 -4.11 .06 2.37 .06 -2.73 .07 3.83 .06 -6.05 .06 12.09 .07 -4.16 .06 -4.86 .06 6.46 .07 -7.25 .06 6.30 .07 -4.23 .06 3.25 .06 -1.53 .07 -1.98 .06 .90 .06 .89 .07 -8.18 .06 6.92 .06 3.16 .07 -6.12 .06 .34 .07 -1.30 .06 -1.82 .06 8.80 .07 -6.45 .06 -.26 .06 3.68 .07 -.79 .06 9.18 .06 -6.54 .07 -7.62 .06 11.54 .07 -4.04 .06 -2.66 .06 -.93 .07 -3.40 .06 10.95 .06 -5.83 .07 -2.63 .06 7.01 .06 -4.11 .07 -6.21 .06 1.83 .07 2.51 .06 10.13 .06 -7.97 .07 -1.67 .06 2.25 .06 -.79 .07 -8.60 .06 9.08 .06 2.44 .07 -3.91 .06 1.80 .07 -.02 .06 -.72 .06 -2.78 .07 1.73 .06 4.65 .06 -3.45 .07 -1.96 .06 3.04 .06 -5.22 .07 1.20 .06 5.71 .07 -4.23 .06 -5.37 .06 1.37 .07 5.21 .06 -3.08 .06 5.07 .07 2.50 .06 -6.46 .06 .99 .07 -.86 .06 1.74 .06 -1.13 .07 2.70 .06 -3.18 .07 -1.16 .06 9.64 .06 -9.58 .07 8.34 .06 -3.17 .06 -7.20 .07 -1.02 .06 4.87 .06 1.14 .07 3.76 .06 -5.26 .07 -1.34 .06 7.29 .06 -6.58 .07 .22 .06 .16 .06 5.06 .07 -11.56 .06 12.75 .06 -9.63 .07 4.36 .06 4.19 .07 -8.09 .06 .62 .06 5.82 .07 -9.21 .06 10.35 .06 -4.25 .07 -2.81 .06 11.15 .06 -10.56 .07 3.44 .06 -.16 .07 -8.33 .06 7.21 .06 4.65 .07 -.46 .06 -1.68 .06 2.52 .07 -9.03 .06 9.36 .06 -1.85 .07 -1.42 .06 -1.03 .07 -2.55 .06 -.08 .06 3.62 .07 .26 .06 -1.35 .06 -2.54 .07 .40 .06 3.92 .06 4.97 .07 -13.55 .06 3.84 .07 2.22 .06 -.25 .06 2.78 .07 1.55 .06 -2.16 .06 -.35 .07 1.30 .06 2.68 .06 -3.69 .07 -2.87 .06 3.46 .07 -1.67 .06 6.75 .06 -6.01 .07 -.28 .06 3.57 .06 1.62 .07 -6.91 .06 3.94 .06 -4.19 .07 2.94 .06 -3.37 .07 3.10 .06 3.77 .06 -4.58 .07 .78 .06 -3.18 .06 3.57 .07 -.18 .06 -4.04 .06 -.99 .07 1.31 .06 -.90 .07 1.88 .06 -1.02 .06 -.34 .07 1.53 .06 1.10 .06 -.26 .07 -7.30 .06 7.72 .06 .80 .07 .42 .06 -1.07 .07 -.90 .06 4.44 .06 2.74 .07 -7.34 .06 6.13 .06 -6.01 .07 .38 .06 -3.27 .06 -1.67 .07 4.20 .06 2.98 .07 2.00 .06 -1.24 .06 -2.68 .07 6.81 .06 -6.92 .06 .28 .07 -2.12 .06 3.16 .06 -1.41 .07 2.71 .06 -.88 .06 4.22 .07 -6.12 .06 -4.60 .07 4.48 .06 -.66 .06 4.35 .07 -7.79 .06 7.09 .06 -5.06 .07 2.24 .06 3.44 .06 -6.40 .07 3.26 .06 -.53 .07 -.88 .06 1.53 .06 1.15 .07 -2.72 .06 2.81 .06 -1.52 .07 2.36 .06 2.66 .06 -2.64 .07 -.57 .06 -1.65 .07 -3.77 .06 9.27 .06 -5.86 .07 7.55 .06 -3.77 .06 -13.24 .07 17.14 .06 -1.28 .06 -6.49 .07 .25 .06 .62 .07 2.22 .06 -9.54 .06 7.47 .07 2.26 .06 -8.20 .06 3.44 .07 3.18 .06 -5.05 .06 3.34 .07 -1.57 .06 1.32 .07 4.08 .06 -6.45 .06 2.61 .07 3.78 .06 -.80 .06 -5.54 .07 4.27 .06 -1.34 .06 -1.96 .07 1.70 .06 5.34 .07 -6.99 .06 -.97 .06 .23 .07 -2.42 .06 4.04 .06 -1.33 .07 -2.62 .06 6.07 .06 -6.54 .07 0 .06 3.07 .07 -3.41 .06 3.19 .06 5.59 .07 -6.51 .06 2.62 .06 -.28 .07 .83 .06 -3.89 .06 2.61 .07 4.03 .06 -3.82 .07 -.78 .06 4.69 .06 -.94 .07 -9.55 .06 10.11 .06 -3.09 .07 -2.15 .06 -2.83 .06 2.26 .07 .55 .06 -.39 .07 -.62 .06 5.53 .06 -3.46 .07 1.20 .06 1.46 .06 1.05 .07 .16 .06 -.77 .06 3.12 .07 -5.66 .06 1.75 .07 -.41 .06 -.75 .06 -1.25 .07 4.25 .06 -1.57 .06 4.85 .07 1.97 .06 -.90 .06 -11.22 .07 10.85 .06 -7.41 .06 9.65 .07 -6.65 .06 -6.74 .07 -.70 .06 2.91 .06 -4.61 .07 5.65 .06 4.36 .06 -4.04 .07 3.11 .06 2.77 .06 -.09 .07 -11.55 .06 9.17 .07 -1.66 .06 2.04 .06 -2.56 .07 1.19 .06 .54 .06 2.52 .07 .62 .06 -2.11 .06 -3.25 .07 -5.56 .06 3.20 .07 -2.38 .06 4.15 .06 1.76 .07 3.80 .06 -4.08 .06 6.56 .07 -5.64 .06 -5.86 .06 11.93 .07 -10.39 .06 4.55 .07 2.98 .06 -2.70 .06 -.25 .07 -4.77 .06 -6.05 .06 11.82 .07 -1.13 .06 -.63 .06 .59 .07 -8.22 .06 6.93 .07 -.78 .06 -.07 .06 4.60 .07 -3.16 .06 4.66 .06 -7.59 .07 5.51 .06 -2.13 .06 .49 .07 .38 .06 1.33 .07 1.97 .06 -9.79 .06 4.13 .07 -.03 .06 -5.07 .06 12.71 .07 -8.42 .06 1.46 .06 -3.18 .07 1.87 .06 .51 .07 1.55 .06 -1.45 .06 -2.37 .07 8.68 .06 -5.21 .06 .77 .07 -.32 .06 4.42 .06 -7.14 .07 4.14 .06 -1.62 .07 .72 .06 3.02 .06 -3.18 .07 3.59 .06 -2.32 .06 -1.62 .07 -.79 .06 -.15 .06 .49 .07 -5.74 .06 4.29 .07 4.16 .06 -1.54 .06 .11 .07 -1.19 .06 1.05 .06 .61 .07 -6.14 .06 3.93 .06 .93 .07 -.21 .06 -.09 .07 -3.87 .06 2.20 .06 -1.53 .07 8.94 .06 -7.03 .06 -1.73 .07 -2.14 .06 4.57 .06 4.07 .07 -5.37 .06 2.76 .06 -8.39 .07 8.42 .06 -3.84 .07 -.32 .06 1.10 .06 4.01 .07 -8.04 .06 8.29 .06 -2.45 .07 3.05 .06 -6.16 .06 1.94 .07 -.98 .06 8.67 .07 -6.54 .06 -.54 .06 4.57 .07 -6.39 .06 -3.49 .06 6.56 .07 -.84 .06 -.69 .06 -2.80 .07 2.51 .06 .86 .07 1.21 .06 2.18 .06 -1.99 .07 -1.47 .06 -5.88 .06 5.87 .07 -1.46 .06 .67 .06 .35 .07 -.83 .06 1.03 .07 .47 .06 -1.09 .06 4.77 .07 -6.47 .06 5.51 .06 -4.60 .07 1.78 .06 -2.37 .06 2.32 .07 2.11 .06 -4.35 .07 1.92 .06 .14 .06 .08 .07 -1.97 .06 .39 .06 1.26 .07 3.81 .06 -2.46 .06 -1.09 .07 -3.60 .06 3.01 .07 1.01 .06 -2.73 .06 2.77 .07 -.17 .06 -.40 .06 3.51 .07 -5.20 .06 1.13 .06 1.49 .07 1.81 .06 -2.85 .07 -2.50 .06 4.29 .06 .88 .07 -3.11 .06 4.23 .06 1.31 .07 -3.73 .06 .52 .06 -.87 .07 .57 .06 -1.84 .07 1.15 .06 .79 .06 -.30 .07 -2.26 .06 -.68 .06 .12 .07 .43 .06 6.94 .06 -3.43 .07 -1.42 .06 -1.07 .07 3.75 .06 -6.26 .06 2.31 .07 1.89 .06 -1.61 .06 1.05 .07 .84 .06 -2.59 .06 1.96 .07 1.96 .06 -1.59 .07 -1.06 .06 1.96 .06 -4.76 .07 4.78 .06 -5.78 .06 1.75 .07 3.72 .06 5.13 .06 -9.42 .07 2.77 .06 2.02 .07 -2.63 .06 -3.78 .06 6.99 .07 -4.10 .06 1.09 .06 .26 .07 .54 .06 -.14 .06 -2.71 .07 8.97 .06 -4.92 .06 -5.09 .07 5.68 .06 -3.89 .07 .95 .06 -2.01 .06 1.67 .07 -1.38 .06 2.13 .06 -1.97 .07 1.24 .06 -3.55 .06 5.60 .07 -3.72 .06 1.44 .07 .56 .06 1.46 .06 -1.99 .07 3.76 .06 -.21 .06 -4.06 .07 4.42 .06 -5.83 .06 3.33 .07 -1.02 .06 .34 .07 -.67 .06 1.36 .06 .17 .07 -.47 .06 -2.27 .06 -.16 .07 -.27 .06 1.75 .06 1.09 .07 2.84 .06 -4.46 .07 -.37 .06 2.38 .06 -2.32 .07 -.91 .06 2.27 .06 -1.83 .07 1.43 .06 3.88 .06 -2.40 .07 -.12 .06 6.12 .07 -5.26 .06 -.81 .06 .99 .07 -1.74 .06 -.21 .06 -1.70 .07 .34 .06 1.19 .06 -.15 .07 .25 .06 0 .07 -2.68 .06 7.52 .06 -4.31 .07 -.91 .06 -1.51 .06 4.13 .07 -2.68 .06 -.95 .06 2.42 .07 2.71 .06 -2.87 .07 1.55 .06 -3.41 .06 2.76 .07 -4.83 .06 3.01 .06 1.74 .07 -.56 .06 1.08 .06 -8.67 .07 3.95 .06 3.11 .07 -2.07 .06 3.39 .06 -2.27 .07 -3.62 .06 6.73 .06 -4.78 .07 .11 .06 5.52 .06 -.81 .07 -.83 .06 -3.50 .07 2.51 .06 -.47 .06 -1.57 .07 1.06 .06 -.19 .06 .98 .07 -2.58 .06 3.39 .06 -4.37 .07 3.59 .06 .81 .07 -2.56 .06 .35 .06 4.30 .07 -3.89 .06 2.77 .06 -.92 .07 -2.85 .06 2.91 .06 -2.14 .07 1.29 .06 -4.06 .06 3.56 .07 1.89 .06 -.13 .07 -.34 .06 -1.81 .06 .23 .07 -1.69 .06 1.40 .06 .07 .07 -.34 .06 .79 .06 5.05 .07 -6.64 .06 0 .07 2.31 .06 -7.56 .06 8.02 .07 -1.89 .06 4.81 .06 -3.49 .07 -6.82 .06 6.97 .06 .97 .07 -5.00 .06 .64 .07 2.86 .06 -2.75 .06 7.83 .07 -3.56 .06 -8.04 .06 7.71 .07 -1.17 .06 1.44 .06 -2.04 .07 2.43 .06 -2.28 .07 -1.89 .06 1.51 .06 .83 .07 -3.15 .06 4.26 .06 -3.25 .07 2.21 .06 -.90 .06 6.46 .07 -6.30 .06 .31 .07 1.27 .06 -.37 .06 -1.76 .07 .96 .06 -6.68 .06 7.73 .07 -.02 .06 -1.12 .06 -.40 .07 .15 .06 1.30 .07 -1.17 .06 2.42 .06 2.23 .07 -4.52 .06 2.79 .06 -1.23 .07 .46 .06 -3.20 .06 3.21 .07 -2.59 .06 1.33 .07 1.31 .06 .59 .06 -3.55 .07 .13 .06 -.67 .06 -1.85 .07 -1.85 .06 4.57 .06 .70 .07 -.39 .06 .79 .07 .96 .06 -5.05 .06 6.74 .07 -3.70 .06 -.32 .06 .51 .07 1.94 .06 -1.34 .06 .47 .07 1.08 .06 -1.80 .07 .64 .06 .25 .06 -2.16 .07 -5.31 .06 5.74 .06 1.84 .07 -1.81 .06 .62 .06 -.29 .07 2.13 .06 -.35 .07 .14 .06 -1.80 .06 -1.00 .07 -.58 .06 2.76 .06 -1.02 .07 2.98 .06 1.05 .06 -2.36 .07 -6.65 .06 7.85 .06 .39 .07 -4.04 .06 2.34 .07 1.54 .06 -7.00 .06 3.76 .07 .86 .06 -1.74 .06 2.52 .07 -4.11 .06 5.47 .06 -.40 .07 -2.05 .06 1.10 .07 -3.80 .06 5.27 .06 -1.52 .07 -1.69 .06 -.57 .06 -.77 .07 1.16 .06 -3.26 .06 4.69 .07 -1.14 .06 -1.18 .07 2.05 .06 -.04 .06 .30 .07 .32 .06 .85 .06 -1.01 .07 1.74 .06 -3.37 .06 3.45 .07 -6.40 .06 .64 .07 1.05 .06 2.30 .06 .66 .07 -3.17 .06 1.83 .06 6.36 .07 -4.78 .06 -3.13 .06 6.81 .07 -5.13 .06 3.22 .07 -1.88 .06 -2.03 .06 1.67 .07 0 .06 -2.17 .06 1.51 .07 -2.30 .06 6.41 .06 -5.23 .07 .11 .06 3.59 .07 -.43 .06 -3.81 .06 3.41 .07 -.75 .06 -2.17 .06 1.63 .07 -1.41 .06 2.35 .06 -2.04 .07 -1.38 .06 1.33 .07 4.42 .06 -4.99 .06 1.04 .07 1.69 .06 -4.03 .06 5.50 .07 -6.34 .06 4.39 .06 -3.87 .07 2.84 .06 2.26 .07 -2.50 .06 -.42 .06 -.37 .07 -.91 .06 3.44 .06 -2.44 .07 -.43 .06 1.77 .06 1.17 .07 .03 .06 -2.99 .07 -.09 .06 2.86 .06 4.18 .07 -7.81 .06 -4.18 .06 6.08 .07 1.69 .06 1.67 .06 -3.30 .07 .55 .06 -2.86 .07 -1.46 .06 4.32 .06 -2.13 .07 -.04 .06 2.76 .06 .60 .07 -4.35 .06 3.47 .06 -.60 .07 .47 .06 -.28 .07 .83 .06 -2.38 .06 -.89 .07 2.87 .06 1.77 .06 -2.52 .07 2.70 .06 -1.49 .06 -3.29 .07 -1.91 .06 3.42 .06 -4.49 .07 3.78 .06 5.32 .07 -2.73 .06 -3.90 .06 1.37 .07 3.74 .06 .50 .06 -4.44 .07 1.59 .06 .96 .06 -1.77 .07 1.74 .06 2.37 .07 -4.80 .06 2.56 .06 .63 .07 .58 .06 -2.79 .06 1.86 .07 -2.52 .06 1.57 .06 -2.37 .07 2.58 .06 .47 .07 2.32 .06 -1.53 .06 -3.21 .07 -3.44 .06 6.92 .06 -.38 .07 -2.43 .06 -.24 .06 2.03 .07 -1.33 .06 2.97 .07 -2.31 .06 -2.11 .06 -1.29 .07 3.17 .06 .17 .06 -1.26 .07 -1.16 .06 1.10 .06 2.18 .07 -1.95 .06 -1.08 .07 2.96 .06 1.10 .06 2.72 .07 -5.72 .06 -1.06 .06 1.55 .07 1.29 .06 -.36 .06 1.04 .07 -.14 .06 -.68 .07 -.14 .06 -2.82 .06 4.13 .07 -2.08 .06 .95 .06 -3.67 .07 2.17 .06 1.12 .06 -2.10 .07 1.32 .06 .96 .07 -3.55 .06 1.45 .06 -1.80 .07 1.01 .06 .68 .06 1.13 .07 2.15 .06 -3.17 .06 1.13 .07 -1.07 .06 1.21 .07 1.20 .06 .56 .06 -3.02 .07 -1.04 .06 2.79 .06 -1.31 .07 -1.65 .06 3.92 .06 -.87 .07 1.38 .06 -4.07 .07 1.62 .06 1.28 .06 2.11 .07 -2.61 .06 -2.08 .06 2.29 .07 .22 .06 -1.88 .06 3.31 .07 -2.27 .06 -.97 .07 2.44 .06 .09 .06 -1.91 .07 .62 .06 -6.08 .06 5.53 .07 -.02 .06 2.03 .06 -.46 .07 -6.66 .06 3.49 .06 -.41 .07 3.90 .06 -3.44 .07 .59 .06 1.40 .06 -.92 .07 -.60 .06 -1.70 .06 5.03 .07 -2.93 .06 1.31 .06 .12 .07 -2.40 .06 .58 .07 3.25 .06 -1.30 .06 -.90 .07 2.90 .06 -4.03 .06 1.66 .07 -.42 .06 -.31 .06 -2.60 .07 3.13 .06 .70 .07 -3.71 .06 3.96 .06 .04 .07 1.53 .06 -4.37 .06 1.43 .07 -.35 .06 .54 .06 .53 .07 1.15 .06 -.01 .07 -2.14 .06 .54 .06 -2.66 .07 4.23 .06 -.49 .06 .95 .07 -4.25 .06 4.62 .06 -3.54 .07 -1.18 .06 2.79 .07 -1.53 .06 5.04 .06 -3.08 .07 2.25 .06 -3.23 .06 .28 .07 5.60 .06 -7.25 .06 1.04 .07 1.55 .06 -.01 .07 1.69 .06 -2.27 .06 -4.08 .07 5.01 .06 -2.01 .06 1.72 .07 -2.40 .06 .65 .06 1.19 .07 2.74 .06 -2.24 .07 -3.04 .06 2.56 .06 -1.55 .07 6.46 .06 -2.04 .06 3.38 .07 -1.14 .06 -4.52 .06 -.37 .07 -1.17 .06 1.56 .07 -1.66 .06 .97 .06 3.82 .07 -3.92 .06 .80 .06 .43 .07 -2.20 .06 -5.95 .06 5.71 .07 -.99 .06 1.69 .07 3.00 .06 -1.45 .06 -2.92 .07 6.74 .06 -3.69 .06 -1.27 .07 -1.05 .06 .43 .06 -.69 .07 2.61 .06 -.97 .07 -.04 .06 -.41 .06 3.68 .07 -3.30 .06 1.96 .06 -4.85 .07 -.30 .06 -.22 .06 1.55 .07 2.30 .06 -2.57 .06 2.06 .07 -1.44 .06 2.69 .07 -.56 .06 -1.87 .06 -2.33 .07 3.20 .06 -4.05 .06 -1.47 .07 7.75 .06 -2.23 .06 1.64 .07 -1.44 .06 .70 .07 -.83 .06 -1.84 .06 .05 .07 1.21 .06 .45 .06 -6.47 .07 6.25 .06 -.79 .06 1.01 .07 -.89 .06 3.23 .07 -3.74 .06 -1.70 .06 2.78 .07 2.84 .06 -4.92 .06 2.99 .07 4.07 .06 -4.27 .06 -1.46 .07 .39 .06 -1.53 .07 1.11 .06 .88 .06 6.25 .07 -4.04 .06 -2.31 .06 -.88 .07 3.04 .06 -.74 .06 -1.93 .07 7.20 .06 -2.89 .07 -3.07 .06 -.86 .06 1.31 .07 3.24 .06 -4.14 .06 2.41 .07 -9.37 .06 7.18 .06 -.65 .07 -.67 .06 2.08 .07 -2.42 .06 -.74 .06 1.51 .07 -1.66 .06 3.49 .06 5.23 .07 -6.83 .06 2.25 .06 -1.63 .07 6.19 .06 -5.34 .07 -1.14 .06 -1.75 .06 2.47 .07 -.79 .06 2.85 .06 -2.82 .07 -1.87 .06 .61 .06 .60 .07 1.79 .06 .81 .07 -1.58 .06 2.23 .06 -.19 .07 -3.90 .06 3.33 .06 -4.86 .07 5.78 .06 -3.33 .06 2.87 .07 -2.41 .06 2.17 .07 -1.93 .06 .35 .06 .53 .07 -1.73 .06 -1.78 .06 3.76 .07 -2.65 .06 1.44 .06 .20 .07 -3.98 .06 7.82 .07 -2.67 .06 2.03 .06 -2.69 .07 -.15 .06 -5.14 .06 4.11 .07 -2.60 .06 .89 .06 3.12 .07 -1.65 .06 -2.14 .07 8.55 .06 -12.12 .06 12.61 .07 -3.34 .06 -1.24 .06 3.71 .07 -6.15 .06 2.63 .06 -1.07 .07 -.36 .06 4.96 .06 -6.42 .07 1.05 .06 -.11 .07 2.85 .06 -.65 .06 -2.47 .07 3.44 .06 -3.35 .06 1.67 .07 .28 .06 -2.63 .06 2.38 .07 .33 .06 -.33 .07 -1.32 .06 -4.64 .06 11.20 .07 -6.41 .06 .40 .06 -2.15 .07 2.38 .06 3.79 .06 -6.85 .07 4.36 .06 -1.86 .07 2.36 .06 -.49 .06 -1.08 .07 -2.44 .06 .03 .06 2.60 .07 -1.99 .06 1.58 .06 -.87 .07 -.08 .06 -.84 .07 2.24 .06 -.88 .06 -.63 .07 .23 .06 1.61 .06 -4.55 .07 3.94 .06 4.29 .06 -5.49 .07 -1.84 .06 6.16 .07 -7.66 .06 4.10 .06 1.84 .07 -2.46 .06 -3.85 .06 3.17 .07 3.14 .06 -1.39 .06 -3.25 .07 4.95 .06 -2.21 .07 .21 .06 -4.46 .06 4.45 .07 -2.90 .06 3.60 .06 .23 .07 4.12 .06 -6.70 .06 4.25 .07 -4.28 .06 -.01 .07 2.28 .06 -1.51 .06 -.09 .07 1.37 .06 .18 .06 .15 .07 -.72 .06 1.92 .06 -2.33 .07 2.63 .06 -2.85 .07 .29 .06 1.73 .06 -3.43 .07 -1.96 .06 1.11 .06 4.88 .07 -4.79 .06 1.91 .06 .50 .07 .98 .06 -1.07 .07 -2.53 .06 1.53 .06 1.74 .07 4.43 .06 -4.42 .06 -1.82 .07 -2.32 .06 5.30 .06 -1.91 .07 .69 .06 .67 .07 -2.09 .06 -.28 .06 3.57 .07 -.69 .06 -4.04 .06 1.59 .07 -.37 .06 1.85 .06 -.22 .07 -1.52 .06 1.73 .06 1.11 .07 -2.01 .06 -1.64 .07 3.51 .06 -3.78 .06 .64 .07 2.84 .06 -1.58 .06 .09 .07 -1.23 .06 7.33 .06 -3.82 .07 .09 .06 -4.31 .07 1.66 .06 -.55 .06 .15 .07 -2.17 .06 4.96 .06 -4.16 .07 3.46 .06 -2.81 .06 -1.11 .07 4.94 .06 -3.24 .07 1.24 .06 .02 .06 -.60 .07 1.98 .06 -.16 .06 -2.94 .07 -.34 .06 2.56 .06 1.61 .07 -6.84 .06 2.21 .07 1.34 .06 2.52 .06 -.81 .07 -1.50 .06 2.18 .06 -4.64 .07 2.65 .06 -.46 .06 2.58 .07 -.22 .06 -.22 .07 -1.93 .06 .98 .06 .05 .07 -1.10 .06 .16 .06 -2.27 .07 3.04 .06 1.48 .06 -1.82 .07 -2.67 .06 3.65 .07 -1.09 .06 .74 .06 -1.38 .07 .27 .06 1.93 .06 -1.06 .07 -2.11 .06 -.28 .06 .31 .07 .11 .06 2.16 .07 .06 .06 -2.34 .06 3.80 .07 -2.01 .06 3.25 .06 -2.67 .07 .59 .06 .90 .06 -3.23 .07 2.38 .06 -.67 .07 -.19 .06 .86 .06 -3.90 .07 3.46 .06 -1.25 .06 2.72 .07 -1.50 .06 -.27 .06 -.03 .07 .50 .06 -1.32 .07 -2.56 .06 3.06 .06 .01 .07 .46 .06 -5.30 .06 1.67 .07 1.91 .06 -.26 .06 2.55 .07 -1.00 .06 -.66 .07 .16 .06 1.77 .06 -.14 .07 -2.34 .06 .36 .06 4.38 .07 -3.98 .06 -2.13 .06 3.46 .07 -1.60 .06 3.07 .06 -4.14 .07 3.52 .06 .25 .07 -1.69 .06 -4.86 .06 5.39 .07 1.18 .06 -7.84 .06 5.14 .07 -2.58 .06 5.29 .06 .59 .07 -2.31 .06 -1.26 .07 .04 .06 -1.32 .06 4.67 .07 -1.21 .06 -1.26 .06 -1.75 .07 .65 .06 1.63 .06 1.08 .07 -3.44 .06 -.12 .07 -3.14 .06 5.18 .06 -3.27 .07 5.14 .06 -1.21 .06 .24 .07 -.39 .06 .75 .06 -.60 .07 -.89 .06 .72 .07 -2.01 .06 1.35 .06 -.15 .07 -2.67 .06 2.09 .06 .29 .07 .32 .06 -.15 .06 -.92 .07 2.49 .06 -3.53 .07 -.77 .06 .75 .06 2.99 .07 1.99 .06 -2.09 .06 -1.07 .07 -1.23 .06 1.83 .06 5.03 .07 -8.11 .06 3.97 .07 -3.15 .06 .29 .06 4.06 .07 -2.92 .06 1.51 .06 .71 .07 1.64 .06 -.51 .06 -3.60 .07 1.46 .06 -1.20 .07 2.42 .06 -1.34 .06 -.09 .07 2.31 .06 .21 .06 -3.82 .07 .54 .06 1.96 .06 -1.51 .07 -6.70 .06 3.19 .07 4.94 .06 -2.74 .06 -2.72 .07 -3.39 .06 4.57 .06 7.36 .07 -7.33 .06 2.65 .06 3.40 .07 -4.83 .06 -.49 .07 -.29 .06 .01 .06 2.24 .07 1.30 .06 -.52 .06 -.77 .07 -.80 .06 1.61 .06 -.96 .07 -1.51 .06 1.00 .07 -3.58 .06 .25 .06 6.01 .07 -1.05 .06 1.35 .06 -.26 .07 -3.12 .06 2.80 .06 .10 .07 -1.41 .06 -1.96 .07 2.11 .06 6.02 .06 -8.34 .07 .81 .06 .03 .06 -.90 .07 3.58 .06 -2.24 .06 1.55 .07 -3.03 .06 .38 .06 3.40 .07 -4.35 .06 4.58 .07 -4.27 .06 1.76 .06 1.97 .07 .45 .06 3.11 .06 -5.11 .07 1.25 .06 -2.33 .06 3.60 .07 -2.55 .06 -.02 .07 3.47 .06 -4.04 .06 2.96 .07 2.37 .06 -3.57 .06 -.74 .07 -2.21 .06 2.73 .06 -3.88 .07 .04 .06 .68 .07 -.49 .06 1.97 .06 1.87 .07 -2.50 .06 -.68 .06 1.53 .07 1.03 .06 2.84 .06 -4.83 .07 .70 .06 3.63 .07 -3.08 .06 -1.39 .06 1.85 .07 -2.01 .06 .05 .06 5.11 .07 -2.69 .06 -7.01 .06 4.16 .07 -1.18 .06 7.89 .07 -4.40 .06 -1.88 .06 -1.25 .07 -1.15 .06 9.89 .06 -4.84 .07 1.70 .06 -4.68 .06 5.40 .07 -6.35 .06 .61 .07 1.14 .06 6.88 .06 -3.85 .07 -3.73 .06 5.70 .06 -3.10 .07 -.36 .06 -2.67 .06 1.63 .07 .02 .06 1.95 .07 -1.22 .06 .39 .06 -2.40 .07 2.53 .06 -3.42 .06 7.73 .07 -8.23 .06 3.91 .06 -3.74 .07 3.01 .06 -2.25 .07 -1.89 .06 6.02 .06 -1.87 .07 .74 .06 -1.13 .06 5.51 .07 -4.36 .06 .24 .06 1.65 .07 -1.81 .06 4.18 .07 -9.13 .06 -4.26 .06 2.69 .07 8.69 .06 .94 .06 3.76 .07 -2.11 .06 -6.08 .06 3.01 .07 -1.19 .06 6.02 .07 -.81 .06 -12.46 .06 4.06 .07 6.42 .06 -7.60 .06 7.80 .07 -4.80 .06 4.50 .06 -1.42 .07 -7.23 .06 6.32 .06 .30 .07 -.28 .06 -.84 .07 -5.93 .06 8.86 .06 .20 .07 -6.15 .06 9.28 .06 -6.07 .07 -5.07 .06 3.83 .06 1.63 .07 .78 .06 .70 .07 -1.10 .06 -2.46 .06 -3.76 .07 .94 .06 5.21 .06 .56 .07 -4.84 .06 8.53 .06 -4.67 .07 -.39 .06 2.68 .07 -.39 .06 -4.57 .06 6.82 .07 -2.52 .06 -.90 .06 -2.48 .07 4.95 .06 -8.37 .06 4.76 .07 -.16 .06 .35 .07 1.06 .06 1.06 .06 -7.27 .07 3.23 .06 1.07 .06 -3.77 .07 5.83 .06 -4.58 .06 2.08 .07 -8.91 .06 6.39 .07 7.72 .06 -7.34 .06 5.26 .07 -4.43 .06 -3.32 .06 2.78 .07 4.01 .06 -1.96 .06 1.17 .07 2.76 .06 2.87 .07 -7.03 .06 -7.30 .06 13.50 .07 -5.80 .06 -1.98 .06 1.36 .07 3.83 .06 -7.00 .06 7.74 .07 -6.40 .06 -3.28 .07 12.52 .06 -7.89 .06 -.19 .07 .30 .06 3.42 .06 -1.57 .07 -10.55 .06 9.03 .06 -1.39 .07 4.14 .06 .90 .07 -1.56 .06 -1.60 .06 -.23 .07 .57 .06 -.60 .06 4.76 .07 4.29 .06 -10.93 .06 -2.78 .07 9.80 .06 -2.59 .07 -11.23 .06 5.64 .06 1.05 .07 -2.17 .06 4.60 .06 -1.61 .07 -6.39 .06 9.31 .06 -5.65 .07 2.00 .06 -1.22 .07 4.73 .06 -4.91 .06 7.21 .07 -5.01 .06 10.20 .06 -5.34 .07 -6.04 .06 4.11 .06 -2.16 .07 -7.78 .06 15.40 .06 -9.09 .07 2.16 .06 -1.53 .07 .30 .06 -3.77 .06 4.17 .07 5.85 .06 -4.22 .06 -5.34 .07 2.48 .06 3.44 .06 -3.59 .07 1.72 .06 -1.71 .07 7.63 .06 2.83 .06 -.73 .07 -6.84 .06 -2.00 .06 -5.59 .07 7.90 .06 -1.93 .06 2.79 .07 .23 .06 -1.91 .07 4.80 .06 2.27 .06 -12.10 .07 5.13 .06 -4.29 .06 3.50 .07 -.09 .06 -1.83 .06 -.16 .07 6.71 .06 -8.43 .07 -3.73 .06 7.24 .06 -8.22 .07 8.65 .06 -5.55 .06 7.05 .07 -3.37 .06 1.98 .06 -1.29 .07 4.46 .06 .22 .07 -4.39 .06 6.66 .06 -2.52 .07 -5.22 .06 4.41 .06 .96 .07 .78 .06 -4.41 .06 1.79 .07 -1.80 .06 1.19 .07 -7.17 .06 8.04 .06 5.35 .07 -7.30 .06 .41 .06 -.55 .07 6.21 .06 -9.64 .06 4.09 .07 -8.72 .06 14.19 .07 -7.24 .06 1.89 .06 -4.99 .07 6.23 .06 2.89 .06 -4.81 .07 3.68 .06 -4.69 .06 5.28 .07 -3.36 .06 .34 .07 -.67 .06 1.69 .06 1.05 .07 -2.65 .06 1.83 .06 -2.58 .07 1.50 .06 6.97 .06 -7.72 .07 -5.12 .06 12.24 .07 -9.45 .06 .51 .06 3.26 .07 3.06 .06 -7.57 .06 -.87 .07 1.72 .06 .51 .06 .10 .07 1.49 .06 -1.06 .07 .92 .06 -1.11 .06 4.50 .07 -1.12 .06 5.38 .06 -6.41 .07 7.35 .06 -8.99 .06 8.52 .07 -14.83 .06 4.21 .07 .17 .06 4.72 .06 1.63 .07 -3.23 .06 -.82 .06 2.79 .07 -3.28 .06 -1.87 .06 .31 .07 5.78 .06 3.97 .06 -7.65 .07 -8.95 .06 7.38 .07 -4.22 .06 .01 .06 4.77 .07 -2.90 .06 -1.89 .06 5.64 .07 -.80 .06 -2.05 .06 3.13 .07 1.64 .06 .88 .07 -2.67 .06 2.21 .06 -9.57 .07 8.55 .06 -6.35 .06 -2.23 .07 11.78 .06 -8.20 .06 5.24 .07 -6.27 .06 3.03 .07 1.97 .06 -2.54 .06 4.34 .07 -3.13 .06 -.20 .06 1.88 .07 -1.90 .06 4.90 .06 -5.50 .07 6.25 .06 -6.49 .07 .53 .06 -.84 .06 4.48 .07 -11.89 .06 10.71 .06 -1.34 .07 -7.90 .06 3.36 .06 6.73 .07 -5.19 .06 6.86 .07 -4.44 .06 2.40 .06 -4.61 .07 4.32 .06 2.03 .06 -10.73 .07 11.89 .06 -.84 .06 -6.11 .07 9.35 .06 -9.33 .07 4.11 .06 1.82 .06 -4.11 .07 -1.38 .06 4.31 .06 -1.45 .07 -3.46 .06 .16 .06 2.85 .07 2.55 .06 .62 .07 -1.25 .06 -4.52 .06 .36 .07 -5.10 .06 2.20 .06 6.00 .07 .28 .06 .01 .06 -8.15 .07 14.08 .06 -8.33 .07 -.56 .06 1.36 .06 -8.14 .07 4.20 .06 1.41 .06 5.93 .07 -4.96 .06 3.08 .06 -1.48 .07 -.56 .06 2.43 .07 -3.97 .06 -3.55 .06 2.11 .07 2.91 .06 7.64 .06 -10.74 .07 .03 .06 4.52 .06 1.00 .07 -4.04 .06 5.22 .07 -5.72 .06 6.68 .06 -.57 .07 -3.34 .06 5.24 .06 -5.19 .07 -1.89 .06 6.58 .06 -7.99 .07 5.30 .06 -3.96 .06 1.19 .07 2.39 .06 .24 .07 4.21 .06 -3.60 .06 .27 .07 -8.61 .06 2.22 .06 8.52 .07 -7.75 .06 2.07 .06 2.15 .07 -3.01 .06 -1.18 .07 4.86 .06 -1.05 .06 -1.58 .07 4.11 .06 -4.18 .06 -7.30 .07 10.39 .06 .58 .06 -4.10 .07 -2.04 .06 1.94 .07 4.25 .06 -5.74 .06 2.07 .07 -1.51 .06 -2.05 .06 7.40 .07 -2.74 .06 1.64 .06 .99 .07 -10.31 .06 3.82 .07 9.69 .06 -7.86 .06 8.59 .07 -14.12 .06 6.76 .06 .92 .07 -1.13 .06 -.87 .06 1.27 .07 .90 .06 6.71 .07 -9.34 .06 5.89 .06 -4.05 .07 .43" stroke="#1a99ff" stroke-width="0.8" fill="none" stroke-linejoin="round"/>
<text transform="translate(14.2 208.35) rotate(-90)" text-anchor="middle" font-size="13.75">Error</text>
<text x="300.8" y="289.9" text-anchor="middle" font-size="13.75">Data Number</text>
</svg>
</body></html>
